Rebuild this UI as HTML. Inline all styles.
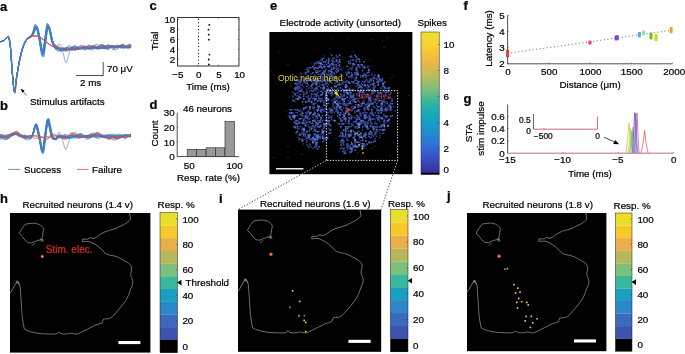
<!DOCTYPE html>
<html lang="en"><head><meta charset="utf-8"><title>Figure</title>
<style>html,body{margin:0;padding:0;background:#fff}svg{display:block}text{font-family:'Liberation Sans', Arial, Helvetica, sans-serif;font-size:9.8px;stroke:#000;stroke-width:.22px}</style>
</head><body>
<svg width="685" height="354" viewBox="0 0 685 354">
<rect width="685" height="354" fill="#fff"/>
<text x="0" y="11" font-weight="bold" style="font-size:13px">a</text>
<text x="0" y="110" font-weight="bold" style="font-size:13px">b</text>
<text x="149.5" y="10" font-weight="bold" style="font-size:13px">c</text>
<text x="149.5" y="109" font-weight="bold" style="font-size:13px">d</text>
<text x="270" y="10.2" font-weight="bold" style="font-size:13px">e</text>
<text x="463.5" y="10.3" font-weight="bold" style="font-size:13px">f</text>
<text x="463.5" y="103" font-weight="bold" style="font-size:13px">g</text>
<text x="0" y="202.5" font-weight="bold" style="font-size:13px">h</text>
<text x="219" y="202.5" font-weight="bold" style="font-size:13px">i</text>
<text x="447" y="199.5" font-weight="bold" style="font-size:13px">j</text>
<g stroke-linejoin="round">
<path d="M0.3 41.9 0.7 41.7 1.1 41.6 1.5 41.5 1.9 41.4 2.3 41.3 2.7 41.2 3.1 41.1 3.5 40.9 3.9 40.7 4.3 40.4 4.7 40.1 5.1 39.6 5.5 39.1 5.9 38.5 6.3 37.9 6.7 37.4 7.1 36.9 7.5 36.5 7.9 36.3 8.3 36.2 8.7 36.5 9.1 37.4 9.5 38.8 9.9 40.9 10.3 43.7 10.7 47.2 11.1 51.6 11.4 56.8 11.8 62.5 12.2 68.1 12.6 73.4 13 78 13.4 82.7 13.8 87.2 14.2 90.8 14.6 93 15 93 15.4 90.9 15.8 87.3 16.2 83.3 16.6 79.5 17 76.7 17.4 74.1 17.8 71.6 18.2 69.2 18.6 66.9 19 64.6 19.4 62.5 19.8 60.5 20.2 58.6 20.6 56.8 21 55.2 21.4 53.6 21.8 52.1 22.2 50.6 22.6 49.3 23 48 23.4 46.8 23.8 45.7 24.2 44.7 24.6 43.7 25 42.9 25.4 42.1 25.8 41.4 26.2 40.8 26.6 40.1 27 39.6 27.4 39.1 27.8 38.6 28.2 38.2 28.6 37.9 29 37.6 29.4 37.4 29.8 37.2 30.2 37 30.6 36.9 31 36.7 31.4 36.6 31.8 36.5 32.2 36.4 32.6 36.3 33 36.2 33.3 36.1 33.7 36.1 34.1 36.1 34.5 36.1 34.9 36.1 35.3 36.1 35.7 36.1 36.1 36.2 36.5 36.2 36.9 36.3 37.3 36.4 37.7 36.5 38.1 36.6 38.5 36.7 38.9 36.8 39.3 37 39.7 37.1 40.1 37.4 40.5 37.6 40.9 37.9 41.3 38.2 41.7 38.5 42.1 38.9 42.5 39.2 42.9 39.5 43.3 39.9 43.7 40.2 44.1 40.6 44.5 40.9 44.9 41.2 45.3 41.5 45.7 41.8 46.1 42.1 46.5 42.4 46.9 42.7 47.3 43 47.7 43.3 48.1 43.6 48.5 43.9 48.9 44.1 49.3 44.4 49.7 44.6 50.1 44.8 50.5 45.1 50.9 45.3 51.3 45.5 51.7 45.8 52.1 46 52.5 46.2 52.9 46.4 53.3 46.5 53.7 46.6 54.1 46.6 54.5 46.7 54.9 46.7 55.2 46.7 55.6 46.7 56 46.6 56.4 46.5 56.8 46.4 57.2 46.3 57.6 46.2 58 46.1 58.4 46.2 58.8 46.5 59.2 46.9 59.6 47.3 60 47.8 60.4 48.1 60.8 48.3 61.2 48.4 61.6 48.4 62 48.3 62.4 48.3 62.8 48.3 63.2 48.4 63.6 48.6 64 48.8 64.4 49 64.8 49.3 65.2 49.5 65.6 49.6 66 49.7 66.4 49.7 66.8 49.7 67.2 49.7 67.6 49.6 68 49.5 68.4 49.3 68.8 49.1 69.2 48.9 69.6 48.7 70 48.5 70.4 48.4 70.8 48.3 71.2 48.3 71.6 48.2 72 48.2 72.4 48.1 72.8 48.1 73.2 48.2 73.6 48.3 74 48.5 74.4 48.7 74.8 48.8 75.2 48.9 75.6 48.9 76 48.8 76.4 48.7 76.7 48.5 77.1 48.3 77.5 48 77.9 47.7 78.3 47.5 78.7 47.2 79.1 46.9 79.5 46.6 79.9 46.4 80.3 46.3 80.7 46.2 81.1 46.1 81.5 46 81.9 45.9 82.3 45.8 82.7 45.7 83.1 45.7 83.5 45.8 83.9 46.1 84.3 46.4 84.7 46.7 85.1 47 85.5 47.3 85.9 47.4 86.3 47.4 86.7 47.4 87.1 47.3 87.5 47.3 87.9 47.2 88.3 47.1 88.7 47.1 89.1 47.1 89.5 47.2 89.9 47.2 90.3 47.3 90.7 47.5 91.1 47.6 91.5 47.7 91.9 47.7 92.3 47.8 92.7 47.8 93.1 47.9 93.5 48 93.9 48.1 94.3 48.2 94.7 48.4 95.1 48.6 95.5 48.7 95.9 48.8 96.3 48.9 96.7 48.9 97.1 48.8 97.5 48.7 97.9 48.6 98.3 48.5 98.6 48.4 99 48.3 99.4 48.2 99.8 48 100.2 47.8 100.6 47.7 101 47.5 101.4 47.5 101.8 47.4 102.2 47.4 102.6 47.5 103 47.6 103.4 47.6 103.8 47.7 104.2 47.8 104.6 47.9 105 48 105.4 48.1 105.8 48.2 106.2 48.3 106.6 48.3 107 48.3 107.4 48.3 107.8 48.2 108.2 48.1 108.6 48 109 47.8 109.4 47.7 109.8 47.6 110.2 47.5 110.6 47.4 111 47.3 111.4 47.2 111.8 47.1 112.2 47.1 112.6 47.1 113 47.1 113.4 47.1 113.8 47.2 114.2 47.2 114.6 47.1 115 47.1 115.4 47.1 115.8 47.1 116.2 47 116.6 47 117 47 117.4 47 117.8 46.9 118.2 46.8 118.6 46.7 119 46.5 119.4 46.3 119.8 46.1 120.2 45.8 120.5 45.6 120.9 45.4 121.3 45.3 121.7 45.2 122.1 45.1 122.5 45.1 122.9 45.1 123.3 45.1 123.7 45.1 124.1 45.3 124.5 45.5 124.9 45.7 125.3 46 125.7 46.2 126.1 46.3 126.5 46.3 126.9 46.2 127.3 46.1 127.7 45.9 128.1 45.7 128.5 45.5 128.9 45.4 129.3 45.3 129.7 45.2 130.1 45.1 130.5 45 130.9 44.9 131.3 44.8" fill="none" stroke="#e0453f" stroke-width="0.8"/>
<path d="M0.3 41.8 0.7 41.7 1.1 41.6 1.5 41.5 1.9 41.4 2.3 41.3 2.7 41.2 3.1 41 3.5 40.8 3.9 40.6 4.3 40.4 4.7 40 5.1 39.6 5.5 39 5.9 38.5 6.3 37.9 6.7 37.3 7.1 36.9 7.5 36.5 7.9 36.3 8.3 36.2 8.7 36.5 9.1 37.4 9.5 38.8 9.9 40.9 10.3 43.7 10.7 47.2 11.1 51.6 11.4 56.8 11.8 62.5 12.2 68.1 12.6 73.4 13 78 13.4 82.8 13.8 87.2 14.2 90.8 14.6 93 15 93 15.4 90.9 15.8 87.3 16.2 83.3 16.6 79.6 17 76.7 17.4 74.2 17.8 71.7 18.2 69.3 18.6 66.9 19 64.7 19.4 62.5 19.8 60.5 20.2 58.6 20.6 56.9 21 55.2 21.4 53.7 21.8 52.1 22.2 50.7 22.6 49.3 23 48 23.4 46.8 23.8 45.7 24.2 44.7 24.6 43.7 25 42.9 25.4 42.1 25.8 41.4 26.2 40.7 26.6 40.1 27 39.5 27.4 39 27.8 38.5 28.2 38.1 28.6 37.8 29 37.5 29.4 37.2 29.8 37 30.2 36.8 30.6 36.7 31 36.5 31.4 36.4 31.8 36.3 32.2 36.2 32.6 36.1 33 36 33.3 36 33.7 35.9 34.1 35.9 34.5 35.9 34.9 35.9 35.3 36 35.7 36 36.1 36.1 36.5 36.2 36.9 36.3 37.3 36.4 37.7 36.5 38.1 36.6 38.5 36.7 38.9 36.9 39.3 37.1 39.7 37.3 40.1 37.5 40.5 37.8 40.9 38.1 41.3 38.4 41.7 38.7 42.1 39 42.5 39.3 42.9 39.6 43.3 40 43.7 40.3 44.1 40.6 44.5 40.9 44.9 41.2 45.3 41.5 45.7 41.8 46.1 42 46.5 42.3 46.9 42.6 47.3 42.9 47.7 43.1 48.1 43.4 48.5 43.7 48.9 43.9 49.3 44.2 49.7 44.5 50.1 44.7 50.5 45 50.9 45.2 51.3 45.5 51.7 45.8 52.1 46 52.5 46.3 52.9 46.5 53.3 46.8 53.7 47 54.1 47.3 54.5 47.6 54.9 48 55.2 48.3 55.6 48.6 56 48.8 56.4 48.9 56.8 48.9 57.2 48.7 57.6 48.6 58 48.4 58.4 48.3 58.8 48.3 59.2 48.3 59.6 48.3 60 48.3 60.4 48.3 60.8 48.3 61.2 48.2 61.6 48.2 62 48.1 62.4 48 62.8 47.9 63.2 47.8 63.6 47.8 64 47.8 64.4 47.9 64.8 48 65.2 48 65.6 48.1 66 48.1 66.4 48.1 66.8 48.1 67.2 48 67.6 48 68 48.1 68.4 48.1 68.8 48.3 69.2 48.5 69.6 48.7 70 48.9 70.4 49 70.8 49.1 71.2 49 71.6 48.8 72 48.6 72.4 48.3 72.8 48.1 73.2 47.9 73.6 47.8 74 47.8 74.4 47.8 74.8 47.9 75.2 48 75.6 48.1 76 48.2 76.4 48.4 76.7 48.5 77.1 48.7 77.5 48.8 77.9 48.9 78.3 49 78.7 49 79.1 49 79.5 48.9 79.9 48.8 80.3 48.6 80.7 48.4 81.1 48.2 81.5 47.8 81.9 47.4 82.3 47 82.7 46.7 83.1 46.4 83.5 46.2 83.9 46.2 84.3 46.3 84.7 46.5 85.1 46.7 85.5 46.9 85.9 46.9 86.3 46.8 86.7 46.6 87.1 46.4 87.5 46.1 87.9 45.9 88.3 45.8 88.7 45.7 89.1 45.8 89.5 46 89.9 46.2 90.3 46.4 90.7 46.7 91.1 46.9 91.5 47.1 91.9 47.2 92.3 47.3 92.7 47.4 93.1 47.5 93.5 47.6 93.9 47.7 94.3 47.8 94.7 47.9 95.1 48 95.5 48 95.9 47.9 96.3 47.8 96.7 47.6 97.1 47.3 97.5 47.1 97.9 46.8 98.3 46.5 98.6 46.3 99 46 99.4 45.7 99.8 45.4 100.2 45.1 100.6 44.8 101 44.6 101.4 44.5 101.8 44.5 102.2 44.5 102.6 44.6 103 44.7 103.4 44.9 103.8 45.2 104.2 45.5 104.6 46 105 46.4 105.4 46.9 105.8 47.3 106.2 47.6 106.6 47.7 107 47.7 107.4 47.7 107.8 47.6 108.2 47.5 108.6 47.4 109 47.4 109.4 47.5 109.8 47.5 110.2 47.6 110.6 47.6 111 47.6 111.4 47.5 111.8 47.4 112.2 47.2 112.6 47.1 113 46.9 113.4 46.8 113.8 46.8 114.2 46.7 114.6 46.7 115 46.6 115.4 46.6 115.8 46.6 116.2 46.6 116.6 46.8 117 47 117.4 47.2 117.8 47.4 118.2 47.6 118.6 47.6 119 47.4 119.4 47.2 119.8 46.8 120.2 46.5 120.5 46.1 120.9 45.7 121.3 45.4 121.7 45.1 122.1 44.8 122.5 44.5 122.9 44.3 123.3 44.2 123.7 44.2 124.1 44.4 124.5 44.9 124.9 45.4 125.3 45.9 125.7 46.4 126.1 46.6 126.5 46.6 126.9 46.2 127.3 45.7 127.7 45.1 128.1 44.6 128.5 44.2 128.9 44.1 129.3 44.2 129.7 44.4 130.1 44.7 130.5 45.1 130.9 45.5 131.3 45.8" fill="none" stroke="#e0453f" stroke-width="0.8"/>
<path d="M0 41.8 0.4 41.7 0.8 41.6 1.2 41.5 1.6 41.4 2 41.3 2.4 41.2 2.8 41.1 3.2 40.9 3.6 40.7 4 40.5 4.4 40.2 4.8 39.9 5.2 39.4 5.6 39 6 38.5 6.4 38 6.8 37.6 7.2 37.3 7.6 37.1 8 37 8.4 37.3 8.8 38 9.2 39.4 9.6 41.4 10 44.1 10.4 47.5 10.8 51.7 11.1 56.9 11.5 62.5 11.9 68.1 12.3 73.2 12.7 77.7 13.1 82.2 13.5 86.4 13.9 89.7 14.3 91.7 14.7 91.8 15.1 89.8 15.5 86.5 15.9 82.7 16.3 79.2 16.7 76.5 17.1 74 17.5 71.5 17.9 69.1 18.3 66.7 18.7 64.4 19.1 62.2 19.5 60.2 19.9 58.2 20.3 56.4 20.7 54.7 21.1 53 21.5 51.5 21.9 49.9 22.3 48.5 22.7 47.1 23.1 45.9 23.5 44.7 23.9 43.7 24.3 42.8 24.7 42 25.1 41.2 25.5 40.6 25.9 39.9 26.3 39.4 26.7 38.9 27.1 38.4 27.5 38.1 27.9 37.7 28.3 37.5 28.7 37.3 29.1 37.2 29.5 37.1 29.9 37 30.3 36.9 30.7 36.8 31.1 36.6 31.5 36.4 31.9 36 32.3 35.6 32.7 35.1 33 34.6 33.4 33.9 33.8 33.1 34.2 32.1 34.6 31 35 29.7 35.4 28.5 35.8 27.5 36.2 26.9 36.6 26.7 37 27.3 37.4 28.3 37.8 29.6 38.2 31.1 38.6 32.7 39 34.7 39.4 36.8 39.8 38.9 40.2 41 40.6 43.1 41 45.5 41.4 47.9 41.8 50.2 42.2 52.1 42.6 53.5 43 54.3 43.4 54.2 43.8 53 44.2 50.9 44.6 48.3 45 45.5 45.4 42.6 45.8 39.9 46.2 36.8 46.6 33.6 47 31.1 47.4 29.1 47.8 27.3 48.2 26.1 48.6 25.8 49 26.3 49.4 27.4 49.8 28.8 50.2 30.3 50.6 31.8 51 33.5 51.4 35.5 51.8 37.4 52.2 39.2 52.6 40.7 53 41.8 53.4 42.8 53.8 43.7 54.2 44.6 54.6 45.5 54.9 46.3 55.3 47 55.7 47.4 56.1 47.7 56.5 47.7 56.9 47.6 57.3 47.4 57.7 47.1 58.1 47.1 58.5 47.2 58.9 47.4 59.3 47.7 59.7 48 60.1 48.3 60.5 48.6 60.9 48.9 61.3 49.2 61.7 49.4 62.1 49.7 62.5 49.8 62.9 49.9 63.3 49.9 63.7 49.8 64.1 49.6 64.5 49.3 64.9 49.1 65.3 49 65.7 48.9 66.1 49 66.5 49.1 66.9 49.2 67.3 49.3 67.7 49.3 68.1 49.3 68.5 49.1 68.9 48.9 69.3 48.7 69.7 48.4 70.1 48.1 70.5 47.9 70.9 47.7 71.3 47.5 71.7 47.4 72.1 47.3 72.5 47.1 72.9 46.9 73.3 46.7 73.7 46.4 74.1 46.1 74.5 45.8 74.9 45.6 75.3 45.5 75.7 45.6 76.1 46 76.4 46.6 76.8 47.2 77.2 47.8 77.6 48.4 78 48.7 78.4 48.9 78.8 48.8 79.2 48.5 79.6 48.2 80 47.9 80.4 47.7 80.8 47.6 81.2 47.6 81.6 47.7 82 47.8 82.4 47.9 82.8 47.9 83.2 48 83.6 48 84 48 84.4 48 84.8 47.9 85.2 47.9 85.6 47.7 86 47.4 86.4 47.1 86.8 46.6 87.2 46.2 87.6 45.8 88 45.5 88.4 45.3 88.8 45.3 89.2 45.3 89.6 45.4 90 45.5 90.4 45.7 90.8 45.8 91.2 45.9 91.6 46.1 92 46.3 92.4 46.5 92.8 46.6 93.2 46.5 93.6 46.3 94 46 94.4 45.5 94.8 45.1 95.2 44.6 95.6 44.3 96 44.2 96.4 44.2 96.8 44.3 97.2 44.5 97.6 44.7 98 44.9 98.3 45.1 98.7 45.2 99.1 45.3 99.5 45.3 99.9 45.4 100.3 45.5 100.7 45.5 101.1 45.5 101.5 45.5 101.9 45.5 102.3 45.4 102.7 45.5 103.1 45.5 103.5 45.7 103.9 45.9 104.3 46.1 104.7 46.4 105.1 46.7 105.5 47.1 105.9 47.4 106.3 47.9 106.7 48.4 107.1 48.8 107.5 49.2 107.9 49.4 108.3 49.5 108.7 49.4 109.1 49.1 109.5 48.8 109.9 48.4 110.3 48 110.7 47.6 111.1 47.3 111.5 46.9 111.9 46.6 112.3 46.3 112.7 46.1 113.1 46 113.5 45.9 113.9 45.9 114.3 46 114.7 46.1 115.1 46.2 115.5 46.3 115.9 46.3 116.3 46.3 116.7 46.2 117.1 46.2 117.5 46.1 117.9 46 118.3 46 118.7 46 119.1 45.9 119.5 45.8 119.9 45.7 120.2 45.7 120.6 45.7 121 45.9 121.4 46.2 121.8 46.6 122.2 47.1 122.6 47.5 123 47.8 123.4 48 123.8 47.9 124.2 47.6 124.6 47.3 125 46.9 125.4 46.6 125.8 46.3 126.2 46.2 126.6 46.1 127 46 127.4 46 127.8 46 128.2 45.9 128.6 45.9 129 45.8 129.4 45.7 129.8 45.7 130.2 45.6 130.6 45.5 131 45.5" fill="none" stroke="#3777bb" stroke-width="0.8"/>
<path d="M0 41.7 0.4 41.6 0.8 41.5 1.2 41.4 1.6 41.3 2 41.2 2.4 41.1 2.8 41 3.2 40.8 3.6 40.6 4 40.4 4.4 40.1 4.8 39.8 5.2 39.3 5.6 38.9 6 38.4 6.4 37.9 6.8 37.5 7.2 37.2 7.6 37 8 36.9 8.4 37.2 8.8 37.9 9.2 39.3 9.6 41.3 10 43.9 10.4 47.3 10.8 51.6 11.1 56.8 11.5 62.4 11.9 68 12.3 73.1 12.7 77.5 13.1 82 13.5 86.2 13.9 89.6 14.3 91.5 14.7 91.6 15.1 89.6 15.5 86.3 15.9 82.5 16.3 78.9 16.7 76.2 17.1 73.7 17.5 71.2 17.9 68.8 18.3 66.4 18.7 64.1 19.1 62 19.5 59.9 19.9 58.1 20.3 56.3 20.7 54.6 21.1 53.1 21.5 51.6 21.9 50.1 22.3 48.8 22.7 47.5 23.1 46.3 23.5 45.3 23.9 44.3 24.3 43.4 24.7 42.6 25.1 41.8 25.5 41.2 25.9 40.5 26.3 39.9 26.7 39.4 27.1 38.9 27.5 38.5 27.9 38.1 28.3 37.8 28.7 37.5 29.1 37.3 29.5 37.2 29.9 37 30.3 36.9 30.7 36.7 31.1 36.4 31.5 36 31.9 35.6 32.3 35 32.7 34.4 33 33.8 33.4 33 33.8 32.1 34.2 31.1 34.6 29.8 35 28.6 35.4 27.5 35.8 26.6 36.2 26.2 36.6 26.3 37 27 37.4 28.1 37.8 29.5 38.2 31 38.6 32.8 39 34.9 39.4 37 39.8 39.1 40.2 41.1 40.6 43.4 41 45.8 41.4 48.2 41.8 50.3 42.2 52.1 42.6 53.3 43 53.7 43.4 53.1 43.8 51.5 44.2 49.1 44.6 46.2 45 43.3 45.4 40.6 45.8 37.6 46.2 34.4 46.6 31.6 47 29.4 47.4 27.6 47.8 26.1 48.2 25.4 48.6 25.4 49 26.2 49.4 27.4 49.8 29 50.2 30.6 50.6 32.3 51 34.2 51.4 36.3 51.8 38.3 52.2 40 52.6 41.4 53 42.5 53.4 43.5 53.8 44.4 54.2 45.2 54.6 45.9 54.9 46.5 55.3 47.1 55.7 47.5 56.1 47.8 56.5 48 56.9 48.2 57.3 48.2 57.7 48.2 58.1 48.2 58.5 48.3 58.9 48.4 59.3 48.5 59.7 48.7 60.1 48.8 60.5 48.9 60.9 48.9 61.3 48.9 61.7 49 62.1 49.1 62.5 49.1 62.9 49.2 63.3 49.3 63.7 49.3 64.1 49.3 64.5 49.3 64.9 49.3 65.3 49.3 65.7 49.3 66.1 49.3 66.5 49.4 66.9 49.4 67.3 49.4 67.7 49.3 68.1 49.1 68.5 48.9 68.9 48.5 69.3 48.2 69.7 47.8 70.1 47.6 70.5 47.5 70.9 47.6 71.3 47.9 71.7 48.2 72.1 48.5 72.5 48.8 72.9 49.1 73.3 49.3 73.7 49.5 74.1 49.7 74.5 49.7 74.9 49.8 75.3 49.8 75.7 49.7 76.1 49.5 76.4 49.1 76.8 48.8 77.2 48.4 77.6 48.1 78 47.9 78.4 47.9 78.8 48 79.2 48.2 79.6 48.5 80 48.6 80.4 48.6 80.8 48.5 81.2 48.2 81.6 47.8 82 47.4 82.4 47.1 82.8 46.8 83.2 46.6 83.6 46.7 84 46.9 84.4 47.2 84.8 47.5 85.2 47.8 85.6 48.1 86 48.3 86.4 48.4 86.8 48.5 87.2 48.6 87.6 48.6 88 48.6 88.4 48.6 88.8 48.5 89.2 48.4 89.6 48.2 90 48 90.4 47.8 90.8 47.8 91.2 47.8 91.6 47.9 92 48 92.4 48.2 92.8 48.3 93.2 48.3 93.6 48.2 94 48 94.4 47.7 94.8 47.5 95.2 47.3 95.6 47.1 96 47 96.4 46.9 96.8 46.8 97.2 46.8 97.6 46.7 98 46.7 98.3 46.6 98.7 46.6 99.1 46.5 99.5 46.4 99.9 46.3 100.3 46.2 100.7 46.2 101.1 46.1 101.5 46.1 101.9 46.1 102.3 46.1 102.7 46 103.1 46 103.5 46 103.9 45.9 104.3 45.9 104.7 45.8 105.1 45.7 105.5 45.7 105.9 45.7 106.3 45.8 106.7 45.9 107.1 46 107.5 46.1 107.9 46.2 108.3 46.3 108.7 46.4 109.1 46.4 109.5 46.4 109.9 46.4 110.3 46.4 110.7 46.5 111.1 46.7 111.5 47 111.9 47.3 112.3 47.7 112.7 48 113.1 48.3 113.5 48.6 113.9 48.9 114.3 49.1 114.7 49.3 115.1 49.4 115.5 49.5 115.9 49.6 116.3 49.5 116.7 49.3 117.1 49 117.5 48.7 117.9 48.2 118.3 47.8 118.7 47.3 119.1 46.8 119.5 46.3 119.9 45.8 120.2 45.3 120.6 45 121 44.8 121.4 44.8 121.8 44.9 122.2 45.2 122.6 45.5 123 45.9 123.4 46.2 123.8 46.4 124.2 46.7 124.6 46.9 125 47 125.4 47.1 125.8 47.2 126.2 47.1 126.6 47 127 46.8 127.4 46.6 127.8 46.3 128.2 46 128.6 45.8 129 45.5 129.4 45.2 129.8 45 130.2 44.7 130.6 44.5 131 44.3" fill="none" stroke="#3777bb" stroke-width="0.8"/>
<path d="M0 41.8 0.4 41.7 0.8 41.6 1.2 41.5 1.6 41.4 2 41.3 2.4 41.2 2.8 41.1 3.2 40.9 3.6 40.8 4 40.6 4.4 40.3 4.8 39.9 5.2 39.5 5.6 39 6 38.6 6.4 38.1 6.8 37.7 7.2 37.4 7.6 37.2 8 37.1 8.4 37.3 8.8 38.1 9.2 39.4 9.6 41.4 10 44.1 10.4 47.5 10.8 51.7 11.1 56.9 11.5 62.5 11.9 68.1 12.3 73.2 12.7 77.6 13.1 82.1 13.5 86.3 13.9 89.6 14.3 91.6 14.7 91.6 15.1 89.6 15.5 86.3 15.9 82.5 16.3 78.9 16.7 76.2 17.1 73.6 17.5 71.1 17.9 68.7 18.3 66.3 18.7 64.1 19.1 61.9 19.5 59.9 19.9 58 20.3 56.3 20.7 54.6 21.1 53.1 21.5 51.6 21.9 50.2 22.3 48.9 22.7 47.7 23.1 46.5 23.5 45.5 23.9 44.5 24.3 43.6 24.7 42.8 25.1 42 25.5 41.4 25.9 40.7 26.3 40.1 26.7 39.6 27.1 39.1 27.5 38.6 27.9 38.2 28.3 37.9 28.7 37.6 29.1 37.4 29.5 37.2 29.9 37.1 30.3 36.9 30.7 36.6 31.1 36.1 31.5 35.5 31.9 34.8 32.3 34 32.7 33.1 33 32.2 33.4 31.4 33.8 30.5 34.2 29.5 34.6 28.6 35 27.8 35.4 27.2 35.8 26.8 36.2 26.9 36.6 27.8 37 29.1 37.4 30.7 37.8 32.4 38.2 34.4 38.6 36.5 39 38.6 39.4 40.7 39.8 43 40.2 45.5 40.6 48 41 50.3 41.4 52.4 41.8 54 42.2 55 42.6 55.1 43 53.8 43.4 51.3 43.8 48 44.2 44.5 44.6 41.2 45 38.1 45.4 34.9 45.8 32.3 46.2 30.5 46.6 29.1 47 28 47.4 27.2 47.8 26.8 48.2 27.1 48.6 28 49 29.5 49.4 31.1 49.8 32.8 50.2 34.7 50.6 36.7 51 38.6 51.4 40.4 51.8 41.7 52.2 42.8 52.6 43.8 53 44.5 53.4 45 53.8 45.3 54.2 45.4 54.6 45.3 54.9 45.2 55.3 45 55.7 45.1 56.1 45.4 56.5 45.9 56.9 46.7 57.3 47.5 57.7 48.3 58.1 48.9 58.5 49.3 58.9 49.6 59.3 49.8 59.7 49.9 60.1 50 60.5 50.2 60.9 50.3 61.3 50.4 61.7 50.4 62.1 50.5 62.5 50.4 62.9 50.4 63.3 50.4 63.7 50.3 64.1 50.3 64.5 50.3 64.9 50.3 65.3 50.2 65.7 50.2 66.1 50.1 66.5 50 66.9 49.9 67.3 49.8 67.7 49.7 68.1 49.6 68.5 49.6 68.9 49.6 69.3 49.6 69.7 49.6 70.1 49.6 70.5 49.6 70.9 49.6 71.3 49.7 71.7 49.8 72.1 49.9 72.5 49.9 72.9 49.9 73.3 49.8 73.7 49.6 74.1 49.3 74.5 49.1 74.9 48.8 75.3 48.6 75.7 48.4 76.1 48.2 76.4 48 76.8 47.8 77.2 47.6 77.6 47.5 78 47.4 78.4 47.5 78.8 47.6 79.2 47.8 79.6 48 80 48.2 80.4 48.3 80.8 48.3 81.2 48.3 81.6 48.3 82 48.2 82.4 48.1 82.8 48 83.2 47.9 83.6 47.7 84 47.5 84.4 47.3 84.8 47.1 85.2 46.9 85.6 46.8 86 46.8 86.4 46.8 86.8 46.9 87.2 46.9 87.6 47 88 47 88.4 47.1 88.8 47.2 89.2 47.2 89.6 47.3 90 47.3 90.4 47.2 90.8 47.1 91.2 46.9 91.6 46.7 92 46.4 92.4 46.2 92.8 45.9 93.2 45.8 93.6 45.7 94 45.7 94.4 45.7 94.8 45.8 95.2 45.9 95.6 46 96 46.1 96.4 46.2 96.8 46.5 97.2 46.7 97.6 46.9 98 46.9 98.3 46.9 98.7 46.6 99.1 46.2 99.5 45.8 99.9 45.3 100.3 45 100.7 44.8 101.1 44.7 101.5 44.8 101.9 45 102.3 45.3 102.7 45.6 103.1 45.9 103.5 46.2 103.9 46.6 104.3 47.1 104.7 47.5 105.1 48 105.5 48.4 105.9 48.7 106.3 48.9 106.7 49 107.1 49 107.5 49 107.9 48.8 108.3 48.6 108.7 48.2 109.1 47.8 109.5 47.3 109.9 46.8 110.3 46.3 110.7 45.9 111.1 45.6 111.5 45.4 111.9 45.3 112.3 45.3 112.7 45.4 113.1 45.6 113.5 45.7 113.9 45.9 114.3 46.1 114.7 46.3 115.1 46.6 115.5 46.8 115.9 47 116.3 47.3 116.7 47.6 117.1 47.8 117.5 47.9 117.9 48 118.3 48 118.7 47.8 119.1 47.4 119.5 46.9 119.9 46.4 120.2 45.9 120.6 45.6 121 45.5 121.4 45.6 121.8 45.8 122.2 46.2 122.6 46.5 123 46.8 123.4 46.9 123.8 46.9 124.2 46.8 124.6 46.7 125 46.5 125.4 46.4 125.8 46.2 126.2 46.2 126.6 46.2 127 46.3 127.4 46.4 127.8 46.5 128.2 46.5 128.6 46.5 129 46.5 129.4 46.4 129.8 46.2 130.2 46.1 130.6 46 131 45.8" fill="none" stroke="#3777bb" stroke-width="0.8"/>
<path d="M0 41.9 0.4 41.7 0.8 41.6 1.2 41.5 1.6 41.4 2 41.3 2.4 41.2 2.8 41.1 3.2 40.9 3.6 40.7 4 40.5 4.4 40.2 4.8 39.8 5.2 39.4 5.6 38.9 6 38.4 6.4 38 6.8 37.6 7.2 37.2 7.6 37 8 36.9 8.4 37.2 8.8 37.9 9.2 39.3 9.6 41.3 10 44 10.4 47.4 10.8 51.6 11.1 56.8 11.5 62.4 11.9 68 12.3 73.2 12.7 77.6 13.1 82.1 13.5 86.3 13.9 89.7 14.3 91.7 14.7 91.7 15.1 89.8 15.5 86.5 15.9 82.7 16.3 79.2 16.7 76.5 17.1 74 17.5 71.6 17.9 69.2 18.3 66.9 18.7 64.6 19.1 62.5 19.5 60.5 19.9 58.6 20.3 56.9 20.7 55.3 21.1 53.7 21.5 52.2 21.9 50.8 22.3 49.5 22.7 48.2 23.1 47 23.5 45.9 23.9 44.9 24.3 44 24.7 43.2 25.1 42.4 25.5 41.7 25.9 41 26.3 40.4 26.7 39.8 27.1 39.2 27.5 38.8 27.9 38.3 28.3 38 28.7 37.6 29.1 37.4 29.5 37.2 29.9 37 30.3 36.8 30.7 36.5 31.1 36.1 31.5 35.6 31.9 35 32.3 34.3 32.7 33.5 33 32.6 33.4 31.5 33.8 30.2 34.2 28.8 34.6 27.5 35 26.4 35.4 25.8 35.8 25.8 36.2 26.4 36.6 27.5 37 28.9 37.4 30.4 37.8 32 38.2 33.9 38.6 36.1 39 38.3 39.4 40.3 39.8 42.4 40.2 44.8 40.6 47.2 41 49.4 41.4 51.3 41.8 52.7 42.2 53.5 42.6 53.3 43 52.1 43.4 50.1 43.8 47.6 44.2 44.9 44.6 42.1 45 39.5 45.4 36.3 45.8 33 46.2 30.3 46.6 27.9 47 25.9 47.4 24.5 47.8 24.2 48.2 24.7 48.6 25.7 49 27.1 49.4 28.7 49.8 30.3 50.2 32.1 50.6 34.2 51 36.4 51.4 38.5 51.8 40.3 52.2 41.7 52.6 42.9 53 44 53.4 45 53.8 45.8 54.2 46.5 54.6 47.2 54.9 47.7 55.3 48.1 55.7 48.4 56.1 48.6 56.5 48.5 56.9 48.4 57.3 48.2 57.7 48 58.1 47.9 58.5 48 58.9 48.1 59.3 48.2 59.7 48.3 60.1 48.4 60.5 48.4 60.9 48.4 61.3 48.4 61.7 48.4 62.1 48.4 62.5 48.4 62.9 48.4 63.3 48.4 63.7 48.4 64.1 48.4 64.5 48.3 64.9 48.2 65.3 48.1 65.7 48 66.1 47.8 66.5 47.5 66.9 47.2 67.3 46.8 67.7 46.5 68.1 46.3 68.5 46 68.9 45.9 69.3 45.8 69.7 45.8 70.1 45.8 70.5 46 70.9 46.2 71.3 46.6 71.7 47 72.1 47.5 72.5 48 72.9 48.4 73.3 48.8 73.7 49.1 74.1 49.4 74.5 49.6 74.9 49.6 75.3 49.7 75.7 49.6 76.1 49.6 76.4 49.4 76.8 49.3 77.2 49.1 77.6 48.9 78 48.7 78.4 48.6 78.8 48.4 79.2 48.3 79.6 48.3 80 48.2 80.4 48.2 80.8 48.1 81.2 47.9 81.6 47.6 82 47.4 82.4 47.2 82.8 47.1 83.2 47.1 83.6 47.2 84 47.5 84.4 47.8 84.8 48.2 85.2 48.5 85.6 48.7 86 48.8 86.4 48.8 86.8 48.7 87.2 48.6 87.6 48.5 88 48.4 88.4 48.4 88.8 48.5 89.2 48.6 89.6 48.7 90 48.7 90.4 48.7 90.8 48.7 91.2 48.6 91.6 48.6 92 48.5 92.4 48.4 92.8 48.3 93.2 48.2 93.6 48.1 94 47.9 94.4 47.8 94.8 47.7 95.2 47.6 95.6 47.6 96 47.6 96.4 47.6 96.8 47.6 97.2 47.6 97.6 47.6 98 47.6 98.3 47.6 98.7 47.7 99.1 47.9 99.5 48 99.9 48.1 100.3 48.2 100.7 48.1 101.1 48 101.5 47.7 101.9 47.5 102.3 47.2 102.7 47 103.1 46.8 103.5 46.7 103.9 46.6 104.3 46.5 104.7 46.4 105.1 46.4 105.5 46.3 105.9 46.1 106.3 45.9 106.7 45.6 107.1 45.2 107.5 44.9 107.9 44.7 108.3 44.5 108.7 44.6 109.1 44.8 109.5 45.1 109.9 45.5 110.3 45.8 110.7 46.1 111.1 46.2 111.5 46.3 111.9 46.4 112.3 46.4 112.7 46.5 113.1 46.6 113.5 46.7 113.9 46.9 114.3 47 114.7 47.2 115.1 47.4 115.5 47.5 115.9 47.5 116.3 47.5 116.7 47.3 117.1 47.1 117.5 46.9 117.9 46.7 118.3 46.6 118.7 46.6 119.1 46.6 119.5 46.7 119.9 46.7 120.2 46.8 120.6 46.9 121 46.9 121.4 46.9 121.8 46.9 122.2 46.9 122.6 46.8 123 46.8 123.4 46.8 123.8 46.8 124.2 46.9 124.6 47 125 47.1 125.4 47.2 125.8 47.2 126.2 47.2 126.6 47 127 46.7 127.4 46.5 127.8 46.2 128.2 46.1 128.6 46.1 129 46.2 129.4 46.4 129.8 46.7 130.2 46.9 130.6 47.2 131 47.4" fill="none" stroke="#3777bb" stroke-width="0.8"/>
<path d="M0 41.8 0.4 41.7 0.8 41.6 1.2 41.5 1.6 41.4 2 41.3 2.4 41.2 2.8 41.1 3.2 40.9 3.6 40.8 4 40.6 4.4 40.3 4.8 39.9 5.2 39.5 5.6 39 6 38.5 6.4 38.1 6.8 37.7 7.2 37.4 7.6 37.2 8 37.1 8.4 37.3 8.8 38.1 9.2 39.4 9.6 41.4 10 44.1 10.4 47.5 10.8 51.8 11.1 56.9 11.5 62.6 11.9 68.2 12.3 73.3 12.7 77.7 13.1 82.2 13.5 86.4 13.9 89.8 14.3 91.7 14.7 91.8 15.1 89.8 15.5 86.5 15.9 82.8 16.3 79.3 16.7 76.6 17.1 74.1 17.5 71.6 17.9 69.2 18.3 66.9 18.7 64.7 19.1 62.5 19.5 60.5 19.9 58.6 20.3 56.9 20.7 55.2 21.1 53.6 21.5 52.1 21.9 50.7 22.3 49.3 22.7 48 23.1 46.9 23.5 45.8 23.9 44.8 24.3 43.8 24.7 43 25.1 42.3 25.5 41.6 25.9 41 26.3 40.4 26.7 39.9 27.1 39.4 27.5 39 27.9 38.7 28.3 38.4 28.7 38.1 29.1 38 29.5 37.9 29.9 37.8 30.3 37.6 30.7 37.4 31.1 37.2 31.5 36.8 31.9 36.4 32.3 35.9 32.7 35.4 33 34.7 33.4 33.9 33.8 32.9 34.2 31.6 34.6 30.1 35 28.6 35.4 27.5 35.8 26.8 36.2 26.8 36.6 27.4 37 28.3 37.4 29.6 37.8 31.1 38.2 32.6 38.6 34.4 39 36.5 39.4 38.7 39.8 40.7 40.2 42.8 40.6 45 41 47.4 41.4 49.6 41.8 51.6 42.2 53 42.6 53.8 43 53.7 43.4 52.6 43.8 50.9 44.2 48.6 44.6 46 45 43.4 45.4 40.9 45.8 38 46.2 34.6 46.6 31.8 47 29.2 47.4 26.9 47.8 25.4 48.2 25 48.6 25.5 49 26.5 49.4 27.9 49.8 29.4 50.2 30.9 50.6 32.7 51 34.7 51.4 36.7 51.8 38.7 52.2 40.6 52.6 42.1 53 43.4 53.4 44.6 53.8 45.6 54.2 46.5 54.6 47.2 54.9 47.9 55.3 48.5 55.7 49.1 56.1 49.7 56.5 50.1 56.9 50.5 57.3 50.8 57.7 51 58.1 51 58.5 50.9 58.9 50.8 59.3 50.6 59.7 50.4 60.1 50.2 60.5 50.1 60.9 50.1 61.3 50.1 61.7 50.1 62.1 50 62.5 50 62.9 49.9 63.3 49.8 63.7 49.7 64.1 49.5 64.5 49.4 64.9 49.3 65.3 49.2 65.7 49 66.1 48.8 66.5 48.7 66.9 48.5 67.3 48.3 67.7 48.2 68.1 48.1 68.5 48.1 68.9 48.1 69.3 48.1 69.7 48.1 70.1 48 70.5 48 70.9 47.8 71.3 47.6 71.7 47.5 72.1 47.3 72.5 47.1 72.9 46.9 73.3 46.9 73.7 46.9 74.1 47 74.5 47.2 74.9 47.4 75.3 47.6 75.7 47.7 76.1 47.7 76.4 47.5 76.8 47.4 77.2 47.2 77.6 47.1 78 47.2 78.4 47.4 78.8 47.8 79.2 48.2 79.6 48.6 80 48.9 80.4 49 80.8 49.1 81.2 49 81.6 48.9 82 48.8 82.4 48.6 82.8 48.4 83.2 48.2 83.6 47.9 84 47.7 84.4 47.5 84.8 47.4 85.2 47.3 85.6 47.2 86 47.3 86.4 47.3 86.8 47.5 87.2 47.6 87.6 47.8 88 47.9 88.4 48.1 88.8 48.2 89.2 48.4 89.6 48.6 90 48.7 90.4 48.7 90.8 48.6 91.2 48.4 91.6 48.1 92 47.7 92.4 47.3 92.8 47 93.2 46.8 93.6 46.7 94 46.7 94.4 46.8 94.8 46.9 95.2 47 95.6 47.2 96 47.4 96.4 47.7 96.8 48.1 97.2 48.4 97.6 48.7 98 48.9 98.3 48.9 98.7 48.8 99.1 48.6 99.5 48.3 99.9 48 100.3 47.7 100.7 47.5 101.1 47.4 101.5 47.5 101.9 47.6 102.3 47.7 102.7 47.9 103.1 48 103.5 48.1 103.9 48.2 104.3 48.2 104.7 48.3 105.1 48.3 105.5 48.3 105.9 48.2 106.3 47.9 106.7 47.5 107.1 47.1 107.5 46.6 107.9 46.2 108.3 46 108.7 46.1 109.1 46.3 109.5 46.7 109.9 47.1 110.3 47.5 110.7 47.7 111.1 47.7 111.5 47.5 111.9 47.2 112.3 46.9 112.7 46.6 113.1 46.4 113.5 46.3 113.9 46.2 114.3 46.3 114.7 46.4 115.1 46.5 115.5 46.5 115.9 46.5 116.3 46.3 116.7 46.1 117.1 45.9 117.5 45.6 117.9 45.5 118.3 45.4 118.7 45.5 119.1 45.7 119.5 45.9 119.9 46.2 120.2 46.5 120.6 46.7 121 47 121.4 47.2 121.8 47.4 122.2 47.6 122.6 47.9 123 48 123.4 48.2 123.8 48.2 124.2 48.2 124.6 48.2 125 48.1 125.4 48 125.8 48 126.2 48 126.6 48 127 48.1 127.4 48.1 127.8 48.1 128.2 48 128.6 47.8 129 47.5 129.4 47.2 129.8 46.8 130.2 46.4 130.6 46.1 131 45.7" fill="none" stroke="#3777bb" stroke-width="0.8"/>
<path d="M0 41.8 0.4 41.7 0.8 41.6 1.2 41.5 1.6 41.4 2 41.3 2.4 41.2 2.8 41.1 3.2 40.9 3.6 40.7 4 40.5 4.4 40.2 4.8 39.9 5.2 39.4 5.6 39 6 38.5 6.4 38.1 6.8 37.7 7.2 37.3 7.6 37.1 8 37 8.4 37.3 8.8 38.1 9.2 39.4 9.6 41.4 10 44.1 10.4 47.5 10.8 51.8 11.1 56.9 11.5 62.6 11.9 68.2 12.3 73.3 12.7 77.7 13.1 82.3 13.5 86.4 13.9 89.8 14.3 91.8 14.7 91.8 15.1 89.9 15.5 86.6 15.9 82.9 16.3 79.4 16.7 76.7 17.1 74.2 17.5 71.8 17.9 69.4 18.3 67.1 18.7 64.9 19.1 62.7 19.5 60.7 19.9 58.9 20.3 57.1 20.7 55.5 21.1 53.9 21.5 52.4 21.9 50.9 22.3 49.6 22.7 48.3 23.1 47.1 23.5 46 23.9 45 24.3 44 24.7 43.2 25.1 42.5 25.5 41.8 25.9 41.1 26.3 40.5 26.7 40 27.1 39.5 27.5 39.1 27.9 38.7 28.3 38.4 28.7 38.1 29.1 38 29.5 37.8 29.9 37.7 30.3 37.6 30.7 37.4 31.1 37.2 31.5 36.9 31.9 36.6 32.3 36.2 32.7 35.8 33 35.3 33.4 34.6 33.8 33.8 34.2 32.7 34.6 31.3 35 29.7 35.4 28.1 35.8 26.7 36.2 25.9 36.6 25.7 37 26.1 37.4 26.9 37.8 28.1 38.2 29.4 38.6 30.8 39 32.5 39.4 34.5 39.8 36.6 40.2 38.7 40.6 40.7 41 42.9 41.4 45.2 41.8 47.5 42.2 49.6 42.6 51.2 43 52.1 43.4 52.3 43.8 51.6 44.2 50.2 44.6 48.3 45 46 45.4 43.7 45.8 41.4 46.2 38.8 46.6 35.7 47 32.7 47.4 30.1 47.8 27.7 48.2 26 48.6 25.5 49 25.9 49.4 26.9 49.8 28.2 50.2 29.7 50.6 31.2 51 32.8 51.4 34.6 51.8 36.6 52.2 38.5 52.6 40.2 53 41.5 53.4 42.5 53.8 43.2 54.2 43.8 54.6 44.3 54.9 44.7 55.3 45 55.7 45.4 56.1 45.9 56.5 46.5 56.9 47.1 57.3 47.6 57.7 48.1 58.1 48.4 58.5 48.5 58.9 48.6 59.3 48.7 59.7 48.7 60.1 48.7 60.5 48.8 60.9 48.8 61.3 48.9 61.7 48.9 62.1 49 62.5 49.1 62.9 49.1 63.3 49.2 63.7 49.3 64.1 49.4 64.5 49.4 64.9 49.5 65.3 49.6 65.7 49.6 66.1 49.6 66.5 49.7 66.9 49.7 67.3 49.7 67.7 49.6 68.1 49.6 68.5 49.5 68.9 49.4 69.3 49.3 69.7 49.2 70.1 49.1 70.5 49.1 70.9 49.1 71.3 49.1 71.7 49.2 72.1 49.2 72.5 49.3 72.9 49.3 73.3 49.3 73.7 49.2 74.1 49.1 74.5 49 74.9 48.9 75.3 48.8 75.7 48.8 76.1 48.9 76.4 49 76.8 49.2 77.2 49.4 77.6 49.5 78 49.5 78.4 49.4 78.8 49.3 79.2 49.1 79.6 48.9 80 48.6 80.4 48.4 80.8 48.3 81.2 48.1 81.6 47.9 82 47.7 82.4 47.6 82.8 47.4 83.2 47.4 83.6 47.3 84 47.3 84.4 47.3 84.8 47.3 85.2 47.4 85.6 47.6 86 47.8 86.4 48 86.8 48.3 87.2 48.7 87.6 48.9 88 49.1 88.4 49.1 88.8 49 89.2 48.8 89.6 48.6 90 48.3 90.4 48 90.8 47.7 91.2 47.5 91.6 47.2 92 47 92.4 46.9 92.8 46.8 93.2 46.7 93.6 46.7 94 46.8 94.4 46.9 94.8 47.1 95.2 47.3 95.6 47.5 96 47.7 96.4 48 96.8 48.4 97.2 48.7 97.6 49 98 49.1 98.3 49.2 98.7 49 99.1 48.8 99.5 48.5 99.9 48.2 100.3 48 100.7 47.9 101.1 47.9 101.5 48 101.9 48.1 102.3 48.3 102.7 48.4 103.1 48.4 103.5 48.3 103.9 48 104.3 47.8 104.7 47.4 105.1 47.2 105.5 46.9 105.9 46.8 106.3 46.9 106.7 47 107.1 47.3 107.5 47.5 107.9 47.7 108.3 47.8 108.7 47.7 109.1 47.6 109.5 47.4 109.9 47.2 110.3 46.9 110.7 46.8 111.1 46.6 111.5 46.6 111.9 46.5 112.3 46.5 112.7 46.5 113.1 46.6 113.5 46.7 113.9 46.7 114.3 46.8 114.7 46.9 115.1 47 115.5 47.1 115.9 47.2 116.3 47.4 116.7 47.6 117.1 47.7 117.5 47.8 117.9 47.9 118.3 47.8 118.7 47.7 119.1 47.4 119.5 47.1 119.9 46.8 120.2 46.4 120.6 46.2 121 45.9 121.4 45.8 121.8 45.6 122.2 45.5 122.6 45.5 123 45.5 123.4 45.6 123.8 45.8 124.2 46.1 124.6 46.5 125 46.9 125.4 47.3 125.8 47.5 126.2 47.6 126.6 47.5 127 47.3 127.4 47.1 127.8 47 128.2 46.9 128.6 46.9 129 46.9 129.4 47.1 129.8 47.2 130.2 47.4 130.6 47.6 131 47.8" fill="none" stroke="#3777bb" stroke-width="0.8"/>
<path d="M0 42 0.4 41.8 0.8 41.7 1.2 41.6 1.6 41.5 2 41.4 2.4 41.3 2.8 41.2 3.2 41 3.6 40.8 4 40.6 4.4 40.3 4.8 39.9 5.2 39.4 5.6 39 6 38.5 6.4 38 6.8 37.6 7.2 37.3 7.6 37.1 8 37 8.4 37.2 8.8 38 9.2 39.3 9.6 41.3 10 44 10.4 47.4 10.8 51.7 11.1 56.8 11.5 62.4 11.9 68 12.3 73.2 12.7 77.6 13.1 82.1 13.5 86.3 13.9 89.7 14.3 91.6 14.7 91.7 15.1 89.7 15.5 86.4 15.9 82.6 16.3 79.1 16.7 76.5 17.1 73.9 17.5 71.4 17.9 69 18.3 66.7 18.7 64.4 19.1 62.2 19.5 60.2 19.9 58.3 20.3 56.5 20.7 54.8 21.1 53.2 21.5 51.6 21.9 50.1 22.3 48.7 22.7 47.4 23.1 46.2 23.5 45.1 23.9 44.1 24.3 43.1 24.7 42.3 25.1 41.6 25.5 40.9 25.9 40.2 26.3 39.7 26.7 39.1 27.1 38.7 27.5 38.2 27.9 37.9 28.3 37.6 28.7 37.4 29.1 37.2 29.5 37.1 29.9 37 30.3 36.8 30.7 36.7 31.1 36.5 31.5 36.3 31.9 35.9 32.3 35.5 32.7 35 33 34.5 33.4 33.8 33.8 33.2 34.2 32.5 34.6 31.8 35 31 35.4 30.3 35.8 29.5 36.2 28.9 36.6 28.3 37 27.9 37.4 27.9 37.8 28.6 38.2 30 38.6 31.7 39 33.5 39.4 35.6 39.8 37.7 40.2 39.8 40.6 41.9 41 44.3 41.4 46.8 41.8 49.3 42.2 51.7 42.6 53.8 43 55.5 43.4 56.6 43.8 56.9 44.2 55.7 44.6 52.9 45 49.1 45.4 45.1 45.8 41.6 46.2 38.2 46.6 35 47 32.6 47.4 30.9 47.8 29.7 48.2 28.7 48.6 28 49 27.5 49.4 27.6 49.8 28.5 50.2 29.9 50.6 31.4 51 33.2 51.4 35.1 51.8 37.1 52.2 39 52.6 40.8 53 42.2 53.4 43.4 53.8 44.4 54.2 45.4 54.6 46.3 54.9 47.1 55.3 47.9 55.7 48.5 56.1 49.1 56.5 49.5 56.9 49.8 57.3 50 57.7 50.1 58.1 50.1 58.5 50 58.9 49.8 59.3 49.7 59.7 49.6 60.1 49.4 60.5 49.3 60.9 49.2 61.3 49 61.7 48.9 62.1 48.7 62.5 48.6 62.9 48.6 63.3 48.6 63.7 48.7 64.1 48.8 64.5 49 64.9 49.1 65.3 49.2 65.7 49.3 66.1 49.3 66.5 49.4 66.9 49.4 67.3 49.4 67.7 49.4 68.1 49.4 68.5 49.4 68.9 49.3 69.3 49.1 69.7 49 70.1 48.8 70.5 48.6 70.9 48.3 71.3 48 71.7 47.7 72.1 47.3 72.5 47 72.9 46.7 73.3 46.5 73.7 46.4 74.1 46.3 74.5 46.3 74.9 46.4 75.3 46.6 75.7 46.8 76.1 47.1 76.4 47.5 76.8 47.8 77.2 48.2 77.6 48.6 78 48.9 78.4 49 78.8 49.1 79.2 49 79.6 48.9 80 48.8 80.4 48.6 80.8 48.5 81.2 48.4 81.6 48.3 82 48.2 82.4 48.2 82.8 48.1 83.2 48.1 83.6 48.1 84 48.3 84.4 48.4 84.8 48.6 85.2 48.7 85.6 48.8 86 48.7 86.4 48.6 86.8 48.5 87.2 48.3 87.6 48.2 88 48 88.4 48 88.8 47.9 89.2 47.9 89.6 47.9 90 47.9 90.4 47.9 90.8 47.8 91.2 47.8 91.6 47.9 92 47.9 92.4 47.9 92.8 47.9 93.2 47.9 93.6 47.9 94 47.9 94.4 47.8 94.8 47.8 95.2 47.8 95.6 47.8 96 47.8 96.4 47.8 96.8 47.7 97.2 47.7 97.6 47.7 98 47.8 98.3 47.9 98.7 48 99.1 48.3 99.5 48.5 99.9 48.8 100.3 48.9 100.7 49 101.1 48.9 101.5 48.7 101.9 48.4 102.3 48.1 102.7 47.9 103.1 47.6 103.5 47.5 103.9 47.3 104.3 47.2 104.7 47 105.1 47 105.5 46.9 105.9 46.9 106.3 47 106.7 47 107.1 47.1 107.5 47.2 107.9 47.3 108.3 47.3 108.7 47.3 109.1 47.4 109.5 47.5 109.9 47.5 110.3 47.5 110.7 47.5 111.1 47.5 111.5 47.5 111.9 47.4 112.3 47.3 112.7 47.3 113.1 47.2 113.5 47.2 113.9 47.2 114.3 47.3 114.7 47.4 115.1 47.4 115.5 47.4 115.9 47.3 116.3 47.1 116.7 46.7 117.1 46.3 117.5 46 117.9 45.7 118.3 45.6 118.7 45.7 119.1 46.1 119.5 46.6 119.9 47.2 120.2 47.7 120.6 48.1 121 48.2 121.4 48.2 121.8 47.9 122.2 47.6 122.6 47.3 123 47 123.4 46.8 123.8 46.7 124.2 46.8 124.6 46.9 125 47 125.4 47.1 125.8 47.2 126.2 47.3 126.6 47.5 127 47.6 127.4 47.8 127.8 47.8 128.2 47.9 128.6 47.8 129 47.6 129.4 47.4 129.8 47.1 130.2 46.7 130.6 46.4 131 46.1" fill="none" stroke="#3777bb" stroke-width="0.8"/>
<path d="M0 41.7 0.4 41.6 0.8 41.5 1.2 41.4 1.6 41.3 2 41.2 2.4 41.1 2.8 41 3.2 40.8 3.6 40.7 4 40.4 4.4 40.2 4.8 39.8 5.2 39.3 5.6 38.9 6 38.4 6.4 38 6.8 37.6 7.2 37.2 7.6 37 8 36.9 8.4 37.2 8.8 37.9 9.2 39.3 9.6 41.3 10 44 10.4 47.4 10.8 51.6 11.1 56.8 11.5 62.4 11.9 68 12.3 73.1 12.7 77.6 13.1 82.1 13.5 86.3 13.9 89.6 14.3 91.6 14.7 91.7 15.1 89.7 15.5 86.4 15.9 82.6 16.3 79.1 16.7 76.4 17.1 73.9 17.5 71.4 17.9 69 18.3 66.6 18.7 64.4 19.1 62.2 19.5 60.2 19.9 58.3 20.3 56.6 20.7 54.9 21.1 53.4 21.5 51.9 21.9 50.4 22.3 49.1 22.7 47.8 23.1 46.6 23.5 45.5 23.9 44.5 24.3 43.6 24.7 42.7 25.1 42 25.5 41.3 25.9 40.6 26.3 40 26.7 39.4 27.1 38.9 27.5 38.4 27.9 38 28.3 37.7 28.7 37.4 29.1 37.2 29.5 37 29.9 36.8 30.3 36.6 30.7 36.4 31.1 36.1 31.5 35.7 31.9 35.2 32.3 34.6 32.7 33.9 33 33.2 33.4 32.5 33.8 31.6 34.2 30.6 34.6 29.5 35 28.4 35.4 27.4 35.8 26.6 36.2 26.1 36.6 26.1 37 26.8 37.4 28 37.8 29.4 38.2 31 38.6 32.9 39 35 39.4 37.1 39.8 39.1 40.2 41.3 40.6 43.6 41 46.1 41.4 48.5 41.8 50.7 42.2 52.5 42.6 53.8 43 54.3 43.4 53.7 43.8 51.8 44.2 49.2 44.6 46.1 45 43 45.4 40.2 45.8 37.1 46.2 33.9 46.6 31.4 47 29.5 47.4 28 47.8 26.8 48.2 26.1 48.6 26.1 49 26.9 49.4 28.2 49.8 29.8 50.2 31.4 50.6 33.3 51 35.3 51.4 37.3 51.8 39.3 52.2 41 52.6 42.4 53 43.6 53.4 44.6 53.8 45.6 54.2 46.4 54.6 47.2 54.9 47.9 55.3 48.4 55.7 48.8 56.1 48.9 56.5 48.7 56.9 48.4 57.3 48.1 57.7 47.8 58.1 47.8 58.5 48.2 58.9 48.7 59.3 49.4 59.7 50 60.1 50.5 60.5 50.7 60.9 50.7 61.3 50.5 61.7 50.3 62.1 50 62.5 49.7 62.9 49.6 63.3 49.7 63.7 49.8 64.1 50.1 64.5 50.4 64.9 50.6 65.3 50.7 65.7 50.7 66.1 50.6 66.5 50.3 66.9 50 67.3 49.8 67.7 49.5 68.1 49.3 68.5 49.2 68.9 49.1 69.3 49.1 69.7 49.1 70.1 49 70.5 49 70.9 49.1 71.3 49.1 71.7 49.2 72.1 49.3 72.5 49.4 72.9 49.4 73.3 49.5 73.7 49.6 74.1 49.7 74.5 49.8 74.9 49.8 75.3 49.8 75.7 49.7 76.1 49.5 76.4 49.3 76.8 49 77.2 48.6 77.6 48.3 78 47.9 78.4 47.5 78.8 47 79.2 46.5 79.6 46 80 45.6 80.4 45.4 80.8 45.3 81.2 45.5 81.6 45.9 82 46.3 82.4 46.7 82.8 47.1 83.2 47.2 83.6 47.1 84 46.9 84.4 46.7 84.8 46.5 85.2 46.4 85.6 46.4 86 46.7 86.4 47 86.8 47.4 87.2 47.9 87.6 48.2 88 48.6 88.4 48.8 88.8 48.9 89.2 48.9 89.6 48.9 90 48.8 90.4 48.6 90.8 48.4 91.2 48.2 91.6 47.9 92 47.6 92.4 47.3 92.8 47.1 93.2 46.9 93.6 46.8 94 46.8 94.4 46.9 94.8 46.9 95.2 47 95.6 47.1 96 47.1 96.4 47.2 96.8 47.2 97.2 47.2 97.6 47.2 98 47.1 98.3 47.1 98.7 47 99.1 46.8 99.5 46.7 99.9 46.5 100.3 46.4 100.7 46.2 101.1 46 101.5 45.9 101.9 45.8 102.3 45.7 102.7 45.7 103.1 45.7 103.5 45.7 103.9 45.8 104.3 45.9 104.7 46 105.1 46.1 105.5 46.2 105.9 46.3 106.3 46.3 106.7 46.2 107.1 46.1 107.5 46 107.9 45.9 108.3 45.7 108.7 45.7 109.1 45.7 109.5 45.7 109.9 45.7 110.3 45.7 110.7 45.7 111.1 45.7 111.5 45.7 111.9 45.7 112.3 45.8 112.7 45.9 113.1 46 113.5 46.1 113.9 46.2 114.3 46.2 114.7 46.3 115.1 46.3 115.5 46.4 115.9 46.4 116.3 46.3 116.7 46.3 117.1 46.1 117.5 46 117.9 45.9 118.3 45.7 118.7 45.7 119.1 45.6 119.5 45.6 119.9 45.6 120.2 45.6 120.6 45.6 121 45.7 121.4 45.7 121.8 45.7 122.2 45.8 122.6 45.9 123 45.9 123.4 46.1 123.8 46.2 124.2 46.3 124.6 46.5 125 46.6 125.4 46.8 125.8 46.9 126.2 47 126.6 47.2 127 47.3 127.4 47.4 127.8 47.5 128.2 47.5 128.6 47.5 129 47.4 129.4 47.2 129.8 47 130.2 46.8 130.6 46.6 131 46.4" fill="none" stroke="#3777bb" stroke-width="0.8"/>
<path d="M0 41.7 0.4 41.6 0.8 41.5 1.2 41.4 1.6 41.3 2 41.2 2.4 41.1 2.8 41 3.2 40.9 3.6 40.7 4 40.5 4.4 40.2 4.8 39.8 5.2 39.4 5.6 39 6 38.5 6.4 38 6.8 37.7 7.2 37.3 7.6 37.1 8 37 8.4 37.3 8.8 38.1 9.2 39.4 9.6 41.4 10 44.1 10.4 47.5 10.8 51.8 11.1 56.9 11.5 62.6 11.9 68.2 12.3 73.3 12.7 77.7 13.1 82.2 13.5 86.4 13.9 89.8 14.3 91.8 14.7 91.8 15.1 89.8 15.5 86.6 15.9 82.8 16.3 79.3 16.7 76.7 17.1 74.2 17.5 71.8 17.9 69.4 18.3 67.1 18.7 64.8 19.1 62.7 19.5 60.7 19.9 58.8 20.3 57.1 20.7 55.5 21.1 53.9 21.5 52.4 21.9 51 22.3 49.6 22.7 48.3 23.1 47.1 23.5 46 23.9 44.9 24.3 44 24.7 43.1 25.1 42.3 25.5 41.5 25.9 40.8 26.3 40.1 26.7 39.4 27.1 38.8 27.5 38.3 27.9 37.8 28.3 37.4 28.7 37 29.1 36.7 29.5 36.4 29.9 36.2 30.3 35.9 30.7 35.5 31.1 35.1 31.5 34.5 31.9 33.8 32.3 33.1 32.7 32.1 33 30.9 33.4 29.4 33.8 27.7 34.2 26 34.6 24.7 35 24.1 35.4 24.2 35.8 24.8 36.2 25.9 36.6 27.2 37 28.6 37.4 30.2 37.8 32 38.2 34.1 38.6 36.3 39 38.5 39.4 40.5 39.8 42.8 40.2 45.1 40.6 47.3 41 49.3 41.4 50.8 41.8 51.5 42.2 51.5 42.6 50.6 43 49.1 43.4 47.2 43.8 44.9 44.2 42.6 44.6 40.3 45 37.6 45.4 34.4 45.8 31.2 46.2 28.2 46.6 25.4 47 23.6 47.4 23.1 47.8 23.6 48.2 24.6 48.6 25.9 49 27.3 49.4 28.9 49.8 30.6 50.2 32.5 50.6 34.6 51 36.6 51.4 38.5 51.8 40.1 52.2 41.3 52.6 42.4 53 43.4 53.4 44.3 53.8 45.2 54.2 46.2 54.6 47.1 54.9 48 55.3 48.8 55.7 49.3 56.1 49.5 56.5 49.4 56.9 49.2 57.3 48.9 57.7 48.6 58.1 48.5 58.5 48.7 58.9 49 59.3 49.4 59.7 49.8 60.1 50 60.5 50.1 60.9 50 61.3 49.8 61.7 49.5 62.1 49.2 62.5 48.9 62.9 48.7 63.3 48.5 63.7 48.4 64.1 48.4 64.5 48.4 64.9 48.4 65.3 48.3 65.7 48.3 66.1 48.1 66.5 47.9 66.9 47.7 67.3 47.5 67.7 47.4 68.1 47.5 68.5 47.7 68.9 48 69.3 48.4 69.7 48.8 70.1 49.2 70.5 49.4 70.9 49.5 71.3 49.5 71.7 49.4 72.1 49.3 72.5 49.2 72.9 49.2 73.3 49.3 73.7 49.5 74.1 49.7 74.5 49.9 74.9 50 75.3 50.1 75.7 50.1 76.1 50 76.4 49.8 76.8 49.6 77.2 49.3 77.6 49.1 78 48.8 78.4 48.6 78.8 48.3 79.2 48.2 79.6 48 80 47.9 80.4 47.9 80.8 47.9 81.2 47.9 81.6 47.9 82 47.9 82.4 47.9 82.8 48 83.2 48.2 83.6 48.4 84 48.7 84.4 49 84.8 49.2 85.2 49.3 85.6 49.3 86 49 86.4 48.5 86.8 47.9 87.2 47.2 87.6 46.7 88 46.3 88.4 46.1 88.8 46.1 89.2 46.2 89.6 46.4 90 46.6 90.4 46.7 90.8 46.8 91.2 46.7 91.6 46.5 92 46.3 92.4 46.1 92.8 46 93.2 46 93.6 46 94 46.2 94.4 46.4 94.8 46.7 95.2 46.9 95.6 47.1 96 47.2 96.4 47.4 96.8 47.4 97.2 47.5 97.6 47.6 98 47.6 98.3 47.7 98.7 47.7 99.1 47.7 99.5 47.7 99.9 47.7 100.3 47.7 100.7 47.8 101.1 47.9 101.5 48 101.9 48.1 102.3 48.2 102.7 48.3 103.1 48.4 103.5 48.5 103.9 48.6 104.3 48.6 104.7 48.7 105.1 48.7 105.5 48.7 105.9 48.7 106.3 48.7 106.7 48.7 107.1 48.6 107.5 48.5 107.9 48.4 108.3 48.3 108.7 48 109.1 47.7 109.5 47.3 109.9 46.9 110.3 46.5 110.7 46.3 111.1 46.1 111.5 46.1 111.9 46.2 112.3 46.3 112.7 46.4 113.1 46.5 113.5 46.4 113.9 46.3 114.3 46.1 114.7 45.9 115.1 45.6 115.5 45.5 115.9 45.3 116.3 45.2 116.7 45.2 117.1 45.2 117.5 45.2 117.9 45.2 118.3 45.3 118.7 45.5 119.1 45.8 119.5 46.1 119.9 46.5 120.2 46.8 120.6 47 121 47.1 121.4 47.1 121.8 47 122.2 46.8 122.6 46.6 123 46.4 123.4 46.3 123.8 46.2 124.2 46.1 124.6 46.1 125 46 125.4 46 125.8 46 126.2 46.1 126.6 46.3 127 46.5 127.4 46.7 127.8 46.9 128.2 47 128.6 47.1 129 47.1 129.4 47 129.8 46.9 130.2 46.8 130.6 46.7 131 46.7" fill="none" stroke="#3777bb" stroke-width="0.8"/>
<path d="M0 42 0.4 41.8 0.8 41.7 1.2 41.6 1.6 41.5 2 41.4 2.4 41.3 2.8 41.2 3.2 41.1 3.6 40.9 4 40.6 4.4 40.4 4.8 40 5.2 39.5 5.6 39.1 6 38.6 6.4 38.1 6.8 37.7 7.2 37.4 7.6 37.2 8 37.1 8.4 37.3 8.8 38.1 9.2 39.4 9.6 41.4 10 44.1 10.4 47.5 10.8 51.8 11.1 56.9 11.5 62.6 11.9 68.2 12.3 73.3 12.7 77.7 13.1 82.2 13.5 86.4 13.9 89.7 14.3 91.7 14.7 91.8 15.1 89.8 15.5 86.5 15.9 82.7 16.3 79.3 16.7 76.6 17.1 74.1 17.5 71.6 17.9 69.2 18.3 66.9 18.7 64.7 19.1 62.6 19.5 60.6 19.9 58.7 20.3 57 20.7 55.4 21.1 53.9 21.5 52.4 21.9 51 22.3 49.7 22.7 48.4 23.1 47.3 23.5 46.2 23.9 45.2 24.3 44.3 24.7 43.5 25.1 42.8 25.5 42.1 25.9 41.4 26.3 40.8 26.7 40.3 27.1 39.8 27.5 39.3 27.9 39 28.3 38.6 28.7 38.4 29.1 38.2 29.5 38 29.9 37.9 30.3 37.7 30.7 37.4 31.1 36.9 31.5 36.3 31.9 35.6 32.3 34.7 32.7 33.9 33 33.1 33.4 32.3 33.8 31.5 34.2 30.6 34.6 29.8 35 29.1 35.4 28.5 35.8 28.1 36.2 28.1 36.6 28.8 37 30.2 37.4 31.8 37.8 33.7 38.2 35.7 38.6 37.7 39 39.8 39.4 41.9 39.8 44.2 40.2 46.7 40.6 49.2 41 51.6 41.4 53.6 41.8 55.2 42.2 56.3 42.6 56.4 43 55 43.4 52.2 43.8 48.4 44.2 44.5 44.6 41 45 37.6 45.4 34.4 45.8 31.9 46.2 30.2 46.6 28.9 47 27.8 47.4 27.1 47.8 26.7 48.2 26.8 48.6 27.7 49 29.2 49.4 30.8 49.8 32.6 50.2 34.6 50.6 36.7 51 38.8 51.4 40.6 51.8 42 52.2 43.1 52.6 44.1 53 44.9 53.4 45.6 53.8 46.2 54.2 46.8 54.6 47.2 54.9 47.6 55.3 47.9 55.7 48 56.1 48.1 56.5 48.1 56.9 48 57.3 48 57.7 48.1 58.1 48.3 58.5 48.8 58.9 49.5 59.3 50.1 59.7 50.7 60.1 51.2 60.5 51.6 60.9 51.6 61.3 51.6 61.7 51.4 62.1 51.2 62.5 51 62.9 50.8 63.3 50.8 63.7 50.7 64.1 50.8 64.5 50.8 64.9 50.9 65.3 50.9 65.7 50.9 66.1 50.9 66.5 50.9 66.9 50.9 67.3 50.9 67.7 50.9 68.1 50.8 68.5 50.8 68.9 50.7 69.3 50.6 69.7 50.5 70.1 50.4 70.5 50.3 70.9 50.2 71.3 50.2 71.7 50.2 72.1 50.2 72.5 50.2 72.9 50.1 73.3 49.9 73.7 49.5 74.1 49.2 74.5 48.8 74.9 48.5 75.3 48.2 75.7 48.1 76.1 48 76.4 48.1 76.8 48.1 77.2 48.3 77.6 48.4 78 48.5 78.4 48.5 78.8 48.6 79.2 48.6 79.6 48.6 80 48.7 80.4 48.7 80.8 48.7 81.2 48.7 81.6 48.8 82 48.8 82.4 48.8 82.8 48.9 83.2 49 83.6 49.2 84 49.4 84.4 49.6 84.8 49.8 85.2 49.9 85.6 49.9 86 49.7 86.4 49.4 86.8 48.9 87.2 48.5 87.6 48.1 88 47.9 88.4 47.9 88.8 48 89.2 48.3 89.6 48.7 90 49.1 90.4 49.4 90.8 49.7 91.2 49.8 91.6 49.9 92 49.8 92.4 49.8 92.8 49.7 93.2 49.6 93.6 49.4 94 49.2 94.4 48.9 94.8 48.6 95.2 48.3 95.6 48.1 96 48 96.4 48 96.8 48.1 97.2 48.3 97.6 48.4 98 48.6 98.3 48.5 98.7 48.4 99.1 48.1 99.5 47.8 99.9 47.5 100.3 47.3 100.7 47.2 101.1 47.3 101.5 47.4 101.9 47.6 102.3 47.9 102.7 48.1 103.1 48.3 103.5 48.3 103.9 48.3 104.3 48.3 104.7 48.2 105.1 48.1 105.5 47.9 105.9 47.8 106.3 47.5 106.7 47.3 107.1 47 107.5 46.8 107.9 46.6 108.3 46.5 108.7 46.5 109.1 46.4 109.5 46.4 109.9 46.5 110.3 46.6 110.7 46.8 111.1 47.2 111.5 47.8 111.9 48.4 112.3 49.1 112.7 49.6 113.1 50 113.5 50.1 113.9 49.9 114.3 49.5 114.7 49 115.1 48.5 115.5 48 115.9 47.7 116.3 47.4 116.7 47.2 117.1 47 117.5 46.9 117.9 46.8 118.3 46.7 118.7 46.8 119.1 46.9 119.5 47.1 119.9 47.3 120.2 47.5 120.6 47.6 121 47.7 121.4 47.6 121.8 47.6 122.2 47.5 122.6 47.3 123 47.2 123.4 47.1 123.8 47 124.2 46.9 124.6 46.8 125 46.7 125.4 46.5 125.8 46.4 126.2 46.4 126.6 46.4 127 46.3 127.4 46.3 127.8 46.4 128.2 46.4 128.6 46.4 129 46.4 129.4 46.4 129.8 46.4 130.2 46.5 130.6 46.5 131 46.5" fill="none" stroke="#3777bb" stroke-width="0.8"/>
<path d="M0 41.8 0.4 41.7 0.8 41.7 1.2 41.6 1.6 41.5 2 41.4 2.4 41.4 2.8 41.3 3.2 41.1 3.6 41 4 40.8 4.4 40.5 4.8 40.1 5.2 39.7 5.6 39.2 6 38.8 6.4 38.3 6.8 37.9 7.2 37.5 7.6 37.3 8 37.2 8.4 37.4 8.8 38.1 9.2 39.4 9.6 41.4 10 44 10.4 47.4 10.8 51.6 11.1 56.7 11.5 62.4 11.9 68 12.3 73.1 12.7 77.5 13.1 82 13.5 86.2 13.9 89.5 14.3 91.5 14.7 91.6 15.1 89.6 15.5 86.3 15.9 82.6 16.3 79.1 16.7 76.4 17.1 73.9 17.5 71.5 17.9 69.1 18.3 66.8 18.7 64.6 19.1 62.4 19.5 60.5 19.9 58.6 20.3 56.9 20.7 55.2 21.1 53.7 21.5 52.2 21.9 50.7 22.3 49.4 22.7 48.1 23.1 46.9 23.5 45.8 23.9 44.8 24.3 43.8 24.7 43 25.1 42.2 25.5 41.5 25.9 40.9 26.3 40.2 26.7 39.7 27.1 39.2 27.5 38.8 27.9 38.4 28.3 38.1 28.7 37.8 29.1 37.7 29.5 37.6 29.9 37.5 30.3 37.3 30.7 37.2 31.1 36.9 31.5 36.6 31.9 36.1 32.3 35.6 32.7 34.9 33 34.3 33.4 33.5 33.8 32.7 34.2 31.6 34.6 30.5 35 29.4 35.4 28.4 35.8 27.7 36.2 27.3 36.6 27.4 37 28.1 37.4 29.2 37.8 30.5 38.2 31.9 38.6 33.8 39 35.8 39.4 38 39.8 40 40.2 42.1 40.6 44.6 41 47.1 41.4 49.6 41.8 51.8 42.2 53.5 42.6 54.6 43 54.9 43.4 54 43.8 51.9 44.2 49.2 44.6 46.2 45 43.1 45.4 40.3 45.8 37.1 46.2 33.8 46.6 31.5 47 29.8 47.4 28.4 47.8 27.2 48.2 26.5 48.6 26.2 49 26.6 49.4 27.6 49.8 28.9 50.2 30.4 50.6 32.1 51 34 51.4 36 51.8 38 52.2 39.8 52.6 41.3 53 42.6 53.4 43.7 53.8 44.7 54.2 45.6 54.6 46.3 54.9 46.9 55.3 47.3 55.7 47.4 56.1 47.4 56.5 47.3 56.9 46.9 57.3 46.3 57.7 45.6 58.1 44.9 58.5 44.4 58.9 44.1 59.3 44.1 59.7 44.2 60.1 44.5 60.5 45 60.9 45.6 61.3 46.3 61.7 47.1 62.1 48.5 62.5 50.1 62.9 51.9 63.3 53.7 63.7 55.3 64.1 57.1 64.5 58.9 64.9 60.5 65.3 61.8 65.7 62.7 66.1 62.9 66.5 62.4 66.9 61.4 67.3 60.1 67.7 58.6 68.1 57 68.5 55.7 68.9 54.3 69.3 52.8 69.7 51.4 70.1 50.1 70.5 49.2 70.9 48.7 71.3 48.2 71.7 47.9 72.1 47.6 72.5 47.4 72.9 47.3 73.3 47.2 73.7 47 74.1 46.9 74.5 46.7 74.9 46.5 75.3 46.4 75.7 46.4 76.1 46.4 76.4 46.5 76.8 46.7 77.2 46.8 77.6 46.9 78 47 78.4 47 78.8 47 79.2 46.9 79.6 46.9 80 46.9 80.4 47 80.8 47.3 81.2 47.6 81.6 48 82 48.5 82.4 48.9 82.8 49.2 83.2 49.4 83.6 49.4 84 49.3 84.4 49.1 84.8 48.8 85.2 48.5 85.6 48.3 86 48.2 86.4 48.1 86.8 48 87.2 48 87.6 47.9 88 47.8 88.4 47.5 88.8 47.3 89.2 46.9 89.6 46.6 90 46.3 90.4 46 90.8 45.8 91.2 45.7 91.6 45.6 92 45.6 92.4 45.7 92.8 45.7 93.2 45.8 93.6 45.8 94 45.9 94.4 46 94.8 46.2 95.2 46.3 95.6 46.5 96 46.6 96.4 46.8 96.8 46.9 97.2 47 97.6 47.1 98 47.2 98.3 47.2 98.7 47.2 99.1 47.1 99.5 47 99.9 46.9 100.3 46.8 100.7 46.7 101.1 46.7 101.5 46.6 101.9 46.6 102.3 46.6 102.7 46.6 103.1 46.6 103.5 46.6 103.9 46.6 104.3 46.5 104.7 46.5 105.1 46.5 105.5 46.5 105.9 46.7 106.3 47 106.7 47.3 107.1 47.7 107.5 48 107.9 48.3 108.3 48.4 108.7 48.4 109.1 48.3 109.5 48.1 109.9 47.8 110.3 47.6 110.7 47.5 111.1 47.4 111.5 47.4 111.9 47.5 112.3 47.6 112.7 47.7 113.1 47.7 113.5 47.7 113.9 47.6 114.3 47.5 114.7 47.4 115.1 47.3 115.5 47.1 115.9 46.9 116.3 46.8 116.7 46.6 117.1 46.4 117.5 46.3 117.9 46.1 118.3 46 118.7 46 119.1 45.9 119.5 46 119.9 46 120.2 46 120.6 46 121 46 121.4 45.8 121.8 45.7 122.2 45.5 122.6 45.3 123 45.2 123.4 45.3 123.8 45.5 124.2 45.8 124.6 46.1 125 46.5 125.4 46.9 125.8 47.1 126.2 47.1 126.6 47.1 127 46.9 127.4 46.7 127.8 46.5 128.2 46.3 128.6 46.3 129 46.3 129.4 46.3 129.8 46.4 130.2 46.5 130.6 46.6 131 46.6" fill="none" stroke="#4a8fd0" stroke-width="0.7"/>
<path d="M27.4 39.2 27.8 38.8 28.2 38.3 28.6 38 29 37.7 29.4 37.4 29.8 37.2 30.2 37 30.6 36.8 31 36.6 31.4 36.5 31.8 36.3 32.2 36.2 32.6 36.1 33 36 33.3 35.9 33.7 35.9 34.1 35.8 34.5 35.8 34.9 35.8 35.3 35.8 35.7 35.8 36.1 35.8 36.5 35.9 36.9 35.9 37.3 36 37.7 36.1 38.1 36.2 38.5 36.3 38.9 36.4 39.3 36.6 39.7 36.7 40.1 37 40.5 37.2 40.9 37.5 41.3 37.8 41.7 38.1 42.1 38.5 42.5 38.8 42.9 39.2 43.3 39.5 43.7 39.9 44.1 40.2 44.5 40.6 44.9 40.9 45.3 41.2 45.7 41.5 46.1 41.8 46.5 42.2 46.9 42.5 47.3 42.8 47.7 43.1 48.1 43.4 48.5 43.7 48.9 44 49.3 44.3 49.7 44.5 50.1 44.8 50.5 45 50.9 45.3 51.3 45.6 51.7 45.9 52.1 46.1 52.5 46.4 52.9 46.6 53.3 46.7 53.7 46.8 54.1 46.9 54.5 47 54.9 47 55.2 47 55.6 47 56 47 56.4 47.1 56.8 47.3 57.2 47.4 57.6 47.7 58 47.8 58.4 48 58.8 48 59.2 48 59.6 48 60 48 60.4 48 60.8 48 61.2 48.2 61.6 48.4 62 48.6 62.4 48.8 62.8 49 63.2 49.2 63.6 49.3 64 49.3 64.4 49.2 64.8 49.1 65.2 49.1 65.6 49.1 66 49.1 66.4 49.2 66.8 49.4 67.2 49.5 67.6 49.6 68 49.7 68.4 49.7 68.8 49.6 69.2 49.5 69.6 49.3 70 49.1 70.4 49 70.8 48.8 71.2 48.6 71.6 48.4 72 48.2 72.4 48 72.8 47.8 73.2 47.7 73.6 47.7 74 47.7 74.4 47.9 74.8 48 75.2 48.2 75.6 48.4 76 48.5 76.4 48.7 76.7 48.8 77.1 49 77.5 49.1 77.9 49.2 78.3 49.3 78.7 49.2 79.1 49.1 79.5 49 79.9 48.8 80.3 48.5 80.7 48.3 81.1 48.2 81.5 48.1 81.9 48 82.3 48 82.7 47.9 83.1 47.8 83.5 47.6 83.9 47.4 84.3 47.1 84.7 46.8 85.1 46.5 85.5 46.3 85.9 46.3 86.3 46.4 86.7 46.8 87.1 47.2 87.5 47.7 87.9 48.1 88.3 48.4 88.7 48.5 89.1 48.5 89.5 48.3 89.9 48.2 90.3 48 90.7 47.8 91.1 47.7 91.5 47.5 91.9 47.4 92.3 47.2 92.7 47.1 93.1 46.9 93.5 46.9 93.9 46.8 94.3 46.8 94.7 46.8 95.1 46.8 95.5 46.9 95.9 47 96.3 47 96.7 47.1 97.1 47.3 97.5 47.4 97.9 47.5 98.3 47.6 98.6 47.7 99 47.8 99.4 47.8 99.8 47.8 100.2 47.8 100.6 47.7 101 47.6 101.4 47.5 101.8 47.3 102.2 47.1 102.6 46.8 103 46.7 103.4 46.5 103.8 46.5 104.2 46.5 104.6 46.6 105 46.7 105.4 46.7 105.8 46.8 106.2 46.7 106.6 46.6 107 46.5 107.4 46.3 107.8 46.1 108.2 46 108.6 45.9 109 45.9 109.4 45.9 109.8 45.9 110.2 45.9 110.6 46 111 46.2 111.4 46.3 111.8 46.6 112.2 46.9 112.6 47.2 113 47.5 113.4 47.7 113.8 47.8 114.2 47.9 114.6 47.8 115 47.7 115.4 47.6 115.8 47.5 116.2 47.3 116.6 47.2 117 47 117.4 46.8 117.8 46.6 118.2 46.4 118.6 46.2 119 46.1 119.4 46 119.8 46 120.2 46 120.5 46 120.9 45.9 121.3 45.8 121.7 45.6 122.1 45.4 122.5 45.2 122.9 45.1 123.3 45.1 123.7 45.2 124.1 45.4 124.5 45.7 124.9 46 125.3 46.4 125.7 46.7 126.1 47 126.5 47.2 126.9 47.4 127.3 47.6 127.7 47.7 128.1 47.8 128.5 47.9 128.9 47.9 129.3 47.9 129.7 47.8 130.1 47.8 130.5 47.7 130.9 47.7 131.3 47.6" fill="none" stroke="#e0453f" stroke-width="0.8"/>
<path d="M0 135.2 0.4 135.5 0.8 135.7 1.2 136 1.6 136.3 2 136.6 2.4 136.8 2.8 137.1 3.2 137.2 3.6 137.4 4 137.5 4.4 137.5 4.8 137.6 5.2 137.6 5.6 137.6 6 137.6 6.4 137.6 6.8 137.5 7.2 137.4 7.6 137.3 8 137.1 8.4 136.9 8.8 136.6 9.2 136.3 9.6 135.9 10 135.4 10.4 135 10.8 134.5 11.1 134 11.5 133.6 11.9 133.3 12.3 133 12.7 132.7 13.1 132.5 13.5 132.4 13.9 132.2 14.3 132.1 14.7 131.9 15.1 131.7 15.5 131.6 15.9 131.4 16.3 131.3 16.7 131.4 17.1 131.5 17.5 131.8 17.9 132.1 18.3 132.6 18.7 133.1 19.1 133.6 19.5 134.1 19.9 134.6 20.3 135.1 20.7 135.6 21.1 136 21.5 136.4 21.9 136.7 22.3 136.9 22.7 137.1 23.1 137.2 23.5 137.3 23.9 137.4 24.3 137.4 24.7 137.4 25.1 137.4 25.5 137.3 25.9 137.2 26.3 137 26.7 136.8 27.1 136.6 27.5 136.3 27.9 136 28.3 135.8 28.7 135.6 29.1 135.5 29.5 135.4 29.9 135.5 30.3 135.6 30.7 135.7 31.1 135.9 31.5 136.1 31.9 136.4 32.3 136.6 32.7 136.8 33 137.1 33.4 137.4 33.8 137.6 34.2 137.9 34.6 138.1 35 138.3 35.4 138.3 35.8 138.4 36.2 138.3 36.6 138.3 37 138.2 37.4 138.1 37.8 138 38.2 137.9 38.6 137.9 39 137.8 39.4 137.7 39.8 137.6 40.2 137.5 40.6 137.5 41 137.4 41.4 137.4 41.8 137.4 42.2 137.5 42.6 137.5 43 137.6 43.4 137.7 43.8 137.7 44.2 137.8 44.6 137.8 45 137.9 45.4 137.9 45.8 137.9 46.2 138 46.6 138 47 138 47.4 138 47.8 138 48.2 137.9 48.6 137.8 49 137.7 49.4 137.6 49.8 137.4 50.2 137.3 50.6 137.1 51 136.9 51.4 136.7 51.8 136.5 52.2 136.3 52.6 136.2 53 136.1 53.4 136 53.8 135.9 54.2 135.8 54.6 135.8 54.9 135.8 55.3 135.8 55.7 135.8 56.1 135.9 56.5 135.9 56.9 136 57.3 136.1 57.7 136.2 58.1 136.3 58.5 136.4 58.9 136.4 59.3 136.4 59.7 136.5 60.1 136.5 60.5 136.6 60.9 136.8 61.3 137 61.7 137.4 62.1 137.7 62.5 138.1 62.9 138.4 63.3 138.8 63.7 139 64.1 139.2 64.5 139.3 64.9 139.4 65.3 139.3 65.7 139.2 66.1 139.1 66.5 138.8 66.9 138.6 67.3 138.3 67.7 138 68.1 137.6 68.5 137.3 68.9 136.9 69.3 136.5 69.7 136.2 70.1 135.9 70.5 135.6 70.9 135.3 71.3 135.1 71.7 135 72.1 134.9 72.5 134.8 72.9 134.7 73.3 134.7 73.7 134.7 74.1 134.8 74.5 134.9 74.9 135.1 75.3 135.4 75.7 135.7 76.1 136 76.4 136.4 76.8 136.8 77.2 137.2 77.6 137.5 78 137.8 78.4 138.1 78.8 138.2 79.2 138.2 79.6 138.2 80 138.1 80.4 137.9 80.8 137.7 81.2 137.4 81.6 137.2 82 137 82.4 136.7 82.8 136.4 83.2 136.2 83.6 136 84 135.8 84.4 135.7 84.8 135.7 85.2 135.8 85.6 136 86 136.2 86.4 136.4 86.8 136.5 87.2 136.6 87.6 136.5 88 136.4 88.4 136.2 88.8 135.9 89.2 135.7 89.6 135.4 90 135.2 90.4 135.1 90.8 135 91.2 134.9 91.6 134.9 92 134.8 92.4 134.7 92.8 134.6 93.2 134.5 93.6 134.3 94 134.2 94.4 134 94.8 133.9 95.2 133.7 95.6 133.6 96 133.5 96.4 133.5 96.8 133.5 97.2 133.6 97.6 133.6 98 133.7 98.3 133.9 98.7 134 99.1 134.1 99.5 134.3 99.9 134.4 100.3 134.5 100.7 134.7 101.1 134.9 101.5 135 101.9 135.2 102.3 135.5 102.7 135.7 103.1 136 103.5 136.2 103.9 136.4 104.3 136.6 104.7 136.8 105.1 136.9 105.5 137.1 105.9 137.2 106.3 137.3 106.7 137.4 107.1 137.5 107.5 137.7 107.9 137.8 108.3 137.9 108.7 138 109.1 138.1 109.5 138.2 109.9 138.2 110.3 138.3 110.7 138.5 111.1 138.6 111.5 138.8 111.9 139.1 112.3 139.3 112.7 139.5 113.1 139.7 113.5 139.8 113.9 139.9 114.3 140 114.7 140 115.1 140 115.5 140 115.9 139.9 116.3 139.9 116.7 139.7 117.1 139.6 117.5 139.4 117.9 139.2 118.3 139 118.7 138.7 119.1 138.4 119.5 138.1 119.9 137.8 120.2 137.5 120.6 137.2 121 136.9 121.4 136.7 121.8 136.4 122.2 136.1 122.6 135.9 123 135.7 123.4 135.5 123.8 135.3 124.2 135.2 124.6 135.1 125 135.1 125.4 135.1 125.8 135.1 126.2 135.1 126.6 135.2 127 135.2 127.4 135.3 127.8 135.3 128.2 135.3 128.6 135.3 129 135.2 129.4 135.1 129.8 135 130.2 134.9 130.6 134.7 131 134.6" fill="none" stroke="#e0453f" stroke-width="0.8"/>
<path d="M0 136.5 0.4 136.3 0.8 136 1.2 135.7 1.6 135.4 2 135.2 2.4 135 2.8 134.9 3.2 134.9 3.6 135 4 135.2 4.4 135.4 4.8 135.7 5.2 136 5.6 136.2 6 136.3 6.4 136.2 6.8 136.1 7.2 135.8 7.6 135.5 8 135.2 8.4 134.9 8.8 134.6 9.2 134.3 9.6 134.1 10 133.9 10.4 133.8 10.8 133.7 11.1 133.6 11.5 133.5 11.9 133.5 12.3 133.5 12.7 133.5 13.1 133.5 13.5 133.5 13.9 133.5 14.3 133.5 14.7 133.6 15.1 133.7 15.5 133.9 15.9 134.1 16.3 134.4 16.7 134.7 17.1 135.1 17.5 135.5 17.9 135.8 18.3 136.2 18.7 136.4 19.1 136.6 19.5 136.6 19.9 136.6 20.3 136.6 20.7 136.5 21.1 136.5 21.5 136.5 21.9 136.6 22.3 136.9 22.7 137.2 23.1 137.6 23.5 138 23.9 138.3 24.3 138.7 24.7 139 25.1 139.3 25.5 139.4 25.9 139.6 26.3 139.7 26.7 139.7 27.1 139.8 27.5 139.8 27.9 139.8 28.3 139.8 28.7 139.7 29.1 139.6 29.5 139.5 29.9 139.3 30.3 139.1 30.7 138.7 31.1 138.3 31.5 137.8 31.9 137.3 32.3 136.6 32.7 135.8 33 134.6 33.4 133.3 33.8 131.7 34.2 130 34.6 128.4 35 126.9 35.4 125.8 35.8 125.4 36.2 125.8 36.6 127.1 37 128.6 37.4 130.2 37.8 131.9 38.2 133.8 38.6 135.7 39 137.5 39.4 139.2 39.8 140.9 40.2 142.7 40.6 144.6 41 146.2 41.4 147.6 41.8 148.6 42.2 149.1 42.6 148.7 43 147.4 43.4 145.4 43.8 142.9 44.2 140.2 44.6 137.5 45 134.7 45.4 131.6 45.8 128.4 46.2 125.7 46.6 123.2 47 120.9 47.4 119.4 47.8 119.1 48.2 120.2 48.6 122.3 49 124.7 49.4 127 49.8 129 50.2 131 50.6 132.8 51 134.5 51.4 135.8 51.8 136.8 52.2 137.4 52.6 137.8 53 138.1 53.4 138.3 53.8 138.5 54.2 138.7 54.6 138.9 54.9 139 55.3 139 55.7 138.8 56.1 138.6 56.5 138.3 56.9 137.9 57.3 137.4 57.7 137 58.1 136.6 58.5 136.3 58.9 136.1 59.3 136 59.7 135.9 60.1 135.8 60.5 135.7 60.9 135.7 61.3 135.7 61.7 135.7 62.1 135.7 62.5 135.8 62.9 135.9 63.3 135.9 63.7 136 64.1 136 64.5 136.1 64.9 136.1 65.3 136.2 65.7 136.2 66.1 136.3 66.5 136.4 66.9 136.5 67.3 136.6 67.7 136.7 68.1 136.8 68.5 136.7 68.9 136.6 69.3 136.4 69.7 136.1 70.1 135.8 70.5 135.5 70.9 135.2 71.3 134.9 71.7 134.7 72.1 134.5 72.5 134.4 72.9 134.3 73.3 134.3 73.7 134.2 74.1 134.2 74.5 134.2 74.9 134.2 75.3 134.2 75.7 134.2 76.1 134.3 76.4 134.4 76.8 134.5 77.2 134.6 77.6 134.7 78 134.8 78.4 134.9 78.8 135.1 79.2 135.3 79.6 135.5 80 135.7 80.4 135.8 80.8 136 81.2 136.2 81.6 136.3 82 136.4 82.4 136.4 82.8 136.5 83.2 136.5 83.6 136.6 84 136.7 84.4 136.8 84.8 136.9 85.2 136.9 85.6 137 86 137.1 86.4 137.2 86.8 137.2 87.2 137.2 87.6 137.3 88 137.3 88.4 137.3 88.8 137.3 89.2 137.2 89.6 137.2 90 137.1 90.4 137 90.8 136.8 91.2 136.6 91.6 136.3 92 136.1 92.4 135.8 92.8 135.5 93.2 135.3 93.6 135.2 94 135.3 94.4 135.4 94.8 135.5 95.2 135.7 95.6 135.9 96 136.1 96.4 136.2 96.8 136.2 97.2 136.1 97.6 136 98 135.7 98.3 135.5 98.7 135.3 99.1 135.1 99.5 135 99.9 135 100.3 135.1 100.7 135.4 101.1 135.7 101.5 136 101.9 136.3 102.3 136.6 102.7 136.8 103.1 136.9 103.5 136.9 103.9 136.9 104.3 136.8 104.7 136.7 105.1 136.6 105.5 136.5 105.9 136.5 106.3 136.5 106.7 136.5 107.1 136.5 107.5 136.6 107.9 136.6 108.3 136.7 108.7 136.7 109.1 136.8 109.5 136.9 109.9 137 110.3 137.2 110.7 137.3 111.1 137.5 111.5 137.6 111.9 137.8 112.3 137.9 112.7 138.1 113.1 138.2 113.5 138.3 113.9 138.3 114.3 138.4 114.7 138.5 115.1 138.5 115.5 138.5 115.9 138.5 116.3 138.5 116.7 138.5 117.1 138.5 117.5 138.4 117.9 138.3 118.3 138.2 118.7 138.1 119.1 138 119.5 137.9 119.9 137.8 120.2 137.7 120.6 137.6 121 137.5 121.4 137.3 121.8 137.2 122.2 137 122.6 136.8 123 136.6 123.4 136.4 123.8 136.2 124.2 136.1 124.6 135.9 125 135.8 125.4 135.6 125.8 135.5 126.2 135.3 126.6 135.2 127 135.1 127.4 135 127.8 135 128.2 135 128.6 135.1 129 135.2 129.4 135.3 129.8 135.5 130.2 135.6 130.6 135.7 131 135.9" fill="none" stroke="#3777bb" stroke-width="0.8"/>
<path d="M0 136.8 0.4 136.9 0.8 137 1.2 137.1 1.6 137.2 2 137.3 2.4 137.4 2.8 137.5 3.2 137.5 3.6 137.5 4 137.4 4.4 137.3 4.8 137.1 5.2 137 5.6 136.8 6 136.7 6.4 136.5 6.8 136.4 7.2 136.3 7.6 136.3 8 136.2 8.4 136.1 8.8 136 9.2 135.8 9.6 135.7 10 135.4 10.4 135.2 10.8 134.9 11.1 134.7 11.5 134.5 11.9 134.3 12.3 134.1 12.7 134 13.1 133.9 13.5 133.8 13.9 133.8 14.3 133.7 14.7 133.7 15.1 133.7 15.5 133.6 15.9 133.5 16.3 133.5 16.7 133.4 17.1 133.3 17.5 133.2 17.9 133.2 18.3 133.3 18.7 133.5 19.1 133.8 19.5 134.2 19.9 134.7 20.3 135.2 20.7 135.8 21.1 136.3 21.5 136.7 21.9 137 22.3 137.2 22.7 137.4 23.1 137.6 23.5 137.7 23.9 137.8 24.3 137.8 24.7 137.9 25.1 137.9 25.5 137.9 25.9 137.9 26.3 137.9 26.7 137.8 27.1 137.7 27.5 137.6 27.9 137.6 28.3 137.5 28.7 137.5 29.1 137.5 29.5 137.5 29.9 137.5 30.3 137.4 30.7 137.2 31.1 136.9 31.5 136.5 31.9 135.9 32.3 135.3 32.7 134.5 33 133.7 33.4 132.7 33.8 131.5 34.2 130.2 34.6 128.8 35 127.4 35.4 126.1 35.8 125.1 36.2 124.4 36.6 124.2 37 124.8 37.4 125.8 37.8 127.2 38.2 128.6 38.6 130.2 39 132 39.4 134 39.8 136 40.2 137.9 40.6 140.1 41 142.6 41.4 145.1 41.8 147.5 42.2 149.5 42.6 151.1 43 151.8 43.4 151.5 43.8 149.9 44.2 147.4 44.6 144.2 45 140.9 45.4 137.7 45.8 134.7 46.2 131.5 46.6 128.5 47 126.1 47.4 124.1 47.8 122.5 48.2 121.5 48.6 121.3 49 122.2 49.4 123.9 49.8 125.9 50.2 127.8 50.6 129.5 51 131.3 51.4 133.1 51.8 134.8 52.2 136.1 52.6 137.1 53 137.7 53.4 138.2 53.8 138.4 54.2 138.5 54.6 138.6 54.9 138.5 55.3 138.4 55.7 138.2 56.1 137.9 56.5 137.4 56.9 136.9 57.3 136.3 57.7 135.7 58.1 135.2 58.5 134.8 58.9 134.6 59.3 134.6 59.7 134.9 60.1 135.2 60.5 135.8 60.9 136.3 61.3 136.9 61.7 137.4 62.1 137.8 62.5 138 62.9 138 63.3 137.9 63.7 137.6 64.1 137.4 64.5 137 64.9 136.7 65.3 136.5 65.7 136.3 66.1 136.2 66.5 136.1 66.9 136.1 67.3 136.1 67.7 136 68.1 136 68.5 135.9 68.9 135.8 69.3 135.7 69.7 135.6 70.1 135.5 70.5 135.4 70.9 135.3 71.3 135.2 71.7 135.2 72.1 135.2 72.5 135.4 72.9 135.5 73.3 135.7 73.7 135.9 74.1 136.1 74.5 136.2 74.9 136.3 75.3 136.2 75.7 136.1 76.1 135.9 76.4 135.7 76.8 135.4 77.2 135.2 77.6 135.1 78 135 78.4 135 78.8 135 79.2 135 79.6 135.1 80 135.1 80.4 135.2 80.8 135.3 81.2 135.4 81.6 135.5 82 135.7 82.4 135.8 82.8 136 83.2 136.1 83.6 136.3 84 136.3 84.4 136.3 84.8 136.3 85.2 136.1 85.6 136 86 135.8 86.4 135.7 86.8 135.5 87.2 135.5 87.6 135.4 88 135.5 88.4 135.5 88.8 135.6 89.2 135.7 89.6 135.8 90 135.9 90.4 136 90.8 136.1 91.2 136.1 91.6 136.2 92 136.3 92.4 136.3 92.8 136.4 93.2 136.5 93.6 136.5 94 136.5 94.4 136.6 94.8 136.6 95.2 136.6 95.6 136.6 96 136.6 96.4 136.6 96.8 136.6 97.2 136.6 97.6 136.5 98 136.5 98.3 136.5 98.7 136.5 99.1 136.4 99.5 136.4 99.9 136.4 100.3 136.4 100.7 136.4 101.1 136.4 101.5 136.4 101.9 136.4 102.3 136.5 102.7 136.5 103.1 136.5 103.5 136.5 103.9 136.5 104.3 136.4 104.7 136.4 105.1 136.4 105.5 136.5 105.9 136.6 106.3 136.7 106.7 137 107.1 137.3 107.5 137.7 107.9 138 108.3 138.3 108.7 138.5 109.1 138.5 109.5 138.4 109.9 138.1 110.3 137.6 110.7 137.1 111.1 136.6 111.5 136.1 111.9 135.8 112.3 135.6 112.7 135.7 113.1 135.9 113.5 136.2 113.9 136.6 114.3 137 114.7 137.3 115.1 137.6 115.5 137.7 115.9 137.7 116.3 137.6 116.7 137.4 117.1 137.2 117.5 137 117.9 136.8 118.3 136.6 118.7 136.6 119.1 136.5 119.5 136.5 119.9 136.6 120.2 136.6 120.6 136.7 121 136.8 121.4 136.9 121.8 137.1 122.2 137.3 122.6 137.6 123 137.9 123.4 138.2 123.8 138.4 124.2 138.6 124.6 138.7 125 138.7 125.4 138.6 125.8 138.5 126.2 138.3 126.6 138.1 127 137.8 127.4 137.5 127.8 137.3 128.2 137.1 128.6 136.8 129 136.6 129.4 136.3 129.8 136.1 130.2 135.8 130.6 135.6 131 135.3" fill="none" stroke="#3777bb" stroke-width="0.8"/>
<path d="M0 136.9 0.4 136.9 0.8 137 1.2 137 1.6 137.1 2 137.1 2.4 137.2 2.8 137.2 3.2 137.2 3.6 137.2 4 137.1 4.4 137 4.8 136.9 5.2 136.7 5.6 136.6 6 136.5 6.4 136.4 6.8 136.3 7.2 136.2 7.6 136.1 8 136.1 8.4 136 8.8 135.9 9.2 135.8 9.6 135.6 10 135.4 10.4 135.3 10.8 135.2 11.1 135 11.5 134.9 11.9 134.7 12.3 134.6 12.7 134.4 13.1 134.1 13.5 133.8 13.9 133.5 14.3 133.3 14.7 133 15.1 132.9 15.5 132.8 15.9 132.9 16.3 133.1 16.7 133.4 17.1 133.7 17.5 134 17.9 134.4 18.3 134.7 18.7 135 19.1 135.2 19.5 135.4 19.9 135.5 20.3 135.5 20.7 135.6 21.1 135.7 21.5 135.7 21.9 135.8 22.3 135.9 22.7 136.1 23.1 136.2 23.5 136.4 23.9 136.5 24.3 136.6 24.7 136.7 25.1 136.7 25.5 136.7 25.9 136.7 26.3 136.6 26.7 136.6 27.1 136.5 27.5 136.4 27.9 136.4 28.3 136.4 28.7 136.5 29.1 136.6 29.5 136.6 29.9 136.7 30.3 136.7 30.7 136.5 31.1 136.2 31.5 135.8 31.9 135.2 32.3 134.4 32.7 133.5 33 132.3 33.4 131.1 33.8 129.7 34.2 128.3 34.6 127.1 35 126 35.4 125.3 35.8 125.3 36.2 125.9 36.6 127.1 37 128.6 37.4 130.1 37.8 131.9 38.2 133.9 38.6 136.1 39 138.1 39.4 140.1 39.8 142.3 40.2 144.7 40.6 146.9 41 149 41.4 150.6 41.8 151.6 42.2 151.9 42.6 151 43 149.1 43.4 146.3 43.8 143 44.2 139.7 44.6 136.6 45 133.5 45.4 130.2 45.8 127.1 46.2 124.6 46.6 122.3 47 120.4 47.4 119.1 47.8 118.9 48.2 119.7 48.6 121.3 49 123.2 49.4 125 49.8 126.8 50.2 128.6 50.6 130.5 51 132.1 51.4 133.4 51.8 134.4 52.2 135.1 52.6 135.6 53 136.1 53.4 136.5 53.8 137 54.2 137.5 54.6 138 54.9 138.4 55.3 138.7 55.7 138.9 56.1 138.9 56.5 138.8 56.9 138.6 57.3 138.4 57.7 138.1 58.1 137.8 58.5 137.5 58.9 137.3 59.3 137.1 59.7 137 60.1 136.8 60.5 136.6 60.9 136.4 61.3 136.3 61.7 136.1 62.1 135.9 62.5 135.7 62.9 135.5 63.3 135.3 63.7 135.1 64.1 134.9 64.5 134.7 64.9 134.5 65.3 134.5 65.7 134.5 66.1 134.6 66.5 134.7 66.9 134.9 67.3 135.2 67.7 135.4 68.1 135.6 68.5 135.8 68.9 135.9 69.3 135.9 69.7 135.9 70.1 135.8 70.5 135.8 70.9 135.7 71.3 135.7 71.7 135.7 72.1 135.9 72.5 136.1 72.9 136.3 73.3 136.5 73.7 136.8 74.1 137 74.5 137.1 74.9 137.1 75.3 137.1 75.7 136.9 76.1 136.7 76.4 136.5 76.8 136.2 77.2 136 77.6 135.7 78 135.5 78.4 135.3 78.8 135.1 79.2 134.8 79.6 134.6 80 134.4 80.4 134.2 80.8 134.2 81.2 134.2 81.6 134.4 82 134.7 82.4 135 82.8 135.4 83.2 135.7 83.6 136 84 136.2 84.4 136.3 84.8 136.4 85.2 136.3 85.6 136.2 86 136.1 86.4 135.9 86.8 135.8 87.2 135.7 87.6 135.7 88 135.6 88.4 135.6 88.8 135.5 89.2 135.5 89.6 135.5 90 135.4 90.4 135.4 90.8 135.3 91.2 135.3 91.6 135.2 92 135.2 92.4 135.1 92.8 135.1 93.2 135.1 93.6 135.1 94 135 94.4 135 94.8 135 95.2 135 95.6 135 96 135 96.4 135.1 96.8 135.1 97.2 135.2 97.6 135.3 98 135.3 98.3 135.4 98.7 135.5 99.1 135.6 99.5 135.7 99.9 135.8 100.3 135.9 100.7 136 101.1 136 101.5 136.1 101.9 136.2 102.3 136.2 102.7 136.3 103.1 136.3 103.5 136.2 103.9 136.2 104.3 136.2 104.7 136.1 105.1 136.1 105.5 136 105.9 135.9 106.3 135.8 106.7 135.7 107.1 135.5 107.5 135.4 107.9 135.2 108.3 135.1 108.7 135 109.1 134.9 109.5 134.8 109.9 134.7 110.3 134.6 110.7 134.5 111.1 134.4 111.5 134.3 111.9 134.3 112.3 134.3 112.7 134.2 113.1 134.2 113.5 134.2 113.9 134.3 114.3 134.3 114.7 134.4 115.1 134.4 115.5 134.5 115.9 134.6 116.3 134.7 116.7 134.8 117.1 135 117.5 135.1 117.9 135.3 118.3 135.4 118.7 135.6 119.1 135.7 119.5 135.8 119.9 135.9 120.2 136 120.6 136.1 121 136.2 121.4 136.3 121.8 136.4 122.2 136.6 122.6 136.8 123 137 123.4 137.2 123.8 137.3 124.2 137.4 124.6 137.4 125 137.3 125.4 137.1 125.8 136.8 126.2 136.4 126.6 136.1 127 135.7 127.4 135.5 127.8 135.3 128.2 135.3 128.6 135.4 129 135.5 129.4 135.7 129.8 135.9 130.2 136.1 130.6 136.3 131 136.5" fill="none" stroke="#3777bb" stroke-width="0.8"/>
<path d="M0 134.6 0.4 134.7 0.8 134.8 1.2 134.9 1.6 135 2 135.1 2.4 135.2 2.8 135.4 3.2 135.5 3.6 135.7 4 135.9 4.4 136.1 4.8 136.4 5.2 136.5 5.6 136.7 6 136.8 6.4 136.9 6.8 137 7.2 137 7.6 137 8 137 8.4 136.9 8.8 136.8 9.2 136.7 9.6 136.5 10 136.4 10.4 136.2 10.8 135.9 11.1 135.7 11.5 135.5 11.9 135.3 12.3 135.2 12.7 135 13.1 134.9 13.5 134.8 13.9 134.7 14.3 134.6 14.7 134.6 15.1 134.5 15.5 134.6 15.9 134.6 16.3 134.8 16.7 135 17.1 135.2 17.5 135.4 17.9 135.6 18.3 135.8 18.7 136 19.1 136.1 19.5 136.2 19.9 136.3 20.3 136.4 20.7 136.4 21.1 136.4 21.5 136.4 21.9 136.4 22.3 136.3 22.7 136.1 23.1 135.8 23.5 135.6 23.9 135.4 24.3 135.2 24.7 135.1 25.1 135.1 25.5 135.2 25.9 135.5 26.3 135.8 26.7 136.1 27.1 136.5 27.5 136.8 27.9 137.1 28.3 137.3 28.7 137.4 29.1 137.6 29.5 137.7 29.9 137.7 30.3 137.7 30.7 137.6 31.1 137.3 31.5 136.9 31.9 136.3 32.3 135.4 32.7 134.3 33 132.9 33.4 131.4 33.8 129.9 34.2 128.3 34.6 126.9 35 125.9 35.4 125.3 35.8 125.4 36.2 126.4 36.6 128 37 129.7 37.4 131.3 37.8 133.1 38.2 134.9 38.6 136.8 39 138.5 39.4 140.1 39.8 141.9 40.2 143.8 40.6 145.7 41 147.4 41.4 148.9 41.8 149.8 42.2 150.1 42.6 149.4 43 147.8 43.4 145.4 43.8 142.7 44.2 139.9 44.6 137.3 45 134.4 45.4 131.2 45.8 128.4 46.2 125.9 46.6 123.5 47 121.6 47.4 120.3 47.8 120.3 48.2 121.5 48.6 123.5 49 125.7 49.4 127.7 49.8 129.6 50.2 131.6 50.6 133.6 51 135.5 51.4 137 51.8 138.1 52.2 138.8 52.6 139.3 53 139.6 53.4 139.7 53.8 139.7 54.2 139.6 54.6 139.4 54.9 139.2 55.3 138.8 55.7 138.4 56.1 138.1 56.5 137.7 56.9 137.4 57.3 137 57.7 136.8 58.1 136.6 58.5 136.5 58.9 136.4 59.3 136.3 59.7 136.3 60.1 136.2 60.5 136.2 60.9 136.2 61.3 136.2 61.7 136.2 62.1 136.2 62.5 136.3 62.9 136.4 63.3 136.5 63.7 136.6 64.1 136.7 64.5 136.8 64.9 136.8 65.3 136.9 65.7 137 66.1 137.1 66.5 137.3 66.9 137.5 67.3 137.7 67.7 137.8 68.1 138 68.5 138 68.9 138 69.3 138 69.7 138 70.1 137.9 70.5 137.8 70.9 137.6 71.3 137.5 71.7 137.4 72.1 137.2 72.5 137.1 72.9 136.9 73.3 136.7 73.7 136.5 74.1 136.3 74.5 136.1 74.9 135.9 75.3 135.7 75.7 135.4 76.1 135.2 76.4 135 76.8 134.8 77.2 134.6 77.6 134.4 78 134.3 78.4 134.2 78.8 134.1 79.2 134.1 79.6 134 80 134 80.4 134.1 80.8 134.1 81.2 134.2 81.6 134.3 82 134.4 82.4 134.6 82.8 134.7 83.2 134.9 83.6 135 84 135.2 84.4 135.4 84.8 135.6 85.2 135.8 85.6 136 86 136.2 86.4 136.4 86.8 136.5 87.2 136.6 87.6 136.7 88 136.7 88.4 136.7 88.8 136.7 89.2 136.6 89.6 136.5 90 136.5 90.4 136.4 90.8 136.4 91.2 136.3 91.6 136.3 92 136.2 92.4 136.1 92.8 136.1 93.2 136 93.6 136 94 135.9 94.4 135.8 94.8 135.7 95.2 135.6 95.6 135.6 96 135.5 96.4 135.5 96.8 135.5 97.2 135.5 97.6 135.5 98 135.6 98.3 135.6 98.7 135.7 99.1 135.8 99.5 135.9 99.9 136 100.3 136.1 100.7 136.2 101.1 136.4 101.5 136.5 101.9 136.6 102.3 136.7 102.7 136.7 103.1 136.7 103.5 136.6 103.9 136.5 104.3 136.4 104.7 136.2 105.1 136 105.5 135.8 105.9 135.6 106.3 135.5 106.7 135.3 107.1 135.1 107.5 134.9 107.9 134.7 108.3 134.6 108.7 134.5 109.1 134.5 109.5 134.6 109.9 134.7 110.3 134.8 110.7 135.1 111.1 135.3 111.5 135.6 111.9 135.8 112.3 136.1 112.7 136.4 113.1 136.7 113.5 137 113.9 137.3 114.3 137.6 114.7 137.8 115.1 138 115.5 138.2 115.9 138.3 116.3 138.4 116.7 138.4 117.1 138.3 117.5 138.3 117.9 138.2 118.3 138.1 118.7 138 119.1 137.8 119.5 137.7 119.9 137.5 120.2 137.3 120.6 137.1 121 137 121.4 136.8 121.8 136.6 122.2 136.3 122.6 136.1 123 135.9 123.4 135.7 123.8 135.5 124.2 135.4 124.6 135.3 125 135.3 125.4 135.4 125.8 135.5 126.2 135.7 126.6 135.8 127 136 127.4 136.1 127.8 136.1 128.2 136.1 128.6 136 129 135.8 129.4 135.6 129.8 135.4 130.2 135.2 130.6 135 131 134.9" fill="none" stroke="#3777bb" stroke-width="0.8"/>
<path d="M0 138.9 0.4 138.9 0.8 138.8 1.2 138.8 1.6 138.8 2 138.7 2.4 138.8 2.8 138.8 3.2 138.8 3.6 138.9 4 139 4.4 139.2 4.8 139.3 5.2 139.4 5.6 139.4 6 139.4 6.4 139.4 6.8 139.2 7.2 139.1 7.6 138.9 8 138.6 8.4 138.4 8.8 138.1 9.2 137.8 9.6 137.5 10 137.2 10.4 136.8 10.8 136.5 11.1 136.2 11.5 135.9 11.9 135.6 12.3 135.3 12.7 134.9 13.1 134.6 13.5 134.2 13.9 133.9 14.3 133.6 14.7 133.3 15.1 133.1 15.5 133 15.9 133 16.3 133.1 16.7 133.3 17.1 133.6 17.5 133.9 17.9 134.1 18.3 134.4 18.7 134.5 19.1 134.6 19.5 134.6 19.9 134.5 20.3 134.4 20.7 134.4 21.1 134.3 21.5 134.4 21.9 134.5 22.3 134.7 22.7 135.1 23.1 135.6 23.5 136 23.9 136.5 24.3 136.9 24.7 137.2 25.1 137.4 25.5 137.4 25.9 137.3 26.3 137.1 26.7 137 27.1 136.8 27.5 136.6 27.9 136.5 28.3 136.6 28.7 136.8 29.1 137 29.5 137.3 29.9 137.6 30.3 137.7 30.7 137.8 31.1 137.7 31.5 137.5 31.9 137.1 32.3 136.5 32.7 135.8 33 135.1 33.4 134.1 33.8 133 34.2 131.6 34.6 130.1 35 128.6 35.4 127.2 35.8 126 36.2 125.2 36.6 124.8 37 125.3 37.4 126.5 37.8 128.1 38.2 129.8 38.6 131.4 39 133.4 39.4 135.5 39.8 137.6 40.2 139.5 40.6 141.5 41 143.8 41.4 146.2 41.8 148.5 42.2 150.4 42.6 152 43 152.9 43.4 153 43.8 151.8 44.2 149.6 44.6 146.8 45 143.5 45.4 140.2 45.8 137.2 46.2 133.7 46.6 130.2 47 127.1 47.4 124.4 47.8 121.8 48.2 119.7 48.6 118.5 49 118.6 49.4 119.8 49.8 121.7 50.2 123.8 50.6 125.7 51 127.8 51.4 129.9 51.8 132.1 52.2 134.1 52.6 135.8 53 136.9 53.4 137.8 53.8 138.5 54.2 139 54.6 139.3 54.9 139.6 55.3 139.7 55.7 139.9 56.1 139.8 56.5 139.7 56.9 139.5 57.3 139.1 57.7 138.8 58.1 138.4 58.5 138.1 58.9 137.9 59.3 137.8 59.7 137.8 60.1 137.9 60.5 138 60.9 138.1 61.3 138.3 61.7 138.4 62.1 138.5 62.5 138.6 62.9 138.5 63.3 138.4 63.7 138.3 64.1 138.2 64.5 138 64.9 137.9 65.3 137.8 65.7 137.7 66.1 137.8 66.5 137.8 66.9 137.9 67.3 138 67.7 138 68.1 138 68.5 138 68.9 137.9 69.3 137.7 69.7 137.4 70.1 137.2 70.5 136.9 70.9 136.7 71.3 136.5 71.7 136.3 72.1 136.2 72.5 136 72.9 135.9 73.3 135.8 73.7 135.8 74.1 135.7 74.5 135.7 74.9 135.7 75.3 135.8 75.7 136 76.1 136.3 76.4 136.6 76.8 136.8 77.2 137 77.6 137.2 78 137.2 78.4 137.1 78.8 136.9 79.2 136.7 79.6 136.4 80 136.1 80.4 135.9 80.8 135.7 81.2 135.7 81.6 135.7 82 135.8 82.4 135.9 82.8 136 83.2 136.2 83.6 136.3 84 136.5 84.4 136.6 84.8 136.7 85.2 136.9 85.6 137 86 137.1 86.4 137.2 86.8 137.2 87.2 137.3 87.6 137.3 88 137.3 88.4 137.2 88.8 137.2 89.2 137.1 89.6 137 90 136.9 90.4 136.9 90.8 136.8 91.2 136.7 91.6 136.7 92 136.6 92.4 136.5 92.8 136.5 93.2 136.5 93.6 136.5 94 136.6 94.4 136.7 94.8 136.9 95.2 137.1 95.6 137.3 96 137.4 96.4 137.6 96.8 137.7 97.2 137.8 97.6 138 98 138.1 98.3 138.2 98.7 138.2 99.1 138.2 99.5 138.2 99.9 138.1 100.3 137.8 100.7 137.4 101.1 137 101.5 136.5 101.9 136.1 102.3 135.8 102.7 135.6 103.1 135.5 103.5 135.6 103.9 135.8 104.3 136.1 104.7 136.5 105.1 136.8 105.5 137.1 105.9 137.3 106.3 137.4 106.7 137.4 107.1 137.4 107.5 137.3 107.9 137.3 108.3 137.2 108.7 137.1 109.1 137.1 109.5 137 109.9 137 110.3 136.9 110.7 136.8 111.1 136.8 111.5 136.7 111.9 136.7 112.3 136.7 112.7 136.8 113.1 137 113.5 137.1 113.9 137.3 114.3 137.5 114.7 137.6 115.1 137.7 115.5 137.7 115.9 137.5 116.3 137.3 116.7 137.1 117.1 136.7 117.5 136.4 117.9 136.1 118.3 135.9 118.7 135.7 119.1 135.7 119.5 135.7 119.9 135.7 120.2 135.8 120.6 135.8 121 135.9 121.4 135.8 121.8 135.7 122.2 135.6 122.6 135.4 123 135.2 123.4 135 123.8 134.8 124.2 134.7 124.6 134.6 125 134.6 125.4 134.6 125.8 134.6 126.2 134.7 126.6 134.8 127 135 127.4 135.1 127.8 135.3 128.2 135.5 128.6 135.7 129 135.9 129.4 136.1 129.8 136.3 130.2 136.5 130.6 136.8 131 137" fill="none" stroke="#3777bb" stroke-width="0.8"/>
<path d="M0 135.9 0.4 136.1 0.8 136.3 1.2 136.6 1.6 136.9 2 137.1 2.4 137.3 2.8 137.5 3.2 137.5 3.6 137.5 4 137.3 4.4 137.1 4.8 136.8 5.2 136.5 5.6 136.2 6 136 6.4 135.9 6.8 135.8 7.2 135.7 7.6 135.7 8 135.7 8.4 135.7 8.8 135.7 9.2 135.7 9.6 135.7 10 135.7 10.4 135.7 10.8 135.6 11.1 135.6 11.5 135.6 11.9 135.6 12.3 135.6 12.7 135.5 13.1 135.3 13.5 135.1 13.9 134.9 14.3 134.7 14.7 134.5 15.1 134.4 15.5 134.3 15.9 134.2 16.3 134.2 16.7 134.2 17.1 134.2 17.5 134.3 17.9 134.4 18.3 134.5 18.7 134.6 19.1 134.7 19.5 134.8 19.9 135 20.3 135.2 20.7 135.3 21.1 135.5 21.5 135.6 21.9 135.7 22.3 135.7 22.7 135.8 23.1 135.8 23.5 135.8 23.9 135.7 24.3 135.8 24.7 135.8 25.1 135.9 25.5 136.1 25.9 136.3 26.3 136.5 26.7 136.8 27.1 137 27.5 137.2 27.9 137.4 28.3 137.5 28.7 137.5 29.1 137.5 29.5 137.5 29.9 137.4 30.3 137.3 30.7 137.1 31.1 136.8 31.5 136.4 31.9 135.8 32.3 135.1 32.7 134.3 33 133.3 33.4 132.2 33.8 130.7 34.2 129.2 34.6 127.7 35 126.5 35.4 125.7 35.8 125.3 36.2 125.6 36.6 126.8 37 128.6 37.4 130.5 37.8 132.2 38.2 133.8 38.6 135.5 39 137.2 39.4 138.7 39.8 140.1 40.2 141.6 40.6 143.4 41 145.3 41.4 147.1 41.8 148.6 42.2 149.8 42.6 150.4 43 150.2 43.4 149 43.8 147 44.2 144.5 44.6 141.8 45 139.1 45.4 136.2 45.8 133 46.2 129.8 46.6 126.9 47 124.3 47.4 121.9 47.8 120.1 48.2 119.5 48.6 120.2 49 121.9 49.4 124.1 49.8 126.2 50.2 127.9 50.6 129.7 51 131.5 51.4 133.1 51.8 134.5 52.2 135.5 52.6 136.3 53 136.8 53.4 137.3 53.8 137.7 54.2 138.1 54.6 138.4 54.9 138.8 55.3 139 55.7 139.1 56.1 139 56.5 138.8 56.9 138.5 57.3 138.2 57.7 137.8 58.1 137.5 58.5 137.2 58.9 137 59.3 136.8 59.7 136.6 60.1 136.5 60.5 136.4 60.9 136.2 61.3 136.1 61.7 136 62.1 135.9 62.5 135.8 62.9 135.8 63.3 135.7 63.7 135.6 64.1 135.5 64.5 135.4 64.9 135.4 65.3 135.4 65.7 135.5 66.1 135.7 66.5 136 66.9 136.4 67.3 136.7 67.7 137.1 68.1 137.3 68.5 137.5 68.9 137.6 69.3 137.5 69.7 137.4 70.1 137.1 70.5 136.9 70.9 136.6 71.3 136.5 71.7 136.4 72.1 136.5 72.5 136.7 72.9 136.9 73.3 137.2 73.7 137.4 74.1 137.7 74.5 137.9 74.9 138 75.3 138.1 75.7 138.1 76.1 138.2 76.4 138.2 76.8 138.2 77.2 138.1 77.6 138.1 78 138 78.4 137.9 78.8 137.8 79.2 137.6 79.6 137.5 80 137.3 80.4 137.2 80.8 137.1 81.2 136.9 81.6 136.8 82 136.7 82.4 136.5 82.8 136.4 83.2 136.2 83.6 136.1 84 136 84.4 135.9 84.8 135.8 85.2 135.7 85.6 135.6 86 135.6 86.4 135.5 86.8 135.5 87.2 135.4 87.6 135.3 88 135.2 88.4 135.2 88.8 135.1 89.2 135 89.6 134.9 90 134.8 90.4 134.7 90.8 134.7 91.2 134.6 91.6 134.6 92 134.6 92.4 134.6 92.8 134.6 93.2 134.6 93.6 134.6 94 134.6 94.4 134.7 94.8 134.8 95.2 134.9 95.6 135.1 96 135.2 96.4 135.3 96.8 135.3 97.2 135.3 97.6 135.2 98 135 98.3 134.9 98.7 134.8 99.1 134.7 99.5 134.7 99.9 134.8 100.3 135 100.7 135.3 101.1 135.6 101.5 136 101.9 136.3 102.3 136.5 102.7 136.7 103.1 136.7 103.5 136.6 103.9 136.4 104.3 136.1 104.7 135.9 105.1 135.6 105.5 135.3 105.9 135.2 106.3 135.2 106.7 135.2 107.1 135.3 107.5 135.5 107.9 135.7 108.3 135.8 108.7 136 109.1 136.1 109.5 136.2 109.9 136.3 110.3 136.3 110.7 136.4 111.1 136.4 111.5 136.4 111.9 136.4 112.3 136.4 112.7 136.3 113.1 136.2 113.5 136 113.9 135.9 114.3 135.7 114.7 135.6 115.1 135.5 115.5 135.4 115.9 135.5 116.3 135.6 116.7 135.8 117.1 135.9 117.5 136.1 117.9 136.2 118.3 136.3 118.7 136.3 119.1 136.3 119.5 136.2 119.9 136.1 120.2 136 120.6 135.8 121 135.7 121.4 135.7 121.8 135.7 122.2 135.8 122.6 135.9 123 136 123.4 136.1 123.8 136.3 124.2 136.4 124.6 136.5 125 136.5 125.4 136.6 125.8 136.7 126.2 136.7 126.6 136.8 127 136.8 127.4 136.7 127.8 136.6 128.2 136.3 128.6 136 129 135.7 129.4 135.2 129.8 134.8 130.2 134.4 130.6 133.9 131 133.5" fill="none" stroke="#3777bb" stroke-width="0.8"/>
<path d="M0 137.3 0.4 137.5 0.8 137.6 1.2 137.8 1.6 138 2 138.2 2.4 138.3 2.8 138.5 3.2 138.7 3.6 138.8 4 139 4.4 139.1 4.8 139.2 5.2 139.3 5.6 139.3 6 139.3 6.4 139.1 6.8 138.8 7.2 138.5 7.6 138 8 137.6 8.4 137.1 8.8 136.6 9.2 136.2 9.6 135.9 10 135.7 10.4 135.5 10.8 135.4 11.1 135.3 11.5 135.2 11.9 135.1 12.3 134.9 12.7 134.7 13.1 134.3 13.5 134 13.9 133.6 14.3 133.2 14.7 132.9 15.1 132.7 15.5 132.6 15.9 132.6 16.3 132.8 16.7 133.1 17.1 133.4 17.5 133.8 17.9 134.2 18.3 134.5 18.7 134.8 19.1 135.1 19.5 135.2 19.9 135.4 20.3 135.5 20.7 135.5 21.1 135.6 21.5 135.7 21.9 135.7 22.3 135.8 22.7 135.9 23.1 135.9 23.5 136 23.9 136.1 24.3 136.1 24.7 136.1 25.1 136.1 25.5 136.1 25.9 136 26.3 136 26.7 135.9 27.1 135.9 27.5 135.9 27.9 136 28.3 136.2 28.7 136.5 29.1 137 29.5 137.5 29.9 138 30.3 138.4 30.7 138.6 31.1 138.6 31.5 138.2 31.9 137.6 32.3 136.7 32.7 135.6 33 134.4 33.4 133.1 33.8 131.7 34.2 130.1 34.6 128.6 35 127.3 35.4 126.1 35.8 125.3 36.2 125 36.6 125.3 37 126.2 37.4 127.5 37.8 129 38.2 130.7 38.6 132.6 39 134.8 39.4 137 39.8 139.1 40.2 141.3 40.6 143.8 41 146.4 41.4 148.8 41.8 150.9 42.2 152.4 42.6 153.3 43 153.2 43.4 151.8 43.8 149.3 44.2 146.2 44.6 142.8 45 139.5 45.4 136.5 45.8 133.3 46.2 130.2 46.6 127.6 47 125.5 47.4 123.6 47.8 122.1 48.2 121.5 48.6 121.8 49 123.1 49.4 124.8 49.8 126.6 50.2 128.3 50.6 130.1 51 132 51.4 133.8 51.8 135.4 52.2 136.5 52.6 137.3 53 137.9 53.4 138.3 53.8 138.6 54.2 138.8 54.6 139 54.9 139.1 55.3 139.1 55.7 139 56.1 138.8 56.5 138.5 56.9 138.1 57.3 137.7 57.7 137.3 58.1 137 58.5 136.7 58.9 136.5 59.3 136.3 59.7 136.2 60.1 136 60.5 135.8 60.9 135.7 61.3 135.6 61.7 135.6 62.1 135.7 62.5 135.8 62.9 136.2 63.3 136.6 63.7 137.1 64.1 137.5 64.5 138 64.9 138.4 65.3 138.6 65.7 138.7 66.1 138.6 66.5 138.5 66.9 138.2 67.3 138 67.7 137.7 68.1 137.5 68.5 137.4 68.9 137.4 69.3 137.4 69.7 137.6 70.1 137.7 70.5 137.9 70.9 138.1 71.3 138.2 71.7 138.2 72.1 138.1 72.5 137.9 72.9 137.7 73.3 137.4 73.7 137.1 74.1 136.9 74.5 136.7 74.9 136.6 75.3 136.6 75.7 136.6 76.1 136.6 76.4 136.7 76.8 136.8 77.2 136.9 77.6 137 78 137.1 78.4 137.1 78.8 137.2 79.2 137.3 79.6 137.4 80 137.4 80.4 137.5 80.8 137.5 81.2 137.5 81.6 137.4 82 137.3 82.4 137.2 82.8 137.1 83.2 137 83.6 136.9 84 136.8 84.4 136.8 84.8 136.8 85.2 136.9 85.6 137 86 137.2 86.4 137.3 86.8 137.3 87.2 137.3 87.6 137.1 88 136.8 88.4 136.5 88.8 136.1 89.2 135.7 89.6 135.3 90 135 90.4 134.8 90.8 134.7 91.2 134.7 91.6 134.8 92 135 92.4 135.2 92.8 135.3 93.2 135.4 93.6 135.5 94 135.4 94.4 135.2 94.8 135 95.2 134.8 95.6 134.6 96 134.4 96.4 134.3 96.8 134.2 97.2 134.2 97.6 134.3 98 134.5 98.3 134.6 98.7 134.8 99.1 134.9 99.5 135 99.9 135.1 100.3 135.1 100.7 135.1 101.1 135.1 101.5 135.1 101.9 135 102.3 135 102.7 135 103.1 135 103.5 135 103.9 135 104.3 135 104.7 134.9 105.1 135 105.5 135 105.9 135.2 106.3 135.4 106.7 135.7 107.1 136.1 107.5 136.5 107.9 136.9 108.3 137.3 108.7 137.5 109.1 137.7 109.5 137.7 109.9 137.5 110.3 137.3 110.7 137 111.1 136.7 111.5 136.4 111.9 136.1 112.3 135.9 112.7 135.9 113.1 135.9 113.5 136 113.9 136.1 114.3 136.2 114.7 136.3 115.1 136.3 115.5 136.2 115.9 136 116.3 135.8 116.7 135.4 117.1 135.1 117.5 134.8 117.9 134.5 118.3 134.3 118.7 134.2 119.1 134.1 119.5 134.2 119.9 134.3 120.2 134.4 120.6 134.5 121 134.7 121.4 134.8 121.8 134.8 122.2 134.8 122.6 134.8 123 134.9 123.4 134.9 123.8 134.9 124.2 134.9 124.6 134.9 125 134.9 125.4 134.9 125.8 135 126.2 135 126.6 135.1 127 135.1 127.4 135.1 127.8 135.2 128.2 135.2 128.6 135.2 129 135.2 129.4 135.2 129.8 135.2 130.2 135.2 130.6 135.2 131 135.2" fill="none" stroke="#3777bb" stroke-width="0.8"/>
<path d="M0 137.5 0.4 137.4 0.8 137.3 1.2 137.3 1.6 137.2 2 137.2 2.4 137.1 2.8 137.1 3.2 137.1 3.6 137.2 4 137.3 4.4 137.4 4.8 137.5 5.2 137.6 5.6 137.7 6 137.7 6.4 137.5 6.8 137.4 7.2 137.1 7.6 136.8 8 136.5 8.4 136.1 8.8 135.8 9.2 135.4 9.6 135.1 10 134.8 10.4 134.4 10.8 134 11.1 133.7 11.5 133.4 11.9 133.2 12.3 133.1 12.7 133 13.1 133.1 13.5 133.3 13.9 133.5 14.3 133.7 14.7 133.9 15.1 134.1 15.5 134.2 15.9 134.1 16.3 134 16.7 133.8 17.1 133.6 17.5 133.4 17.9 133.3 18.3 133.3 18.7 133.4 19.1 133.7 19.5 134.2 19.9 134.7 20.3 135.2 20.7 135.8 21.1 136.4 21.5 136.8 21.9 137.2 22.3 137.4 22.7 137.7 23.1 137.8 23.5 138 23.9 138.1 24.3 138.2 24.7 138.3 25.1 138.3 25.5 138.3 25.9 138.3 26.3 138.3 26.7 138.2 27.1 138.1 27.5 138 27.9 138 28.3 137.9 28.7 137.8 29.1 137.7 29.5 137.6 29.9 137.4 30.3 137.2 30.7 136.9 31.1 136.4 31.5 135.9 31.9 135.4 32.3 134.7 32.7 134 33 133 33.4 131.8 33.8 130.4 34.2 128.9 34.6 127.4 35 125.9 35.4 124.8 35.8 124.2 36.2 124.3 36.6 125.3 37 126.7 37.4 128.3 37.8 130.1 38.2 132.3 38.6 134.7 39 137.1 39.4 139.3 39.8 141.7 40.2 144.2 40.6 146.6 41 148.9 41.4 150.8 41.8 152.2 42.2 152.9 42.6 152.8 43 151.5 43.4 149.3 43.8 146.6 44.2 143.6 44.6 140.8 45 138.2 45.4 135.3 45.8 132.3 46.2 129.8 46.6 127.5 47 125.4 47.4 123.6 47.8 122.7 48.2 122.9 48.6 124.1 49 125.9 49.4 127.7 49.8 129.3 50.2 131.1 50.6 132.9 51 134.6 51.4 136.1 51.8 137.3 52.2 138 52.6 138.5 53 138.8 53.4 139 53.8 139.2 54.2 139.3 54.6 139.3 54.9 139.3 55.3 139.2 55.7 139 56.1 138.8 56.5 138.4 56.9 138.1 57.3 137.7 57.7 137.3 58.1 137 58.5 136.8 58.9 136.7 59.3 136.7 59.7 136.7 60.1 136.9 60.5 137.1 60.9 137.3 61.3 137.5 61.7 137.7 62.1 137.8 62.5 137.9 62.9 138 63.3 138 63.7 137.9 64.1 137.9 64.5 137.8 64.9 137.7 65.3 137.6 65.7 137.6 66.1 137.6 66.5 137.6 66.9 137.7 67.3 137.7 67.7 137.7 68.1 137.8 68.5 137.8 68.9 137.8 69.3 137.8 69.7 137.9 70.1 137.9 70.5 137.9 70.9 137.9 71.3 137.9 71.7 137.9 72.1 137.8 72.5 137.7 72.9 137.6 73.3 137.5 73.7 137.4 74.1 137.3 74.5 137.2 74.9 137 75.3 136.9 75.7 136.8 76.1 136.7 76.4 136.6 76.8 136.5 77.2 136.4 77.6 136.3 78 136.3 78.4 136.3 78.8 136.4 79.2 136.5 79.6 136.6 80 136.7 80.4 136.8 80.8 136.9 81.2 137.1 81.6 137.1 82 137.2 82.4 137.2 82.8 137.3 83.2 137.3 83.6 137.4 84 137.5 84.4 137.7 84.8 137.9 85.2 138.1 85.6 138.4 86 138.6 86.4 138.8 86.8 138.9 87.2 139 87.6 139 88 139 88.4 138.8 88.8 138.7 89.2 138.5 89.6 138.3 90 138.1 90.4 137.9 90.8 137.7 91.2 137.5 91.6 137.4 92 137.2 92.4 137.1 92.8 136.9 93.2 136.8 93.6 136.7 94 136.5 94.4 136.4 94.8 136.2 95.2 136.1 95.6 136 96 135.9 96.4 135.8 96.8 135.8 97.2 135.9 97.6 136 98 136.1 98.3 136.3 98.7 136.5 99.1 136.6 99.5 136.7 99.9 136.8 100.3 136.9 100.7 137 101.1 137 101.5 137 101.9 137.1 102.3 137.1 102.7 137.1 103.1 137.2 103.5 137.2 103.9 137.2 104.3 137.2 104.7 137.2 105.1 137.2 105.5 137.3 105.9 137.4 106.3 137.6 106.7 137.9 107.1 138.2 107.5 138.6 107.9 139 108.3 139.3 108.7 139.5 109.1 139.6 109.5 139.4 109.9 139.1 110.3 138.7 110.7 138.2 111.1 137.6 111.5 137.1 111.9 136.7 112.3 136.4 112.7 136.3 113.1 136.3 113.5 136.4 113.9 136.6 114.3 136.7 114.7 136.9 115.1 137 115.5 137 115.9 136.9 116.3 136.7 116.7 136.6 117.1 136.4 117.5 136.2 117.9 136 118.3 135.9 118.7 135.9 119.1 135.8 119.5 135.8 119.9 135.8 120.2 135.9 120.6 135.9 121 136 121.4 136.1 121.8 136.2 122.2 136.3 122.6 136.5 123 136.6 123.4 136.8 123.8 137 124.2 137.1 124.6 137.2 125 137.2 125.4 137.1 125.8 137.1 126.2 136.9 126.6 136.8 127 136.7 127.4 136.6 127.8 136.5 128.2 136.5 128.6 136.6 129 136.6 129.4 136.7 129.8 136.7 130.2 136.8 130.6 136.9 131 136.9" fill="none" stroke="#3777bb" stroke-width="0.8"/>
<path d="M0 138.5 0.4 138.2 0.8 137.9 1.2 137.5 1.6 137.2 2 136.9 2.4 136.6 2.8 136.3 3.2 136 3.6 135.8 4 135.7 4.4 135.5 4.8 135.3 5.2 135.2 5.6 135.1 6 135 6.4 134.8 6.8 134.7 7.2 134.6 7.6 134.6 8 134.5 8.4 134.5 8.8 134.5 9.2 134.6 9.6 134.6 10 134.7 10.4 134.9 10.8 135.1 11.1 135.3 11.5 135.5 11.9 135.6 12.3 135.7 12.7 135.7 13.1 135.6 13.5 135.4 13.9 135.1 14.3 134.9 14.7 134.6 15.1 134.3 15.5 134.1 15.9 133.9 16.3 133.7 16.7 133.5 17.1 133.3 17.5 133.2 17.9 133.1 18.3 133.2 18.7 133.3 19.1 133.6 19.5 134.1 19.9 134.6 20.3 135.2 20.7 135.8 21.1 136.3 21.5 136.8 21.9 137.1 22.3 137.2 22.7 137.3 23.1 137.3 23.5 137.3 23.9 137.2 24.3 137.1 24.7 137.1 25.1 137.1 25.5 137.1 25.9 137.1 26.3 137.1 26.7 137 27.1 137.1 27.5 137.1 27.9 137.1 28.3 137.2 28.7 137.4 29.1 137.6 29.5 137.9 29.9 138.1 30.3 138.1 30.7 138.1 31.1 137.8 31.5 137.3 31.9 136.5 32.3 135.6 32.7 134.4 33 133 33.4 131.4 33.8 129.7 34.2 128 34.6 126.5 35 125.1 35.4 124.2 35.8 123.8 36.2 124.2 36.6 125.3 37 126.8 37.4 128.5 37.8 130.2 38.2 132.4 38.6 134.7 39 136.9 39.4 139.1 39.8 141.3 40.2 143.6 40.6 145.9 41 148 41.4 149.6 41.8 150.7 42.2 151.1 42.6 150.7 43 149.1 43.4 146.6 43.8 143.7 44.2 140.7 44.6 137.8 45 135 45.4 132 45.8 129.1 46.2 126.6 46.6 124.4 47 122.4 47.4 120.9 47.8 120.3 48.2 120.8 48.6 122.3 49 124.3 49.4 126.3 49.8 128.2 50.2 130.2 50.6 132.3 51 134.3 51.4 136 51.8 137.4 52.2 138.3 52.6 139 53 139.4 53.4 139.6 53.8 139.6 54.2 139.6 54.6 139.5 54.9 139.3 55.3 139 55.7 138.6 56.1 138.1 56.5 137.6 56.9 137.1 57.3 136.5 57.7 136 58.1 135.5 58.5 135.2 58.9 135 59.3 135 59.7 135.1 60.1 135.4 60.5 135.7 60.9 136.1 61.3 136.6 61.7 136.9 62.1 137.2 62.5 137.4 62.9 137.5 63.3 137.5 63.7 137.5 64.1 137.4 64.5 137.3 64.9 137.2 65.3 137.1 65.7 137.1 66.1 137.2 66.5 137.3 66.9 137.5 67.3 137.6 67.7 137.8 68.1 137.9 68.5 137.9 68.9 137.9 69.3 137.8 69.7 137.7 70.1 137.6 70.5 137.4 70.9 137.2 71.3 137.1 71.7 137 72.1 137 72.5 137.1 72.9 137.1 73.3 137.2 73.7 137.3 74.1 137.3 74.5 137.3 74.9 137.2 75.3 137 75.7 136.8 76.1 136.5 76.4 136.2 76.8 135.9 77.2 135.6 77.6 135.3 78 135.1 78.4 134.8 78.8 134.6 79.2 134.3 79.6 134.1 80 134 80.4 133.9 80.8 133.9 81.2 134 81.6 134.1 82 134.4 82.4 134.7 82.8 135.1 83.2 135.5 83.6 135.8 84 136.2 84.4 136.5 84.8 136.7 85.2 137 85.6 137.2 86 137.4 86.4 137.6 86.8 137.7 87.2 137.8 87.6 137.8 88 137.8 88.4 137.8 88.8 137.7 89.2 137.5 89.6 137.4 90 137.3 90.4 137.2 90.8 137.1 91.2 137 91.6 136.9 92 136.8 92.4 136.7 92.8 136.6 93.2 136.6 93.6 136.6 94 136.7 94.4 136.9 94.8 137.1 95.2 137.3 95.6 137.5 96 137.6 96.4 137.8 96.8 137.8 97.2 137.7 97.6 137.6 98 137.4 98.3 137.1 98.7 136.9 99.1 136.7 99.5 136.6 99.9 136.6 100.3 136.6 100.7 136.7 101.1 136.9 101.5 137 101.9 137.2 102.3 137.3 102.7 137.4 103.1 137.4 103.5 137.4 103.9 137.4 104.3 137.3 104.7 137.2 105.1 137.1 105.5 137 105.9 136.9 106.3 136.8 106.7 136.6 107.1 136.5 107.5 136.3 107.9 136.1 108.3 136 108.7 135.8 109.1 135.7 109.5 135.7 109.9 135.6 110.3 135.6 110.7 135.7 111.1 135.7 111.5 135.7 111.9 135.7 112.3 135.7 112.7 135.7 113.1 135.7 113.5 135.7 113.9 135.7 114.3 135.7 114.7 135.7 115.1 135.7 115.5 135.7 115.9 135.7 116.3 135.8 116.7 135.9 117.1 136 117.5 136 117.9 136.1 118.3 136.2 118.7 136.2 119.1 136.2 119.5 136.2 119.9 136.1 120.2 136.1 120.6 136 121 135.9 121.4 135.9 121.8 135.8 122.2 135.8 122.6 135.7 123 135.7 123.4 135.6 123.8 135.6 124.2 135.5 124.6 135.5 125 135.4 125.4 135.4 125.8 135.3 126.2 135.3 126.6 135.3 127 135.3 127.4 135.3 127.8 135.2 128.2 135.2 128.6 135.2 129 135.1 129.4 135.1 129.8 135.1 130.2 135 130.6 135 131 135" fill="none" stroke="#3777bb" stroke-width="0.8"/>
<path d="M0 136.2 0.4 136.3 0.8 136.4 1.2 136.4 1.6 136.6 2 136.7 2.4 136.8 2.8 137 3.2 137.2 3.6 137.4 4 137.7 4.4 137.9 4.8 138.2 5.2 138.4 5.6 138.6 6 138.7 6.4 138.7 6.8 138.7 7.2 138.6 7.6 138.5 8 138.3 8.4 138 8.8 137.7 9.2 137.4 9.6 137.1 10 136.7 10.4 136.3 10.8 135.9 11.1 135.5 11.5 135.1 11.9 134.8 12.3 134.6 12.7 134.4 13.1 134.2 13.5 134.2 13.9 134.1 14.3 134.2 14.7 134.2 15.1 134.3 15.5 134.3 15.9 134.4 16.3 134.4 16.7 134.5 17.1 134.6 17.5 134.7 17.9 134.8 18.3 135 18.7 135.2 19.1 135.4 19.5 135.8 19.9 136.1 20.3 136.4 20.7 136.8 21.1 137 21.5 137.2 21.9 137.3 22.3 137.2 22.7 137 23.1 136.7 23.5 136.4 23.9 136.1 24.3 135.9 24.7 135.7 25.1 135.7 25.5 135.8 25.9 136 26.3 136.2 26.7 136.5 27.1 136.7 27.5 137 27.9 137.2 28.3 137.3 28.7 137.5 29.1 137.6 29.5 137.7 29.9 137.7 30.3 137.7 30.7 137.6 31.1 137.4 31.5 137.1 31.9 136.6 32.3 136.1 32.7 135.4 33 134.5 33.4 133.5 33.8 132.2 34.2 130.6 34.6 128.8 35 127.1 35.4 125.6 35.8 124.4 36.2 123.7 36.6 123.8 37 124.9 37.4 126.5 37.8 128.4 38.2 130.2 38.6 132.3 39 134.6 39.4 136.8 39.8 138.8 40.2 140.7 40.6 142.7 41 144.6 41.4 146.4 41.8 147.9 42.2 149 42.6 149.6 43 149.6 43.4 148.6 43.8 146.8 44.2 144.5 44.6 141.8 45 139.1 45.4 136.6 45.8 133.8 46.2 130.6 46.6 127.7 47 125.2 47.4 122.7 47.8 120.7 48.2 119.4 48.6 119.5 49 120.8 49.4 122.9 49.8 125.1 50.2 127 50.6 129 51 130.9 51.4 132.8 51.8 134.6 52.2 136 52.6 137 53 137.7 53.4 138.2 53.8 138.6 54.2 138.9 54.6 139.1 54.9 139.2 55.3 139.3 55.7 139.2 56.1 139 56.5 138.6 56.9 138.2 57.3 137.7 57.7 137.2 58.1 136.7 58.5 136.3 58.9 136.1 59.3 136.1 59.7 136.1 60.1 136.2 60.5 136.5 60.9 136.7 61.3 137 61.7 137.2 62.1 137.4 62.5 137.6 62.9 137.7 63.3 137.7 63.7 137.6 64.1 137.6 64.5 137.5 64.9 137.4 65.3 137.3 65.7 137.2 66.1 137.2 66.5 137.2 66.9 137.1 67.3 137.1 67.7 137.1 68.1 137 68.5 136.9 68.9 136.8 69.3 136.6 69.7 136.4 70.1 136.2 70.5 136.1 70.9 135.9 71.3 135.7 71.7 135.6 72.1 135.5 72.5 135.5 72.9 135.5 73.3 135.5 73.7 135.5 74.1 135.5 74.5 135.5 74.9 135.6 75.3 135.6 75.7 135.6 76.1 135.6 76.4 135.6 76.8 135.6 77.2 135.6 77.6 135.7 78 135.7 78.4 135.8 78.8 135.9 79.2 136.1 79.6 136.2 80 136.3 80.4 136.5 80.8 136.5 81.2 136.6 81.6 136.6 82 136.6 82.4 136.5 82.8 136.5 83.2 136.4 83.6 136.3 84 136.3 84.4 136.3 84.8 136.3 85.2 136.3 85.6 136.4 86 136.4 86.4 136.4 86.8 136.4 87.2 136.3 87.6 136.1 88 135.9 88.4 135.5 88.8 135.2 89.2 134.8 89.6 134.4 90 134.1 90.4 133.8 90.8 133.6 91.2 133.4 91.6 133.4 92 133.3 92.4 133.3 92.8 133.3 93.2 133.3 93.6 133.3 94 133.3 94.4 133.4 94.8 133.5 95.2 133.6 95.6 133.8 96 133.9 96.4 134.1 96.8 134.3 97.2 134.5 97.6 134.6 98 134.7 98.3 134.8 98.7 135 99.1 135.1 99.5 135.3 99.9 135.5 100.3 135.7 100.7 136 101.1 136.2 101.5 136.4 101.9 136.6 102.3 136.8 102.7 136.8 103.1 136.8 103.5 136.8 103.9 136.7 104.3 136.6 104.7 136.4 105.1 136.3 105.5 136.1 105.9 136 106.3 135.8 106.7 135.7 107.1 135.6 107.5 135.5 107.9 135.4 108.3 135.3 108.7 135.3 109.1 135.3 109.5 135.4 109.9 135.5 110.3 135.6 110.7 135.8 111.1 136 111.5 136.1 111.9 136.3 112.3 136.5 112.7 136.7 113.1 136.8 113.5 136.9 113.9 137 114.3 137.1 114.7 137.2 115.1 137.3 115.5 137.4 115.9 137.6 116.3 137.8 116.7 138 117.1 138.2 117.5 138.4 117.9 138.5 118.3 138.5 118.7 138.5 119.1 138.4 119.5 138.3 119.9 138.2 120.2 138 120.6 137.8 121 137.6 121.4 137.4 121.8 137.2 122.2 136.9 122.6 136.6 123 136.2 123.4 135.9 123.8 135.7 124.2 135.5 124.6 135.4 125 135.3 125.4 135.4 125.8 135.5 126.2 135.6 126.6 135.8 127 136 127.4 136.1 127.8 136.3 128.2 136.4 128.6 136.5 129 136.5 129.4 136.6 129.8 136.7 130.2 136.8 130.6 136.8 131 136.9" fill="none" stroke="#3777bb" stroke-width="0.8"/>
<path d="M0 136.8 0.4 136.8 0.8 136.8 1.2 136.8 1.6 136.8 2 136.8 2.4 136.8 2.8 136.9 3.2 136.9 3.6 136.9 4 136.9 4.4 136.9 4.8 136.9 5.2 136.8 5.6 136.8 6 136.8 6.4 136.8 6.8 136.7 7.2 136.7 7.6 136.6 8 136.6 8.4 136.5 8.8 136.4 9.2 136.3 9.6 136.2 10 136.1 10.4 136 10.8 135.9 11.1 135.7 11.5 135.6 11.9 135.4 12.3 135.3 12.7 135.1 13.1 134.9 13.5 134.7 13.9 134.6 14.3 134.4 14.7 134.3 15.1 134.2 15.5 134.1 15.9 134.1 16.3 134.1 16.7 134.2 17.1 134.4 17.5 134.5 17.9 134.7 18.3 135 18.7 135.2 19.1 135.5 19.5 135.8 19.9 136 20.3 136.3 20.7 136.5 21.1 136.8 21.5 137 21.9 137.2 22.3 137.3 22.7 137.4 23.1 137.6 23.5 137.6 23.9 137.7 24.3 137.8 24.7 137.8 25.1 137.8 25.5 137.9 25.9 137.9 26.3 137.9 26.7 137.9 27.1 137.9 27.5 137.9 27.9 137.9 28.3 137.9 28.7 138 29.1 138 29.5 138.1 29.9 138.1 30.3 138 30.7 137.9 31.1 137.6 31.5 137.2 31.9 136.7 32.3 136.1 32.7 135.4 33 134.6 33.4 133.6 33.8 132.4 34.2 131 34.6 129.5 35 128.1 35.4 126.9 35.8 125.9 36.2 125.4 36.6 125.6 37 126.5 37.4 127.8 37.8 129.3 38.2 130.9 38.6 132.8 39 135 39.4 137.1 39.8 139.1 40.2 141.2 40.6 143.6 41 146 41.4 148.4 41.8 150.4 42.2 152 42.6 153 43 153.2 43.4 152.1 43.8 149.9 44.2 147 44.6 143.8 45 140.6 45.4 137.7 45.8 134.5 46.2 131.1 46.6 128.4 47 126.3 47.4 124.3 47.8 122.7 48.2 121.6 48.6 121.2 49 121.8 49.4 123.1 49.8 124.8 50.2 126.6 50.6 128.3 51 130.2 51.4 132.3 51.8 134.2 52.2 135.7 52.6 136.7 53 137.5 53.4 138 53.8 138.4 54.2 138.7 54.6 138.8 54.9 138.8 55.3 138.5 55.7 137.9 56.1 137.1 56.5 136.2 56.9 135.4 57.3 134.7 57.7 133.8 58.1 133 58.5 132.4 58.9 132.1 59.3 132.2 59.7 132.5 60.1 133 60.5 133.6 60.9 134.4 61.3 135.3 61.7 136.4 62.1 137.9 62.5 139.6 62.9 141.4 63.3 143 63.7 144.3 64.1 145.6 64.5 146.8 64.9 148 65.3 148.9 65.7 149.4 66.1 149.4 66.5 148.9 66.9 147.9 67.3 146.6 67.7 145.1 68.1 143.7 68.5 142.4 68.9 141.3 69.3 140 69.7 138.8 70.1 137.8 70.5 137.1 70.9 136.6 71.3 136.3 71.7 136.1 72.1 135.9 72.5 135.8 72.9 135.8 73.3 135.8 73.7 135.8 74.1 135.7 74.5 135.7 74.9 135.7 75.3 135.7 75.7 135.6 76.1 135.6 76.4 135.6 76.8 135.6 77.2 135.6 77.6 135.6 78 135.6 78.4 135.6 78.8 135.6 79.2 135.6 79.6 135.7 80 135.7 80.4 135.8 80.8 135.8 81.2 135.9 81.6 135.9 82 136 82.4 136.1 82.8 136.1 83.2 136.2 83.6 136.2 84 136.3 84.4 136.3 84.8 136.4 85.2 136.4 85.6 136.5 86 136.5 86.4 136.5 86.8 136.6 87.2 136.6 87.6 136.7 88 136.7 88.4 136.8 88.8 136.8 89.2 136.8 89.6 136.8 90 136.9 90.4 136.9 90.8 136.8 91.2 136.8 91.6 136.8 92 136.7 92.4 136.6 92.8 136.5 93.2 136.4 93.6 136.3 94 136.2 94.4 136.1 94.8 135.9 95.2 135.8 95.6 135.7 96 135.6 96.4 135.6 96.8 135.5 97.2 135.5 97.6 135.4 98 135.4 98.3 135.4 98.7 135.4 99.1 135.4 99.5 135.4 99.9 135.4 100.3 135.4 100.7 135.5 101.1 135.5 101.5 135.5 101.9 135.6 102.3 135.6 102.7 135.7 103.1 135.7 103.5 135.8 103.9 135.9 104.3 136 104.7 136.1 105.1 136.2 105.5 136.3 105.9 136.4 106.3 136.5 106.7 136.6 107.1 136.7 107.5 136.8 107.9 136.8 108.3 136.8 108.7 136.9 109.1 136.9 109.5 136.8 109.9 136.8 110.3 136.8 110.7 136.7 111.1 136.7 111.5 136.6 111.9 136.6 112.3 136.5 112.7 136.5 113.1 136.4 113.5 136.4 113.9 136.4 114.3 136.4 114.7 136.4 115.1 136.4 115.5 136.4 115.9 136.4 116.3 136.4 116.7 136.5 117.1 136.5 117.5 136.5 117.9 136.5 118.3 136.5 118.7 136.5 119.1 136.5 119.5 136.5 119.9 136.5 120.2 136.4 120.6 136.4 121 136.3 121.4 136.2 121.8 136.2 122.2 136.1 122.6 136 123 135.9 123.4 135.8 123.8 135.8 124.2 135.7 124.6 135.6 125 135.6 125.4 135.5 125.8 135.5 126.2 135.5 126.6 135.4 127 135.4 127.4 135.4 127.8 135.4 128.2 135.4 128.6 135.4 129 135.4 129.4 135.3 129.8 135.3 130.2 135.3 130.6 135.3 131 135.3" fill="none" stroke="#4a8fd0" stroke-width="0.7"/>
<path d="M0 134.6 0.4 134.6 0.8 134.6 1.2 134.7 1.6 134.7 2 134.8 2.4 134.9 2.8 135 3.2 135.1 3.6 135.4 4 135.6 4.4 135.8 4.8 136.1 5.2 136.3 5.6 136.5 6 136.7 6.4 136.8 6.8 136.9 7.2 137 7.6 137.1 8 137.1 8.4 137.1 8.8 137 9.2 136.7 9.6 136.5 10 136.1 10.4 135.7 10.8 135.3 11.1 134.9 11.5 134.6 11.9 134.2 12.3 133.9 12.7 133.7 13.1 133.5 13.5 133.2 13.9 133 14.3 132.7 14.7 132.5 15.1 132.2 15.5 131.9 15.9 131.7 16.3 131.6 16.7 131.5 17.1 131.6 17.5 131.8 17.9 132.1 18.3 132.6 18.7 133.1 19.1 133.7 19.5 134.3 19.9 134.9 20.3 135.3 20.7 135.7 21.1 136 21.5 136.2 21.9 136.3 22.3 136.4 22.7 136.4 23.1 136.5 23.5 136.6 23.9 136.8 24.3 137 24.7 137.2 25.1 137.4 25.5 137.5 25.9 137.6 26.3 137.6 26.7 137.4 27.1 137.2 27.5 136.9 27.9 136.6 28.3 136.3 28.7 136 29.1 135.8 29.5 135.7 29.9 135.6 30.3 135.5 30.7 135.6 31.1 135.6 31.5 135.7 31.9 135.7 32.3 135.8 32.7 135.8 33 135.9 33.4 135.9 33.8 136 34.2 136.1 34.6 136.1 35 136.2 35.4 136.2 35.8 136.2 36.2 136.1 36.6 136 37 136 37.4 135.9 37.8 136 38.2 136 38.6 136.2 39 136.4 39.4 136.5 39.8 136.7 40.2 136.9 40.6 137 41 137.1 41.4 137.1 41.8 137.2 42.2 137.2 42.6 137.3 43 137.3 43.4 137.3 43.8 137.3 44.2 137.2 44.6 137.1 45 136.9 45.4 136.7 45.8 136.6 46.2 136.5 46.6 136.5 47 136.5 47.4 136.6 47.8 136.7 48.2 136.9 48.6 137 49 137 49.4 137 49.8 136.9 50.2 136.8 50.6 136.6 51 136.4 51.4 136.3 51.8 136.1 52.2 135.9 52.6 135.8 53 135.7 53.4 135.7 53.8 135.6 54.2 135.6 54.6 135.7 54.9 135.8 55.3 135.9 55.7 136.1 56.1 136.4 56.5 136.6 56.9 136.9 57.3 137.1 57.7 137.3 58.1 137.4 58.5 137.5 58.9 137.4 59.3 137.3 59.7 137.1 60.1 136.9 60.5 136.7 60.9 136.6 61.3 136.6 61.7 136.6 62.1 136.7 62.5 136.8 62.9 136.9 63.3 137 63.7 137.1 64.1 137.1 64.5 137.1 64.9 137.1 65.3 137.1 65.7 137.1 66.1 137.1 66.5 136.9 66.9 136.8 67.3 136.5 67.7 136.2 68.1 135.8 68.5 135.4 68.9 135 69.3 134.6 69.7 134.3 70.1 134 70.5 133.8 70.9 133.7 71.3 133.7 71.7 133.6 72.1 133.6 72.5 133.6 72.9 133.6 73.3 133.7 73.7 133.8 74.1 134 74.5 134.2 74.9 134.5 75.3 134.8 75.7 135.1 76.1 135.4 76.4 135.6 76.8 135.8 77.2 136.1 77.6 136.3 78 136.5 78.4 136.7 78.8 136.9 79.2 137 79.6 137.2 80 137.3 80.4 137.3 80.8 137.4 81.2 137.4 81.6 137.4 82 137.5 82.4 137.5 82.8 137.5 83.2 137.4 83.6 137.4 84 137.4 84.4 137.4 84.8 137.5 85.2 137.5 85.6 137.5 86 137.6 86.4 137.6 86.8 137.6 87.2 137.6 87.6 137.5 88 137.4 88.4 137.3 88.8 137.1 89.2 136.9 89.6 136.8 90 136.6 90.4 136.5 90.8 136.4 91.2 136.3 91.6 136.2 92 136 92.4 135.9 92.8 135.6 93.2 135.3 93.6 135 94 134.5 94.4 134.1 94.8 133.6 95.2 133.1 95.6 132.8 96 132.5 96.4 132.3 96.8 132.3 97.2 132.4 97.6 132.6 98 132.8 98.3 133.1 98.7 133.3 99.1 133.5 99.5 133.7 99.9 133.8 100.3 134 100.7 134.1 101.1 134.3 101.5 134.5 101.9 134.8 102.3 135.2 102.7 135.6 103.1 136 103.5 136.4 103.9 136.8 104.3 137.1 104.7 137.3 105.1 137.4 105.5 137.4 105.9 137.4 106.3 137.4 106.7 137.3 107.1 137.2 107.5 137.1 107.9 137.1 108.3 137 108.7 137 109.1 136.9 109.5 136.9 109.9 136.9 110.3 136.9 110.7 136.9 111.1 136.9 111.5 137 111.9 137.1 112.3 137.3 112.7 137.4 113.1 137.5 113.5 137.6 113.9 137.7 114.3 137.8 114.7 137.9 115.1 137.9 115.5 137.9 115.9 138 116.3 138 116.7 138.1 117.1 138.1 117.5 138.1 117.9 138.1 118.3 138.1 118.7 138.1 119.1 138 119.5 137.9 119.9 137.8 120.2 137.7 120.6 137.6 121 137.5 121.4 137.4 121.8 137.3 122.2 137.2 122.6 137 123 136.9 123.4 136.8 123.8 136.7 124.2 136.6 124.6 136.5 125 136.5 125.4 136.4 125.8 136.3 126.2 136.2 126.6 136.1 127 136 127.4 135.9 127.8 135.8 128.2 135.8 128.6 135.7 129 135.7 129.4 135.6 129.8 135.6 130.2 135.5 130.6 135.5 131 135.4" fill="none" stroke="#e0453f" stroke-width="0.8"/>
<path d="M0 136.1 0.4 136.2 0.8 136.4 1.2 136.6 1.6 136.8 2 136.9 2.4 137.1 2.8 137.2 3.2 137.2 3.6 137.1 4 137 4.4 136.8 4.8 136.6 5.2 136.5 5.6 136.4 6 136.5 6.4 136.7 6.8 137 7.2 137.4 7.6 137.8 8 138.1 8.4 138.3 8.8 138.3 9.2 138.2 9.6 137.9 10 137.6 10.4 137.1 10.8 136.7 11.1 136.3 11.5 135.9 11.9 135.6 12.3 135.3 12.7 135.1 13.1 134.9 13.5 134.7 13.9 134.5 14.3 134.3 14.7 134.1 15.1 134 15.5 133.9 15.9 133.8 16.3 133.8 16.7 133.9 17.1 134 17.5 134.1 17.9 134.3 18.3 134.4 18.7 134.5 19.1 134.7 19.5 134.9 19.9 135.1 20.3 135.4 20.7 135.7 21.1 136 21.5 136.3 21.9 136.6 22.3 136.8 22.7 136.9 23.1 137 23.5 137.1 23.9 137.2 24.3 137.2 24.7 137.2 25.1 137.2 25.5 137.1 25.9 137 26.3 136.9 26.7 136.8 27.1 136.6 27.5 136.4 27.9 136.2 28.3 136 28.7 135.8 29.1 135.7 29.5 135.6 29.9 135.6 30.3 135.6 30.7 135.7 31.1 135.8 31.5 135.8 31.9 135.9 32.3 135.9 32.7 135.9 33 135.8 33.4 135.7 33.8 135.7 34.2 135.6 34.6 135.6 35 135.7 35.4 135.7 35.8 135.9 36.2 136 36.6 136.1 37 136.2 37.4 136.2 37.8 136.3 38.2 136.3 38.6 136.3 39 136.3 39.4 136.2 39.8 136.2 40.2 136.3 40.6 136.3 41 136.4 41.4 136.5 41.8 136.7 42.2 136.9 42.6 137.1 43 137.3 43.4 137.6 43.8 137.9 44.2 138.2 44.6 138.6 45 139 45.4 139.4 45.8 139.7 46.2 139.8 46.6 139.8 47 139.6 47.4 139.3 47.8 138.8 48.2 138.2 48.6 137.6 49 137 49.4 136.4 49.8 135.9 50.2 135.5 50.6 135.1 51 134.8 51.4 134.5 51.8 134.2 52.2 134 52.6 133.9 53 133.8 53.4 133.8 53.8 133.8 54.2 133.9 54.6 134.1 54.9 134.3 55.3 134.6 55.7 134.9 56.1 135.2 56.5 135.5 56.9 135.9 57.3 136.2 57.7 136.5 58.1 136.8 58.5 137 58.9 137.1 59.3 137.2 59.7 137.3 60.1 137.3 60.5 137.3 60.9 137.3 61.3 137.2 61.7 137.1 62.1 137 62.5 136.8 62.9 136.6 63.3 136.5 63.7 136.4 64.1 136.3 64.5 136.3 64.9 136.4 65.3 136.5 65.7 136.6 66.1 136.7 66.5 136.6 66.9 136.5 67.3 136.3 67.7 135.9 68.1 135.6 68.5 135.1 68.9 134.7 69.3 134.3 69.7 133.9 70.1 133.6 70.5 133.4 70.9 133.2 71.3 133.1 71.7 133 72.1 132.9 72.5 132.9 72.9 132.8 73.3 132.7 73.7 132.5 74.1 132.4 74.5 132.4 74.9 132.4 75.3 132.5 75.7 132.8 76.1 133.1 76.4 133.5 76.8 134 77.2 134.4 77.6 134.9 78 135.4 78.4 135.8 78.8 136.2 79.2 136.5 79.6 136.9 80 137.2 80.4 137.4 80.8 137.6 81.2 137.7 81.6 137.7 82 137.6 82.4 137.4 82.8 137.1 83.2 136.8 83.6 136.6 84 136.4 84.4 136.3 84.8 136.3 85.2 136.4 85.6 136.5 86 136.7 86.4 136.9 86.8 137.1 87.2 137.2 87.6 137.2 88 137.3 88.4 137.2 88.8 137.2 89.2 137.1 89.6 137.1 90 137 90.4 136.9 90.8 136.8 91.2 136.6 91.6 136.4 92 136.2 92.4 135.9 92.8 135.6 93.2 135.3 93.6 135 94 134.7 94.4 134.4 94.8 134.1 95.2 133.8 95.6 133.5 96 133.2 96.4 133 96.8 132.8 97.2 132.7 97.6 132.6 98 132.5 98.3 132.6 98.7 132.7 99.1 132.9 99.5 133.2 99.9 133.6 100.3 134 100.7 134.5 101.1 134.9 101.5 135.4 101.9 135.9 102.3 136.3 102.7 136.7 103.1 137 103.5 137.3 103.9 137.6 104.3 137.8 104.7 137.9 105.1 138 105.5 138.1 105.9 138.1 106.3 138.1 106.7 138.1 107.1 138.1 107.5 138.1 107.9 138.1 108.3 138.2 108.7 138.3 109.1 138.5 109.5 138.6 109.9 138.7 110.3 138.8 110.7 138.8 111.1 138.7 111.5 138.5 111.9 138.3 112.3 138.1 112.7 137.8 113.1 137.6 113.5 137.4 113.9 137.3 114.3 137.2 114.7 137.1 115.1 137.1 115.5 137 115.9 137 116.3 136.9 116.7 136.9 117.1 136.8 117.5 136.8 117.9 136.8 118.3 136.8 118.7 136.9 119.1 136.9 119.5 136.9 119.9 136.9 120.2 136.9 120.6 136.9 121 136.8 121.4 136.8 121.8 136.8 122.2 136.9 122.6 137 123 137.1 123.4 137.2 123.8 137.3 124.2 137.4 124.6 137.5 125 137.5 125.4 137.4 125.8 137.4 126.2 137.2 126.6 137.1 127 137 127.4 136.8 127.8 136.7 128.2 136.6 128.6 136.5 129 136.5 129.4 136.5 129.8 136.5 130.2 136.5 130.6 136.5 131 136.5" fill="none" stroke="#e0453f" stroke-width="0.8"/>
</g>
<path d="M103.2 62 103.2 75.5 76 75.5" fill="none" stroke="#000" stroke-width="0.7"/>
<text x="107" y="71.6">70 μV</text>
<text x="80" y="85.6">2 ms</text>
<text x="30" y="104.6">Stimulus artifacts</text>
<line x1="26.5" y1="95.5" x2="22.5" y2="91" stroke="#000" stroke-width="0.6"/>
<path d="M20.6 88.8 L24.6 90.6 L22.4 92.7Z" fill="#000"/>
<line x1="8" y1="169.4" x2="20" y2="169.4" stroke="#3777bb" stroke-width="0.8"/>
<text x="24" y="172.6">Success</text>
<line x1="77" y1="169.4" x2="88.5" y2="169.4" stroke="#e0453f" stroke-width="0.8"/>
<text x="92" y="172.6">Failure</text>
<rect x="177.6" y="17.4" width="61.4" height="48.6" fill="none" stroke="#000" stroke-width="0.8"/>
<line x1="198.5" y1="18.9" x2="198.5" y2="66" stroke="#000" stroke-width="1" stroke-dasharray="1 2.4"/>
<line x1="198.1" y1="66" x2="198.1" y2="64.8" stroke="#000" stroke-width="0.5"/>
<line x1="198.1" y1="17.4" x2="198.1" y2="18.6" stroke="#000" stroke-width="0.5"/>
<line x1="218.5" y1="66" x2="218.5" y2="64.8" stroke="#000" stroke-width="0.5"/>
<line x1="218.5" y1="17.4" x2="218.5" y2="18.6" stroke="#000" stroke-width="0.5"/>
<line x1="177.6" y1="59.2" x2="178.8" y2="59.2" stroke="#000" stroke-width="0.5"/>
<line x1="239" y1="59.2" x2="237.8" y2="59.2" stroke="#000" stroke-width="0.5"/>
<text x="175.3" y="62.7" text-anchor="end">2</text>
<line x1="177.6" y1="49.3" x2="178.8" y2="49.3" stroke="#000" stroke-width="0.5"/>
<line x1="239" y1="49.3" x2="237.8" y2="49.3" stroke="#000" stroke-width="0.5"/>
<text x="175.3" y="52.8" text-anchor="end">4</text>
<line x1="177.6" y1="39.4" x2="178.8" y2="39.4" stroke="#000" stroke-width="0.5"/>
<line x1="239" y1="39.4" x2="237.8" y2="39.4" stroke="#000" stroke-width="0.5"/>
<text x="175.3" y="42.9" text-anchor="end">6</text>
<line x1="177.6" y1="29.4" x2="178.8" y2="29.4" stroke="#000" stroke-width="0.5"/>
<line x1="239" y1="29.4" x2="237.8" y2="29.4" stroke="#000" stroke-width="0.5"/>
<text x="175.3" y="32.9" text-anchor="end">8</text>
<line x1="177.6" y1="19.5" x2="178.8" y2="19.5" stroke="#000" stroke-width="0.5"/>
<line x1="239" y1="19.5" x2="237.8" y2="19.5" stroke="#000" stroke-width="0.5"/>
<text x="175.3" y="23" text-anchor="end">10</text>
<circle cx="209.3" cy="24.8" r="0.9" fill="#000"/>
<circle cx="208.5" cy="29.7" r="0.9" fill="#000"/>
<circle cx="208.7" cy="34.7" r="0.9" fill="#000"/>
<circle cx="208.9" cy="39.7" r="0.9" fill="#000"/>
<circle cx="209.5" cy="54.6" r="0.9" fill="#000"/>
<circle cx="208.7" cy="59.5" r="0.9" fill="#000"/>
<circle cx="208.9" cy="64.5" r="0.9" fill="#000"/>
<text x="177.8" y="77.7" text-anchor="middle">−5</text>
<text x="198.7" y="77.7" text-anchor="middle">0</text>
<text x="219.1" y="77.7" text-anchor="middle">5</text>
<text x="239.6" y="77.7" text-anchor="middle">10</text>
<text x="208" y="90" text-anchor="middle">Time (ms)</text>
<text transform="translate(157.8 41) rotate(-90)" text-anchor="middle">Trial</text>
<line x1="177.2" y1="113" x2="177.2" y2="156.6" stroke="#222" stroke-width="0.8"/>
<line x1="177.2" y1="156.6" x2="239" y2="156.6" stroke="#222" stroke-width="0.8"/>
<rect x="187.2" y="149.3" width="9.4" height="7.3" fill="#999" stroke="#222" stroke-width="0.6"/>
<rect x="196.6" y="149.3" width="9.4" height="7.3" fill="#999" stroke="#222" stroke-width="0.6"/>
<rect x="206.1" y="147.8" width="9.4" height="8.8" fill="#999" stroke="#222" stroke-width="0.6"/>
<rect x="215.5" y="147.8" width="9.4" height="8.8" fill="#999" stroke="#222" stroke-width="0.6"/>
<rect x="225" y="121.6" width="9.4" height="35" fill="#999" stroke="#222" stroke-width="0.6"/>
<text x="174.6" y="160.1" text-anchor="end">0</text>
<text x="174.6" y="145.5" text-anchor="end">10</text>
<line x1="177.2" y1="142" x2="178.4" y2="142" stroke="#333" stroke-width="0.5"/>
<text x="174.6" y="130.9" text-anchor="end">20</text>
<line x1="177.2" y1="127.4" x2="178.4" y2="127.4" stroke="#333" stroke-width="0.5"/>
<text x="174.6" y="116.3" text-anchor="end">30</text>
<line x1="177.2" y1="112.8" x2="178.4" y2="112.8" stroke="#333" stroke-width="0.5"/>
<text x="189.3" y="168.7" text-anchor="middle">50</text>
<text x="234.6" y="168.7" text-anchor="middle">100</text>
<text x="183" y="112.4">46 neurons</text>
<text transform="translate(157.8 133.5) rotate(-90)" text-anchor="middle">Count</text>
<text x="208.5" y="181" text-anchor="middle">Resp. rate (%)</text>
<rect x="269.4" y="32" width="143" height="142.2" fill="#000"/>
<text x="279.6" y="26" style="font-size:9.8px">Electrode activity (unsorted)</text>
<text x="417.4" y="26" style="font-size:9.8px">Spikes</text>
<defs><filter id="bl" x="-5%" y="-5%" width="110%" height="110%"><feGaussianBlur stdDeviation="0.45"/></filter></defs>
<text x="355.4" y="99.4" style="fill:#e02020;stroke:none;font-size:8.2px">Stim. elec.</text>
<g filter="url(#bl)">
<path d="M354.3 54.5h1.7v1.7h-1.7zM351 56.1h1.3v1.3h-1.3zM321.4 58h1.7v1.7h-1.7zM323.1 57.6h1.3v1.3h-1.3zM357.3 57.9h2.2v2.2h-2.2zM325.9 59.6h1.3v1.3h-1.3zM327.8 59.4h1.7v1.7h-1.7zM335.6 59.3h2.2v2.2h-2.2zM355.6 59.1h1.3v1.3h-1.3zM316.7 61.2h1.7v1.7h-1.7zM322.8 61h1.7v1.7h-1.7zM338.4 60.8h2.2v2.2h-2.2zM355.4 60.8h1.7v1.7h-1.7zM358.8 61.1h1.3v1.3h-1.3zM363.3 60.9h1.7v1.7h-1.7zM327.5 62.3h1.7v1.7h-1.7zM332.6 62.4h1.3v1.3h-1.3zM337.3 62.7h1.3v1.3h-1.3zM348.1 62.7h1.3v1.3h-1.3zM319.9 64h1.3v1.3h-1.3zM335.6 63.9h1.3v1.3h-1.3zM332.6 65.5h1.3v1.3h-1.3zM335.5 65.5h1.7v1.7h-1.7zM346.2 65.5h1.7v1.7h-1.7zM313.5 67h1.7v1.7h-1.7zM315.3 67.1h1.7v1.7h-1.7zM321.5 67.3h1.7v1.7h-1.7zM330.9 66.9h1.3v1.3h-1.3zM334 67.1h1.3v1.3h-1.3zM349.5 67.4h1.7v1.7h-1.7zM351.3 67.3h1.3v1.3h-1.3zM359 67h1.3v1.3h-1.3zM363.3 67.1h1.7v1.7h-1.7zM364.8 66.9h1.3v1.3h-1.3zM306 68.6h1.3v1.3h-1.3zM324.7 68.8h1.7v1.7h-1.7zM338.5 68.4h1.3v1.3h-1.3zM347.6 68.9h1.3v1.3h-1.3zM355.4 68.7h2.2v2.2h-2.2zM307.3 70.3h2.2v2.2h-2.2zM316.7 70.2h1.7v1.7h-1.7zM327.7 70.1h1.7v1.7h-1.7zM335.2 70.4h1.3v1.3h-1.3zM361.8 69.9h1.7v1.7h-1.7zM312.2 72h1.7v1.7h-1.7zM321.6 71.7h1.7v1.7h-1.7zM323.2 71.9h1.3v1.3h-1.3zM335.7 71.6h1.7v1.7h-1.7zM347.8 71.5h2.2v2.2h-2.2zM350.8 71.9h1.3v1.3h-1.3zM353.9 72h1.3v1.3h-1.3zM366.6 71.7h1.7v1.7h-1.7zM310.8 73.5h1.3v1.3h-1.3zM321.3 73.2h1.3v1.3h-1.3zM322.9 73.2h1.7v1.7h-1.7zM326.1 73.6h1.7v1.7h-1.7zM329.3 73.3h2.2v2.2h-2.2zM346.1 73.2h1.7v1.7h-1.7zM363.3 73.3h1.7v1.7h-1.7zM371 73.4h1.3v1.3h-1.3zM313.9 74.8h1.7v1.7h-1.7zM331 74.9h1.3v1.3h-1.3zM332.1 74.6h1.3v1.3h-1.3zM350.9 75h1.7v1.7h-1.7zM360.1 74.7h1.3v1.3h-1.3zM366.3 74.7h1.3v1.3h-1.3zM368.1 74.7h1.3v1.3h-1.3zM374.3 74.6h1.3v1.3h-1.3zM329.3 76.6h1.3v1.3h-1.3zM332.4 76.4h1.7v1.7h-1.7zM335.4 76.6h1.3v1.3h-1.3zM349.5 76.4h1.7v1.7h-1.7zM352.4 76.4h1.3v1.3h-1.3zM365.1 76.6h1.7v1.7h-1.7zM372.7 76.5h2.2v2.2h-2.2zM305.8 77.8h1.7v1.7h-1.7zM307.8 77.7h2.2v2.2h-2.2zM309 77.7h1.3v1.3h-1.3zM312.2 77.9h1.3v1.3h-1.3zM316.9 78.2h1.7v1.7h-1.7zM321.7 78.2h1.7v1.7h-1.7zM355.8 77.9h1.3v1.3h-1.3zM374.1 77.7h1.3v1.3h-1.3zM375.8 77.8h1.7v1.7h-1.7zM382.1 77.8h1.3v1.3h-1.3zM296.9 79.4h1.7v1.7h-1.7zM300 79.3h1.3v1.3h-1.3zM303 79.4h1.7v1.7h-1.7zM310.6 79.2h1.7v1.7h-1.7zM313.7 79.3h2.2v2.2h-2.2zM315.5 79.3h1.7v1.7h-1.7zM320.3 79.4h1.7v1.7h-1.7zM324.4 79.4h1.7v1.7h-1.7zM326.4 79.3h1.3v1.3h-1.3zM341.6 79.6h1.3v1.3h-1.3zM346.4 79.7h1.3v1.3h-1.3zM365.2 79.6h1.3v1.3h-1.3zM366.4 79.3h1.3v1.3h-1.3zM369.8 79.3h2.2v2.2h-2.2zM379.1 79.6h1.3v1.3h-1.3zM304.4 81.1h1.3v1.3h-1.3zM311 81h1.3v1.3h-1.3zM315.5 80.9h2.2v2.2h-2.2zM318.6 81h1.3v1.3h-1.3zM320.3 81.2h1.3v1.3h-1.3zM321.5 80.9h1.7v1.7h-1.7zM345 81.1h1.7v1.7h-1.7zM352.3 81.2h2.2v2.2h-2.2zM357.4 80.8h2.2v2.2h-2.2zM368.3 81.2h1.7v1.7h-1.7zM373 80.9h1.3v1.3h-1.3zM383.7 81.3h1.7v1.7h-1.7zM293.8 82.9h1.3v1.3h-1.3zM295 82.4h1.7v1.7h-1.7zM299.8 82.4h1.3v1.3h-1.3zM306.2 82.3h1.7v1.7h-1.7zM312.2 82.6h1.7v1.7h-1.7zM313.7 82.8h1.3v1.3h-1.3zM326.3 82.4h1.3v1.3h-1.3zM331 82.3h1.3v1.3h-1.3zM334.2 82.7h1.3v1.3h-1.3zM341.8 82.7h1.7v1.7h-1.7zM360.6 82.8h1.3v1.3h-1.3zM371.2 82.9h2.2v2.2h-2.2zM373 82.6h1.3v1.3h-1.3zM301.7 84.1h1.3v1.3h-1.3zM327.6 83.9h1.3v1.3h-1.3zM337 83.9h1.7v1.7h-1.7zM344.8 84h2.2v2.2h-2.2zM357 84.2h1.7v1.7h-1.7zM358.9 84.3h1.7v1.7h-1.7zM382.3 83.9h1.7v1.7h-1.7zM296.7 85.8h2.2v2.2h-2.2zM298.4 85.8h1.3v1.3h-1.3zM303.1 85.9h1.3v1.3h-1.3zM310.5 85.6h1.7v1.7h-1.7zM316.8 85.8h1.3v1.3h-1.3zM326.4 85.4h1.7v1.7h-1.7zM346.3 85.6h1.7v1.7h-1.7zM355.5 85.8h1.3v1.3h-1.3zM358.7 85.9h2.2v2.2h-2.2zM364.9 85.8h1.3v1.3h-1.3zM374.3 85.8h1.7v1.7h-1.7zM382.2 85.8h1.3v1.3h-1.3zM383.3 85.8h1.7v1.7h-1.7zM293.7 87.4h1.7v1.7h-1.7zM295 87.1h1.7v1.7h-1.7zM298.6 87.1h1.7v1.7h-1.7zM307.6 87.5h1.3v1.3h-1.3zM312 87.2h1.3v1.3h-1.3zM315.1 87.2h2.2v2.2h-2.2zM319.9 87.1h1.3v1.3h-1.3zM321.8 87.4h2.2v2.2h-2.2zM338.6 87.2h1.3v1.3h-1.3zM349.2 87.5h1.3v1.3h-1.3zM357.5 87.1h1.7v1.7h-1.7zM361.7 87.1h1.3v1.3h-1.3zM372.5 87.1h1.7v1.7h-1.7zM383.8 87.1h1.7v1.7h-1.7zM384.8 87.5h1.3v1.3h-1.3zM386.4 87.4h1.7v1.7h-1.7zM296.6 88.5h1.7v1.7h-1.7zM329.2 89h1.7v1.7h-1.7zM333.8 88.8h1.3v1.3h-1.3zM341.9 88.9h1.3v1.3h-1.3zM343 89h1.3v1.3h-1.3zM346.2 88.9h2.2v2.2h-2.2zM348.2 88.7h2.2v2.2h-2.2zM351.2 88.9h2.2v2.2h-2.2zM352.6 88.7h1.7v1.7h-1.7zM366.6 89.1h1.3v1.3h-1.3zM368.2 88.9h1.7v1.7h-1.7zM369.6 88.9h1.7v1.7h-1.7zM372.6 88.6h2.2v2.2h-2.2zM388.2 88.8h1.3v1.3h-1.3zM298.4 90.5h1.7v1.7h-1.7zM309 90.1h1.3v1.3h-1.3zM310.9 90.1h1.3v1.3h-1.3zM312.4 90.3h1.7v1.7h-1.7zM315.4 90.2h1.3v1.3h-1.3zM349.5 90.3h1.3v1.3h-1.3zM357.3 90.1h1.3v1.3h-1.3zM368.3 90.1h1.3v1.3h-1.3zM373 90.3h1.3v1.3h-1.3zM375.6 90.2h1.3v1.3h-1.3zM386.6 90.4h2.2v2.2h-2.2zM302.7 91.6h1.7v1.7h-1.7zM306.2 91.8h1.7v1.7h-1.7zM327.8 91.9h1.7v1.7h-1.7zM330.8 91.8h2.2v2.2h-2.2zM337 91.6h1.7v1.7h-1.7zM343.3 91.8h1.3v1.3h-1.3zM350.8 92.2h1.3v1.3h-1.3zM359 91.7h1.3v1.3h-1.3zM361.6 91.7h1.3v1.3h-1.3zM371.1 91.8h1.3v1.3h-1.3zM380.2 91.9h2.2v2.2h-2.2zM385.2 91.7h1.7v1.7h-1.7zM293.8 93.2h2.2v2.2h-2.2zM299.6 93.4h1.7v1.7h-1.7zM304.4 93.2h1.3v1.3h-1.3zM311 93.2h1.7v1.7h-1.7zM313.6 93.2h1.7v1.7h-1.7zM315.6 93.6h1.7v1.7h-1.7zM320.2 93.7h2.2v2.2h-2.2zM324.8 93.2h2.2v2.2h-2.2zM329.6 93.3h1.3v1.3h-1.3zM343.5 93.6h1.7v1.7h-1.7zM347.6 93.6h1.3v1.3h-1.3zM298.3 95.3h1.3v1.3h-1.3zM302.8 95.2h1.7v1.7h-1.7zM307.6 95.3h1.3v1.3h-1.3zM310.4 95.2h1.3v1.3h-1.3zM315.3 95.2h1.7v1.7h-1.7zM318.2 95.3h1.3v1.3h-1.3zM324.7 95.1h1.3v1.3h-1.3zM326.4 95.1h1.7v1.7h-1.7zM330.9 94.9h1.3v1.3h-1.3zM335.5 94.7h1.7v1.7h-1.7zM340.3 95.2h1.3v1.3h-1.3zM349.6 95h1.7v1.7h-1.7zM351.3 95.2h2.2v2.2h-2.2zM366.2 95.2h1.7v1.7h-1.7zM374 95.2h1.3v1.3h-1.3zM376 95.2h2.2v2.2h-2.2zM299.6 96.7h1.7v1.7h-1.7zM310.8 96.4h1.3v1.3h-1.3zM324.7 96.7h1.3v1.3h-1.3zM337.2 96.3h1.7v1.7h-1.7zM341.5 96.4h1.3v1.3h-1.3zM349.5 96.8h1.3v1.3h-1.3zM350.9 96.8h1.7v1.7h-1.7zM352.8 96.8h1.3v1.3h-1.3zM367.8 96.3h1.7v1.7h-1.7zM369.5 96.8h1.7v1.7h-1.7zM380.4 96.3h1.3v1.3h-1.3zM389.8 96.5h1.3v1.3h-1.3zM307.8 98.3h1.3v1.3h-1.3zM309.1 98.1h1.7v1.7h-1.7zM312 97.9h1.7v1.7h-1.7zM314 98.1h2.2v2.2h-2.2zM319.7 98.1h1.3v1.3h-1.3zM321.5 98h1.3v1.3h-1.3zM324.9 97.9h1.7v1.7h-1.7zM349.3 98.2h1.3v1.3h-1.3zM352.5 98.4h2.2v2.2h-2.2zM354 97.9h2.2v2.2h-2.2zM374.5 98.3h2.2v2.2h-2.2zM292.2 99.6h1.7v1.7h-1.7zM293.4 99.9h1.7v1.7h-1.7zM318.4 99.7h1.3v1.3h-1.3zM320 99.8h1.7v1.7h-1.7zM324.6 99.4h1.3v1.3h-1.3zM341.9 99.6h1.7v1.7h-1.7zM343.4 99.9h1.7v1.7h-1.7zM347.9 99.9h1.3v1.3h-1.3zM351 99.8h1.3v1.3h-1.3zM352.7 99.9h2.2v2.2h-2.2zM357.4 99.9h1.7v1.7h-1.7zM369.3 99.7h2.2v2.2h-2.2zM380.5 99.7h1.3v1.3h-1.3zM382.3 99.6h1.3v1.3h-1.3zM306.2 101.4h1.3v1.3h-1.3zM332.7 101.5h1.3v1.3h-1.3zM337.3 101.2h1.3v1.3h-1.3zM343.3 101.1h1.7v1.7h-1.7zM358.9 101.2h1.3v1.3h-1.3zM362 101.4h2.2v2.2h-2.2zM377.6 101h1.3v1.3h-1.3zM381.8 101h1.7v1.7h-1.7zM383.6 101.2h1.7v1.7h-1.7zM312.5 103h2.2v2.2h-2.2zM315.1 102.7h1.3v1.3h-1.3zM337.1 103h1.3v1.3h-1.3zM338.4 102.5h1.3v1.3h-1.3zM339.9 102.9h1.3v1.3h-1.3zM372.8 102.9h1.3v1.3h-1.3zM376 103h1.3v1.3h-1.3zM385.1 102.5h1.3v1.3h-1.3zM386.9 103h1.3v1.3h-1.3zM390 102.9h1.7v1.7h-1.7zM317 104.4h1.3v1.3h-1.3zM326.3 104.4h1.3v1.3h-1.3zM332.5 104.1h1.3v1.3h-1.3zM343.2 104h1.7v1.7h-1.7zM346.6 104.6h1.3v1.3h-1.3zM358.9 104.5h1.3v1.3h-1.3zM361.7 104.5h1.3v1.3h-1.3zM305.9 106.1h1.7v1.7h-1.7zM317 105.8h1.7v1.7h-1.7zM335.6 105.8h1.3v1.3h-1.3zM338.6 105.6h2.2v2.2h-2.2zM358.5 106.1h1.3v1.3h-1.3zM368.1 105.7h1.3v1.3h-1.3zM372.9 105.9h1.7v1.7h-1.7zM377.1 105.9h1.7v1.7h-1.7zM378.6 106.1h1.3v1.3h-1.3zM381.8 105.8h1.3v1.3h-1.3zM393 106h1.3v1.3h-1.3zM303 107.2h2.2v2.2h-2.2zM304.6 107.1h1.7v1.7h-1.7zM309 107.3h1.7v1.7h-1.7zM312.3 107.5h1.7v1.7h-1.7zM318.2 107.6h1.3v1.3h-1.3zM321.7 107.3h1.3v1.3h-1.3zM324.6 107.4h2.2v2.2h-2.2zM333.7 107.7h1.7v1.7h-1.7zM338.8 107.1h2.2v2.2h-2.2zM343 107.2h1.3v1.3h-1.3zM345.1 107.2h1.3v1.3h-1.3zM352.4 107.6h1.7v1.7h-1.7zM363.5 107.2h2.2v2.2h-2.2zM385 107.4h2.2v2.2h-2.2zM386.8 107.2h1.3v1.3h-1.3zM290.5 109h1.7v1.7h-1.7zM293.6 108.9h1.3v1.3h-1.3zM297 109.1h1.7v1.7h-1.7zM309.3 108.8h1.3v1.3h-1.3zM315.6 109h1.3v1.3h-1.3zM320.2 108.9h1.7v1.7h-1.7zM321.4 109.1h1.7v1.7h-1.7zM329.2 109.2h1.3v1.3h-1.3zM346.2 109.1h1.3v1.3h-1.3zM348 108.8h1.7v1.7h-1.7zM357.3 108.9h2.2v2.2h-2.2zM368 108.9h1.7v1.7h-1.7zM383.6 108.7h1.3v1.3h-1.3zM388.4 108.8h1.3v1.3h-1.3zM307.5 110.2h1.7v1.7h-1.7zM313.5 110.3h1.3v1.3h-1.3zM319.8 110.4h2.2v2.2h-2.2zM324.5 110.7h1.3v1.3h-1.3zM329.6 110.7h1.7v1.7h-1.7zM332.2 110.6h1.3v1.3h-1.3zM336.9 110.5h1.7v1.7h-1.7zM345.1 110.5h1.7v1.7h-1.7zM363.7 110.2h1.3v1.3h-1.3zM371.2 110.7h1.3v1.3h-1.3zM383.4 110.5h1.3v1.3h-1.3zM394.2 110.2h1.3v1.3h-1.3zM288.9 112.1h1.7v1.7h-1.7zM296.7 112.3h1.3v1.3h-1.3zM304.8 112.3h1.3v1.3h-1.3zM326.1 112.3h1.3v1.3h-1.3zM327.5 111.8h1.3v1.3h-1.3zM330.8 111.8h1.7v1.7h-1.7zM333.8 112.1h1.3v1.3h-1.3zM348.2 111.9h1.3v1.3h-1.3zM354.3 112.2h1.3v1.3h-1.3zM364.8 111.8h1.3v1.3h-1.3zM369.7 112.3h1.3v1.3h-1.3zM371.3 112.1h1.7v1.7h-1.7zM377.6 112.1h1.7v1.7h-1.7zM380.3 112h1.7v1.7h-1.7zM317.2 113.4h1.7v1.7h-1.7zM326.3 113.6h1.3v1.3h-1.3zM338.7 113.7h2.2v2.2h-2.2zM340 113.6h1.3v1.3h-1.3zM349.7 113.8h1.3v1.3h-1.3zM363.6 113.9h2.2v2.2h-2.2zM365.2 113.7h1.3v1.3h-1.3zM369.5 113.5h1.3v1.3h-1.3zM383.4 113.7h1.3v1.3h-1.3zM295.2 115h1.3v1.3h-1.3zM301.7 115.2h1.7v1.7h-1.7zM315.3 115.2h2.2v2.2h-2.2zM324.6 114.9h1.3v1.3h-1.3zM331.1 115.4h1.3v1.3h-1.3zM351 115.4h1.3v1.3h-1.3zM360 115.1h1.3v1.3h-1.3zM368.3 115.2h1.7v1.7h-1.7zM377.6 115.3h2.2v2.2h-2.2zM391.5 114.9h1.7v1.7h-1.7zM289.1 116.8h1.7v1.7h-1.7zM306.2 116.7h2.2v2.2h-2.2zM319.9 116.6h2.2v2.2h-2.2zM327.9 117h1.7v1.7h-1.7zM329.3 116.5h1.3v1.3h-1.3zM330.6 116.8h1.3v1.3h-1.3zM338.5 116.6h1.7v1.7h-1.7zM345 116.8h1.3v1.3h-1.3zM350.8 116.5h1.7v1.7h-1.7zM357.4 116.8h1.7v1.7h-1.7zM366.3 116.4h1.7v1.7h-1.7zM369.3 116.6h1.7v1.7h-1.7zM377.3 116.9h1.7v1.7h-1.7zM385.3 116.6h1.7v1.7h-1.7zM293.9 118.3h1.3v1.3h-1.3zM298.5 118h1.7v1.7h-1.7zM301.3 118h1.3v1.3h-1.3zM303.1 118.5h1.7v1.7h-1.7zM320.1 118.2h1.7v1.7h-1.7zM339.9 118.1h1.7v1.7h-1.7zM349.3 118h1.3v1.3h-1.3zM350.8 118.3h1.3v1.3h-1.3zM369.3 118.2h1.7v1.7h-1.7zM371.4 118h2.2v2.2h-2.2zM377.1 118.2h2.2v2.2h-2.2zM383.5 118.4h1.3v1.3h-1.3zM295.1 119.9h1.7v1.7h-1.7zM313.5 119.6h2.2v2.2h-2.2zM319.8 119.9h1.3v1.3h-1.3zM321.8 119.7h1.7v1.7h-1.7zM340.2 120h1.7v1.7h-1.7zM341.5 119.8h1.7v1.7h-1.7zM347.8 119.6h2.2v2.2h-2.2zM369.6 119.7h1.3v1.3h-1.3zM388.3 119.7h1.3v1.3h-1.3zM298.2 121.5h2.2v2.2h-2.2zM306 121.5h1.7v1.7h-1.7zM307.4 121.3h1.3v1.3h-1.3zM352.7 121.3h1.3v1.3h-1.3zM354.3 121.1h1.7v1.7h-1.7zM366.5 121.6h2.2v2.2h-2.2zM369.8 121.3h1.7v1.7h-1.7zM374.5 121.2h1.3v1.3h-1.3zM385.3 121.5h1.3v1.3h-1.3zM296.5 123h1.7v1.7h-1.7zM304.3 122.8h1.7v1.7h-1.7zM324.8 123.1h2.2v2.2h-2.2zM326.5 123h1.7v1.7h-1.7zM341.5 122.8h2.2v2.2h-2.2zM343.4 123.1h1.3v1.3h-1.3zM348 122.8h1.7v1.7h-1.7zM351.2 122.9h1.3v1.3h-1.3zM355.9 123h1.3v1.3h-1.3zM363.6 123.2h2.2v2.2h-2.2zM374.1 123h1.3v1.3h-1.3zM375.7 122.9h1.7v1.7h-1.7zM383.4 123h1.3v1.3h-1.3zM307.3 124.5h1.3v1.3h-1.3zM319.8 124.3h1.7v1.7h-1.7zM323.3 124.5h1.3v1.3h-1.3zM350.8 124.5h1.7v1.7h-1.7zM352.6 124.4h1.3v1.3h-1.3zM357.4 124.7h1.7v1.7h-1.7zM365 124.2h1.7v1.7h-1.7zM369.9 124.2h1.7v1.7h-1.7zM380.5 124.4h1.7v1.7h-1.7zM381.9 124.3h2.2v2.2h-2.2zM293.4 126h2.2v2.2h-2.2zM309.3 126.2h1.3v1.3h-1.3zM318.2 125.8h2.2v2.2h-2.2zM320.2 125.8h1.3v1.3h-1.3zM323.3 126.1h1.7v1.7h-1.7zM344.9 125.9h1.7v1.7h-1.7zM346.3 125.9h1.3v1.3h-1.3zM348 126h1.7v1.7h-1.7zM358.5 125.7h1.3v1.3h-1.3zM375.9 125.7h1.7v1.7h-1.7zM377.3 126.3h1.3v1.3h-1.3zM298.1 127.4h1.3v1.3h-1.3zM301.5 127.4h1.3v1.3h-1.3zM345 127.6h1.7v1.7h-1.7zM366.6 127.3h2.2v2.2h-2.2zM301.3 129.1h1.3v1.3h-1.3zM308.9 129.2h1.3v1.3h-1.3zM310.8 129h1.3v1.3h-1.3zM313.7 129h2.2v2.2h-2.2zM315.4 129.1h1.3v1.3h-1.3zM321.5 129.2h1.7v1.7h-1.7zM329.1 128.8h2.2v2.2h-2.2zM361.8 129h1.3v1.3h-1.3zM372.7 129.4h1.3v1.3h-1.3zM380.5 128.9h1.7v1.7h-1.7zM347.7 130.6h1.3v1.3h-1.3zM358.6 130.5h1.3v1.3h-1.3zM374.1 130.4h1.3v1.3h-1.3zM295.4 132.1h1.3v1.3h-1.3zM301.2 132.3h1.7v1.7h-1.7zM321.6 132h2.2v2.2h-2.2zM328 132.4h1.7v1.7h-1.7zM340 132.4h1.7v1.7h-1.7zM344.9 132.4h1.3v1.3h-1.3zM350.8 132.2h1.3v1.3h-1.3zM364.8 132h1.7v1.7h-1.7zM374.3 132.3h1.7v1.7h-1.7zM379.1 132.4h1.3v1.3h-1.3zM381.8 132.4h1.7v1.7h-1.7zM304.3 133.8h1.3v1.3h-1.3zM313.6 133.6h1.7v1.7h-1.7zM315.1 133.5h1.7v1.7h-1.7zM317 134h1.7v1.7h-1.7zM320.3 133.5h1.3v1.3h-1.3zM342 134h1.7v1.7h-1.7zM347.9 133.5h2.2v2.2h-2.2zM357.1 133.8h2.2v2.2h-2.2zM369.7 133.7h1.3v1.3h-1.3zM371.2 133.8h1.7v1.7h-1.7zM302.7 135.3h1.3v1.3h-1.3zM318.4 135.6h2.2v2.2h-2.2zM340.4 135.3h1.3v1.3h-1.3zM344.8 135.2h1.7v1.7h-1.7zM347.9 135.3h2.2v2.2h-2.2zM349.7 135h1.7v1.7h-1.7zM360.5 135.2h1.3v1.3h-1.3zM367.9 135.4h1.7v1.7h-1.7zM375.7 135.6h1.3v1.3h-1.3zM306.1 136.9h2.2v2.2h-2.2zM318.6 137h1.3v1.3h-1.3zM379.1 136.7h1.3v1.3h-1.3zM309.1 138.5h1.7v1.7h-1.7zM310.7 138.3h1.7v1.7h-1.7zM312.3 138.5h1.3v1.3h-1.3zM315.6 138.4h2.2v2.2h-2.2zM323.3 138.1h1.3v1.3h-1.3zM341.6 138.4h1.7v1.7h-1.7zM354 138.2h1.7v1.7h-1.7zM312.1 140h1.7v1.7h-1.7zM323 140.1h1.3v1.3h-1.3zM360.4 140h1.3v1.3h-1.3zM374.3 140.2h1.7v1.7h-1.7zM306 141.7h1.3v1.3h-1.3zM316.9 141.7h1.3v1.3h-1.3zM321.8 141.3h1.3v1.3h-1.3zM309.3 143.3h1.3v1.3h-1.3zM350.7 142.8h2.2v2.2h-2.2zM360.4 143.3h1.3v1.3h-1.3zM363.4 142.9h1.3v1.3h-1.3zM366.2 143.2h1.7v1.7h-1.7zM309.2 144.4h1.3v1.3h-1.3zM315.3 144.5h1.3v1.3h-1.3zM340.2 144.3h1.7v1.7h-1.7zM357.5 144.7h2.2v2.2h-2.2zM363.1 144.5h1.7v1.7h-1.7zM307.9 146.4h1.7v1.7h-1.7zM310.6 146.2h1.3v1.3h-1.3zM315.2 145.9h1.7v1.7h-1.7zM346.4 146.3h1.7v1.7h-1.7zM349.3 146.1h1.7v1.7h-1.7zM353.8 146.1h1.7v1.7h-1.7zM356.9 146.1h1.7v1.7h-1.7zM312.4 147.8h1.3v1.3h-1.3zM316.7 147.7h1.7v1.7h-1.7zM339.9 147.5h1.7v1.7h-1.7zM341.9 147.5h1.3v1.3h-1.3zM350.7 147.5h2.2v2.2h-2.2zM343.2 149.1h1.3v1.3h-1.3zM346.4 149.2h1.3v1.3h-1.3zM354.1 149.4h1.7v1.7h-1.7zM349.5 151h2.2v2.2h-2.2zM351.3 150.8h1.3v1.3h-1.3zM343.4 152.2h1.7v1.7h-1.7zM344.7 152.4h1.7v1.7h-1.7z" fill="#4058b4"/>
<path d="M338.8 54.6h1.7v1.7h-1.7zM349.6 56.1h1.3v1.3h-1.3zM355.5 56.2h1.7v1.7h-1.7zM327.9 57.8h1.7v1.7h-1.7zM332.2 57.6h1.3v1.3h-1.3zM321.5 59.1h1.3v1.3h-1.3zM352.3 59.2h1.7v1.7h-1.7zM359 59.3h1.3v1.3h-1.3zM324.6 61.2h1.7v1.7h-1.7zM328 61.1h1.3v1.3h-1.3zM335.6 61h1.3v1.3h-1.3zM316.8 62.2h1.3v1.3h-1.3zM318.4 62.3h1.7v1.7h-1.7zM330.6 62.7h2.2v2.2h-2.2zM349.6 62.6h1.7v1.7h-1.7zM352.3 62.7h2.2v2.2h-2.2zM314 64.2h1.3v1.3h-1.3zM326 63.8h1.3v1.3h-1.3zM329.1 64.2h1.3v1.3h-1.3zM332.1 63.7h1.7v1.7h-1.7zM338.5 64.3h1.7v1.7h-1.7zM354.2 63.9h1.3v1.3h-1.3zM357.3 64.1h2.2v2.2h-2.2zM360.5 64h1.7v1.7h-1.7zM361.8 64.2h1.3v1.3h-1.3zM312.1 65.8h1.7v1.7h-1.7zM318.5 65.6h2.2v2.2h-2.2zM319.9 65.8h2.2v2.2h-2.2zM323.3 65.5h2.2v2.2h-2.2zM326.4 65.8h1.3v1.3h-1.3zM327.8 65.4h2.2v2.2h-2.2zM329.5 65.3h1.3v1.3h-1.3zM338.9 65.4h1.3v1.3h-1.3zM352.4 65.5h1.3v1.3h-1.3zM357.4 65.5h1.3v1.3h-1.3zM363.6 65.6h1.3v1.3h-1.3zM307.3 67.2h1.3v1.3h-1.3zM309.3 66.9h1.7v1.7h-1.7zM317 67.4h1.7v1.7h-1.7zM332.7 67.2h1.7v1.7h-1.7zM337 67.4h1.3v1.3h-1.3zM355.6 67h1.7v1.7h-1.7zM313.6 68.6h1.3v1.3h-1.3zM332.4 68.7h1.3v1.3h-1.3zM367.9 68.8h1.7v1.7h-1.7zM315.1 70.2h1.3v1.3h-1.3zM323.3 70.2h1.7v1.7h-1.7zM329.5 70.5h1.7v1.7h-1.7zM330.9 70.4h1.3v1.3h-1.3zM337.3 70h1.7v1.7h-1.7zM368.1 69.9h1.7v1.7h-1.7zM306.2 71.6h1.3v1.3h-1.3zM316.9 71.6h1.3v1.3h-1.3zM331 71.5h1.7v1.7h-1.7zM355.7 71.6h2.2v2.2h-2.2zM368.3 71.9h1.3v1.3h-1.3zM317.2 73.4h1.3v1.3h-1.3zM351.1 73.6h1.7v1.7h-1.7zM356.9 73.2h2.2v2.2h-2.2zM307.4 75h1.7v1.7h-1.7zM320.1 75.1h1.7v1.7h-1.7zM327.7 74.6h1.3v1.3h-1.3zM362 75.1h2.2v2.2h-2.2zM296.8 76.7h1.3v1.3h-1.3zM301.4 76.5h1.3v1.3h-1.3zM313.8 76.4h1.3v1.3h-1.3zM326 76.6h1.3v1.3h-1.3zM334.1 76.5h2.2v2.2h-2.2zM355.4 76.6h1.7v1.7h-1.7zM360.1 76.4h1.3v1.3h-1.3zM377.6 76.4h1.7v1.7h-1.7zM315.1 77.9h1.7v1.7h-1.7zM378.8 78.1h1.7v1.7h-1.7zM295.4 79.3h1.7v1.7h-1.7zM298.2 79.5h1.3v1.3h-1.3zM312.5 79.7h1.7v1.7h-1.7zM316.8 79.7h1.3v1.3h-1.3zM322.9 79.6h1.7v1.7h-1.7zM328 79.5h1.7v1.7h-1.7zM333.8 79.7h1.3v1.3h-1.3zM372.9 79.6h1.3v1.3h-1.3zM380.4 79.3h2.2v2.2h-2.2zM298.3 81.3h1.3v1.3h-1.3zM299.9 80.8h1.7v1.7h-1.7zM303.2 81.2h1.7v1.7h-1.7zM324.8 80.8h1.3v1.3h-1.3zM335.6 81.1h1.7v1.7h-1.7zM337 81h1.3v1.3h-1.3zM347.6 81.3h2.2v2.2h-2.2zM351 81h1.3v1.3h-1.3zM362 80.8h1.3v1.3h-1.3zM363.7 81.3h1.7v1.7h-1.7zM315.4 82.6h2.2v2.2h-2.2zM324.9 82.8h1.7v1.7h-1.7zM338.6 82.6h1.7v1.7h-1.7zM357.2 82.4h1.7v1.7h-1.7zM382 82.5h2.2v2.2h-2.2zM307.5 84.3h1.3v1.3h-1.3zM310.7 84.4h1.7v1.7h-1.7zM312.1 84.3h1.3v1.3h-1.3zM321.8 84h1.7v1.7h-1.7zM338.7 84.2h1.3v1.3h-1.3zM361.6 84.1h1.3v1.3h-1.3zM363.6 84.1h2.2v2.2h-2.2zM366.8 84.3h1.7v1.7h-1.7zM369.5 84.2h1.3v1.3h-1.3zM372.9 84.3h1.7v1.7h-1.7zM377.4 84.1h1.7v1.7h-1.7zM318.5 85.6h1.3v1.3h-1.3zM323.1 85.8h1.7v1.7h-1.7zM335.7 85.6h1.3v1.3h-1.3zM344.6 85.7h2.2v2.2h-2.2zM368 85.9h1.7v1.7h-1.7zM323 87.2h2.2v2.2h-2.2zM330.9 87.1h1.7v1.7h-1.7zM340.1 87.5h1.3v1.3h-1.3zM366.2 87.2h1.3v1.3h-1.3zM388.4 87.1h1.7v1.7h-1.7zM301.4 88.6h1.3v1.3h-1.3zM313.7 88.6h1.7v1.7h-1.7zM326.3 88.6h1.3v1.3h-1.3zM327.7 89.1h2.2v2.2h-2.2zM337.2 88.6h1.3v1.3h-1.3zM344.7 89.1h2.2v2.2h-2.2zM360.1 88.7h1.7v1.7h-1.7zM299.7 90.1h1.7v1.7h-1.7zM301.3 90.4h1.3v1.3h-1.3zM306.3 90.4h1.3v1.3h-1.3zM320.3 90.4h1.7v1.7h-1.7zM324.5 90.6h1.3v1.3h-1.3zM329.5 90.1h2.2v2.2h-2.2zM344.6 90.4h1.7v1.7h-1.7zM358.8 90.6h2.2v2.2h-2.2zM361.8 90.5h2.2v2.2h-2.2zM371.4 90.2h1.3v1.3h-1.3zM383.6 90.5h1.7v1.7h-1.7zM292.3 91.8h1.3v1.3h-1.3zM321.8 91.7h1.7v1.7h-1.7zM349.4 91.7h1.7v1.7h-1.7zM372.7 91.8h1.7v1.7h-1.7zM377.3 91.6h1.3v1.3h-1.3zM378.9 92.1h1.3v1.3h-1.3zM302.9 93.7h1.3v1.3h-1.3zM321.6 93.6h1.3v1.3h-1.3zM326.1 93.5h1.3v1.3h-1.3zM340.1 93.4h1.7v1.7h-1.7zM358.6 93.7h1.3v1.3h-1.3zM363.5 93.4h1.3v1.3h-1.3zM366.7 93.3h1.7v1.7h-1.7zM371.4 93.6h1.3v1.3h-1.3zM377.4 93.6h1.3v1.3h-1.3zM296.5 95.2h1.3v1.3h-1.3zM343.1 94.9h1.7v1.7h-1.7zM352.6 95h1.7v1.7h-1.7zM358.5 95.1h1.7v1.7h-1.7zM384.8 94.8h1.3v1.3h-1.3zM292.3 96.3h1.3v1.3h-1.3zM298.3 96.3h1.7v1.7h-1.7zM306.2 96.3h1.3v1.3h-1.3zM313.5 96.5h1.3v1.3h-1.3zM326 96.8h1.3v1.3h-1.3zM338.7 96.4h2.2v2.2h-2.2zM346.5 96.3h1.7v1.7h-1.7zM361.6 96.4h1.7v1.7h-1.7zM388.1 96.7h1.7v1.7h-1.7zM297 97.9h2.2v2.2h-2.2zM298.2 97.9h1.3v1.3h-1.3zM303 98.2h1.7v1.7h-1.7zM315.3 97.9h1.7v1.7h-1.7zM318.2 97.9h1.7v1.7h-1.7zM326.5 98h2.2v2.2h-2.2zM327.5 98.3h1.7v1.7h-1.7zM343.3 98.1h1.7v1.7h-1.7zM344.8 97.9h1.3v1.3h-1.3zM368.3 97.9h2.2v2.2h-2.2zM369.8 98.4h1.3v1.3h-1.3zM307.6 99.7h2.2v2.2h-2.2zM317 99.9h1.7v1.7h-1.7zM326 99.4h1.7v1.7h-1.7zM327.9 99.7h1.3v1.3h-1.3zM335.5 99.5h1.7v1.7h-1.7zM363.3 99.8h1.3v1.3h-1.3zM391.3 99.8h1.7v1.7h-1.7zM301.6 101.1h1.7v1.7h-1.7zM304.7 101.1h1.7v1.7h-1.7zM310.4 101.1h2.2v2.2h-2.2zM319.8 101.1h1.3v1.3h-1.3zM324.6 101.5h1.3v1.3h-1.3zM349.3 101.1h1.7v1.7h-1.7zM354.4 100.9h2.2v2.2h-2.2zM374.2 101.4h1.7v1.7h-1.7zM386.4 101.2h1.3v1.3h-1.3zM326.1 103h1.3v1.3h-1.3zM327.6 102.6h1.3v1.3h-1.3zM343.3 102.8h1.7v1.7h-1.7zM347.9 102.9h1.7v1.7h-1.7zM349.6 102.6h1.3v1.3h-1.3zM360.6 103h1.3v1.3h-1.3zM361.7 102.9h1.3v1.3h-1.3zM363.3 102.5h1.7v1.7h-1.7zM369.3 103h1.7v1.7h-1.7zM371.3 102.6h2.2v2.2h-2.2zM391.5 102.9h1.7v1.7h-1.7zM323 104.5h1.7v1.7h-1.7zM336.8 104h2.2v2.2h-2.2zM345.1 104.5h1.7v1.7h-1.7zM355.4 104h1.3v1.3h-1.3zM366.3 104.1h1.3v1.3h-1.3zM388.3 104.6h2.2v2.2h-2.2zM312.2 106h1.3v1.3h-1.3zM337.2 106.1h1.3v1.3h-1.3zM340.4 105.9h1.7v1.7h-1.7zM353.9 106h2.2v2.2h-2.2zM360.2 105.6h1.3v1.3h-1.3zM366.3 106.1h1.7v1.7h-1.7zM389.5 106.1h2.2v2.2h-2.2zM313.7 107.1h1.3v1.3h-1.3zM335.7 107.2h1.7v1.7h-1.7zM346.3 107.5h1.7v1.7h-1.7zM366.7 107.5h2.2v2.2h-2.2zM390 107.4h1.7v1.7h-1.7zM289.1 109.2h1.3v1.3h-1.3zM295.3 109.1h1.3v1.3h-1.3zM302.9 108.8h1.3v1.3h-1.3zM317 108.8h2.2v2.2h-2.2zM323.2 109.1h1.3v1.3h-1.3zM330.6 108.7h2.2v2.2h-2.2zM340.4 108.8h1.7v1.7h-1.7zM371 108.7h1.7v1.7h-1.7zM377.1 109h2.2v2.2h-2.2zM380.7 109.2h2.2v2.2h-2.2zM385.3 109h2.2v2.2h-2.2zM389.8 109.2h1.7v1.7h-1.7zM298.4 110.4h1.3v1.3h-1.3zM316.6 110.7h1.3v1.3h-1.3zM335.4 110.6h1.3v1.3h-1.3zM346.1 110.3h1.3v1.3h-1.3zM355.7 110.6h1.7v1.7h-1.7zM357.3 110.5h1.3v1.3h-1.3zM358.9 110.5h1.3v1.3h-1.3zM379 110.3h1.3v1.3h-1.3zM290.3 112.1h2.2v2.2h-2.2zM307.4 111.8h1.3v1.3h-1.3zM309 111.8h2.2v2.2h-2.2zM310.5 111.9h1.3v1.3h-1.3zM313.7 112.3h2.2v2.2h-2.2zM337.1 112h1.7v1.7h-1.7zM340.1 112h1.3v1.3h-1.3zM363.2 112.3h1.3v1.3h-1.3zM366.3 112.2h1.3v1.3h-1.3zM300 113.8h1.7v1.7h-1.7zM309.1 113.8h1.3v1.3h-1.3zM318.2 113.7h1.7v1.7h-1.7zM343.1 113.8h1.7v1.7h-1.7zM288.7 115.3h1.7v1.7h-1.7zM293.6 115.1h2.2v2.2h-2.2zM296.8 115.3h1.3v1.3h-1.3zM304.6 115.1h1.7v1.7h-1.7zM321.8 115.1h1.3v1.3h-1.3zM327.9 114.9h1.3v1.3h-1.3zM336.8 114.9h1.3v1.3h-1.3zM355.8 115.1h1.3v1.3h-1.3zM357 115.3h1.3v1.3h-1.3zM363.6 115.4h1.7v1.7h-1.7zM365 115.1h1.7v1.7h-1.7zM375.6 114.9h1.3v1.3h-1.3zM383.3 115.2h1.3v1.3h-1.3zM385 115.4h1.7v1.7h-1.7zM386.8 115.4h1.3v1.3h-1.3zM389.7 115.4h1.7v1.7h-1.7zM304.6 116.8h1.7v1.7h-1.7zM312.2 116.8h1.3v1.3h-1.3zM316.8 116.5h1.3v1.3h-1.3zM341.9 116.7h1.3v1.3h-1.3zM343.4 116.5h1.3v1.3h-1.3zM348.1 116.8h1.7v1.7h-1.7zM358.9 116.4h1.3v1.3h-1.3zM363.7 116.9h2.2v2.2h-2.2zM365 116.9h1.7v1.7h-1.7zM380.3 116.7h2.2v2.2h-2.2zM290.5 118.4h1.7v1.7h-1.7zM300 118.1h1.3v1.3h-1.3zM309 118h1.3v1.3h-1.3zM330.9 118.5h1.3v1.3h-1.3zM343.4 118.1h1.7v1.7h-1.7zM344.8 118.1h1.7v1.7h-1.7zM355.9 118.4h2.2v2.2h-2.2zM358.7 118.3h1.7v1.7h-1.7zM368.2 118h1.3v1.3h-1.3zM380.6 118h1.3v1.3h-1.3zM388.4 118.4h1.7v1.7h-1.7zM296.6 119.9h1.7v1.7h-1.7zM302.8 119.9h1.3v1.3h-1.3zM318.4 120h1.3v1.3h-1.3zM324.8 119.6h1.7v1.7h-1.7zM326.4 120h1.7v1.7h-1.7zM327.9 120h2.2v2.2h-2.2zM345.1 119.6h1.3v1.3h-1.3zM360.2 119.8h2.2v2.2h-2.2zM362.1 119.7h1.7v1.7h-1.7zM367.9 119.7h1.3v1.3h-1.3zM383.5 119.9h1.7v1.7h-1.7zM293.7 121.5h1.7v1.7h-1.7zM301.6 121.4h2.2v2.2h-2.2zM309 121.1h1.7v1.7h-1.7zM315.1 121.4h2.2v2.2h-2.2zM318.4 121.5h1.7v1.7h-1.7zM320.2 121.6h1.3v1.3h-1.3zM344.8 121.2h1.3v1.3h-1.3zM347.9 121.2h1.3v1.3h-1.3zM355.8 121.3h1.3v1.3h-1.3zM363.2 121.6h1.3v1.3h-1.3zM364.8 121.4h1.3v1.3h-1.3zM383.3 121.1h1.3v1.3h-1.3zM295.2 123.1h1.7v1.7h-1.7zM298.5 122.8h1.3v1.3h-1.3zM301.3 123h1.3v1.3h-1.3zM310.7 122.8h1.3v1.3h-1.3zM312 122.6h1.3v1.3h-1.3zM323 123.1h2.2v2.2h-2.2zM338.5 123h1.7v1.7h-1.7zM358.6 122.6h2.2v2.2h-2.2zM360.2 122.6h1.7v1.7h-1.7zM371.3 122.7h1.3v1.3h-1.3zM304.5 124.4h2.2v2.2h-2.2zM312.3 124.7h1.7v1.7h-1.7zM315.1 124.3h1.7v1.7h-1.7zM324.7 124.5h1.3v1.3h-1.3zM329.2 124.4h1.7v1.7h-1.7zM358.5 124.5h1.7v1.7h-1.7zM366.8 124.5h1.3v1.3h-1.3zM386.8 124.7h2.2v2.2h-2.2zM295 126.3h1.3v1.3h-1.3zM299.6 125.9h1.3v1.3h-1.3zM313.9 126.2h1.7v1.7h-1.7zM317.1 126.1h1.3v1.3h-1.3zM340 125.9h1.7v1.7h-1.7zM355.5 126.1h1.3v1.3h-1.3zM362.1 126.1h1.3v1.3h-1.3zM365.2 125.9h1.7v1.7h-1.7zM369.7 125.8h1.3v1.3h-1.3zM371.4 126.2h1.3v1.3h-1.3zM372.7 125.7h1.7v1.7h-1.7zM380.3 125.8h1.7v1.7h-1.7zM295.3 127.5h1.3v1.3h-1.3zM302.7 127.8h2.2v2.2h-2.2zM309.4 127.5h1.3v1.3h-1.3zM311 127.6h1.7v1.7h-1.7zM322.9 127.8h1.3v1.3h-1.3zM346.5 127.6h1.7v1.7h-1.7zM356.9 127.4h1.3v1.3h-1.3zM372.5 127.6h2.2v2.2h-2.2zM374 127.4h1.3v1.3h-1.3zM343 129.2h1.7v1.7h-1.7zM345 129.2h1.3v1.3h-1.3zM378.8 129.2h1.3v1.3h-1.3zM382.1 128.9h2.2v2.2h-2.2zM383.5 128.8h1.7v1.7h-1.7zM309 130.5h1.3v1.3h-1.3zM315.4 130.8h1.3v1.3h-1.3zM322.9 130.5h1.7v1.7h-1.7zM344.9 130.8h1.7v1.7h-1.7zM352.4 130.4h1.3v1.3h-1.3zM357.4 130.9h1.3v1.3h-1.3zM329.6 131.9h1.7v1.7h-1.7zM341.6 132.2h1.7v1.7h-1.7zM354.3 132h1.7v1.7h-1.7zM368.2 132.5h2.2v2.2h-2.2zM298.6 133.5h2.2v2.2h-2.2zM303.1 133.8h1.7v1.7h-1.7zM307.4 133.9h1.7v1.7h-1.7zM309.1 134h1.7v1.7h-1.7zM344.9 133.7h1.3v1.3h-1.3zM349.3 133.7h2.2v2.2h-2.2zM363.6 133.6h1.7v1.7h-1.7zM307.7 135h2.2v2.2h-2.2zM315.3 135.3h2.2v2.2h-2.2zM316.7 135h2.2v2.2h-2.2zM321.8 135.4h1.7v1.7h-1.7zM341.6 135.2h1.7v1.7h-1.7zM353.8 135.6h1.7v1.7h-1.7zM359 135.5h1.7v1.7h-1.7zM372.9 135.5h1.3v1.3h-1.3zM307.5 136.9h1.3v1.3h-1.3zM309.1 136.6h1.3v1.3h-1.3zM312 136.8h2.2v2.2h-2.2zM319.7 137.1h1.3v1.3h-1.3zM321.7 137h2.2v2.2h-2.2zM324.4 137h1.7v1.7h-1.7zM326.2 136.9h2.2v2.2h-2.2zM352.5 137.1h1.7v1.7h-1.7zM358.6 136.6h1.3v1.3h-1.3zM361.8 136.7h1.3v1.3h-1.3zM365 137h1.3v1.3h-1.3zM371 136.7h1.3v1.3h-1.3zM298.5 138.6h1.7v1.7h-1.7zM301.5 138.6h1.7v1.7h-1.7zM316.9 138.5h1.7v1.7h-1.7zM362 138.6h1.3v1.3h-1.3zM374.3 138.2h1.3v1.3h-1.3zM306.3 140.1h1.3v1.3h-1.3zM340.4 139.9h1.7v1.7h-1.7zM362.1 140.1h1.3v1.3h-1.3zM365 140.1h1.7v1.7h-1.7zM313.5 141.2h1.3v1.3h-1.3zM315.2 141.5h2.2v2.2h-2.2zM343.1 141.6h1.3v1.3h-1.3zM350.8 141.7h1.3v1.3h-1.3zM354.3 141.7h1.7v1.7h-1.7zM355.9 141.2h1.3v1.3h-1.3zM368.3 141.3h2.2v2.2h-2.2zM371 141.4h1.3v1.3h-1.3zM372.7 141.3h1.3v1.3h-1.3zM315.3 143.2h2.2v2.2h-2.2zM346.5 143.2h1.7v1.7h-1.7zM343.1 144.5h1.3v1.3h-1.3zM347.7 144.9h1.3v1.3h-1.3zM352.3 144.8h1.3v1.3h-1.3zM354 144.6h2.2v2.2h-2.2zM361.6 144.7h1.7v1.7h-1.7zM313.8 146.4h1.3v1.3h-1.3zM318.2 145.9h1.7v1.7h-1.7zM352.6 145.9h1.7v1.7h-1.7zM362 146.2h1.7v1.7h-1.7zM349.4 147.5h2.2v2.2h-2.2zM341.9 150.8h1.3v1.3h-1.3z" fill="#4d68c8"/>
<path d="M331.1 54.4h1.3v1.3h-1.3zM338.9 59.1h1.3v1.3h-1.3zM332.2 60.7h1.3v1.3h-1.3zM348 60.9h1.3v1.3h-1.3zM320.1 62.3h1.7v1.7h-1.7zM321.5 63.8h1.3v1.3h-1.3zM330.6 68.8h1.3v1.3h-1.3zM335.8 68.4h1.3v1.3h-1.3zM315.6 72h1.3v1.3h-1.3zM324.7 71.5h1.3v1.3h-1.3zM355.6 73.6h1.3v1.3h-1.3zM365 74.6h1.3v1.3h-1.3zM377.4 74.6h2.2v2.2h-2.2zM319.9 76.5h1.3v1.3h-1.3zM348.1 76.3h1.3v1.3h-1.3zM309.1 79.6h1.7v1.7h-1.7zM332.3 79.3h1.3v1.3h-1.3zM377.1 79.4h1.3v1.3h-1.3zM316.7 81.3h1.3v1.3h-1.3zM329.4 80.8h1.7v1.7h-1.7zM377.6 81.2h1.7v1.7h-1.7zM349.3 82.8h1.3v1.3h-1.3zM355.5 82.7h1.3v1.3h-1.3zM315.6 84.3h1.3v1.3h-1.3zM306.1 85.7h1.3v1.3h-1.3zM333.8 85.5h1.7v1.7h-1.7zM360.5 85.9h1.3v1.3h-1.3zM345 87h1.3v1.3h-1.3zM294.9 89h1.3v1.3h-1.3zM335.7 90.1h1.3v1.3h-1.3zM374.4 90.6h1.3v1.3h-1.3zM388.2 90.5h1.3v1.3h-1.3zM346.3 92.1h2.2v2.2h-2.2zM335.5 96.5h1.3v1.3h-1.3zM295.5 98.2h1.3v1.3h-1.3zM334.1 98.1h1.3v1.3h-1.3zM341.5 98.3h1.7v1.7h-1.7zM314.1 99.4h1.3v1.3h-1.3zM379 99.9h1.3v1.3h-1.3zM333.9 101.1h2.2v2.2h-2.2zM335.6 103h1.7v1.7h-1.7zM380.7 102.8h2.2v2.2h-2.2zM324.5 104.5h1.3v1.3h-1.3zM357.4 104.1h1.7v1.7h-1.7zM367.8 104.6h2.2v2.2h-2.2zM309.2 106h1.7v1.7h-1.7zM318.3 105.7h1.7v1.7h-1.7zM329.3 107.7h1.3v1.3h-1.3zM353.9 107.2h1.3v1.3h-1.3zM380.3 107.5h2.2v2.2h-2.2zM301.6 112.2h1.7v1.7h-1.7zM312.4 113.7h1.7v1.7h-1.7zM347.9 113.6h1.7v1.7h-1.7zM292.2 115.3h2.2v2.2h-2.2zM318.4 114.9h1.7v1.7h-1.7zM343.4 115.1h1.7v1.7h-1.7zM372.9 114.9h1.3v1.3h-1.3zM293.4 116.9h1.7v1.7h-1.7zM381.8 118.1h1.3v1.3h-1.3zM312.2 119.7h1.7v1.7h-1.7zM334 119.7h1.7v1.7h-1.7zM386.7 119.7h1.7v1.7h-1.7zM303 122.8h1.3v1.3h-1.3zM316.9 123h1.7v1.7h-1.7zM357.3 122.8h2.2v2.2h-2.2zM383.6 124.5h1.7v1.7h-1.7zM296.8 125.8h1.3v1.3h-1.3zM366.3 125.9h1.7v1.7h-1.7zM383.7 126.2h1.3v1.3h-1.3zM302.9 129.1h2.2v2.2h-2.2zM375.8 128.8h1.7v1.7h-1.7zM296.5 130.8h1.7v1.7h-1.7zM306.2 130.5h1.7v1.7h-1.7zM317.1 130.9h1.7v1.7h-1.7zM321.7 130.7h2.2v2.2h-2.2zM349.7 130.6h1.7v1.7h-1.7zM369.6 130.7h1.7v1.7h-1.7zM360 132.5h1.7v1.7h-1.7zM371.2 131.9h1.3v1.3h-1.3zM354.3 133.5h1.7v1.7h-1.7zM358.8 133.8h1.3v1.3h-1.3zM365.2 133.9h1.7v1.7h-1.7zM304.6 135.5h1.3v1.3h-1.3zM363.1 135.2h1.7v1.7h-1.7zM316.7 137h1.7v1.7h-1.7zM313.7 138.3h2.2v2.2h-2.2zM301.5 140h1.7v1.7h-1.7zM341.5 139.7h1.3v1.3h-1.3zM343 140.2h1.3v1.3h-1.3zM312.1 141.8h1.7v1.7h-1.7zM357.1 141.4h1.7v1.7h-1.7zM362.1 142.9h1.7v1.7h-1.7zM355.6 146.1h1.7v1.7h-1.7zM351.2 149.1h1.3v1.3h-1.3z" fill="#6884e0"/>
<path d="M330.9 37.6h1v1h-1zM347.9 37.6h1v1h-1zM386.7 37.6h1v1h-1zM371.2 39.2h1v1h-1zM382 40.7h1v1h-1zM383.6 46.9h1v1h-1zM329.3 48.5h1v1h-1zM278.2 51.6h1v1h-1zM352.6 51.6h1v1h-1zM329.3 53.1h1v1h-1zM323.1 54.7h1v1h-1zM335.7 55h1.3v1.3h-1.3zM350.8 54.9h1.3v1.3h-1.3zM335.6 56.5h1.3v1.3h-1.3zM336.8 56h1.7v1.7h-1.7zM341.7 56.2h1v1h-1zM361.9 56.2h1v1h-1zM333.8 57.5h1.3v1.3h-1.3zM319.9 59.5h1.7v1.7h-1.7zM331 59.2h1.7v1.7h-1.7zM332.6 59.4h1.3v1.3h-1.3zM349.6 59.5h1.7v1.7h-1.7zM365 59.3h1v1h-1zM369.6 59.3h1v1h-1zM318.4 60.7h1.7v1.7h-1.7zM333.8 61.2h1.3v1.3h-1.3zM346.4 60.9h1v1h-1zM360.5 61h1.3v1.3h-1.3zM310.7 62.4h1v1h-1zM313.8 62.6h1.7v1.7h-1.7zM315.4 62.6h1.7v1.7h-1.7zM287.5 64h1v1h-1zM323.2 64.2h1.7v1.7h-1.7zM330.7 63.9h1.3v1.3h-1.3zM334.2 63.7h1.7v1.7h-1.7zM358.6 65.7h1.7v1.7h-1.7zM362.1 65.8h1.3v1.3h-1.3zM366.7 65.5h2.2v2.2h-2.2zM371.2 65.5h1v1h-1zM310.5 67h1.3v1.3h-1.3zM312.5 66.9h1.3v1.3h-1.3zM320.1 67h1.3v1.3h-1.3zM343.3 67.1h1v1h-1zM362.1 66.9h1.7v1.7h-1.7zM307.6 68.4h1.7v1.7h-1.7zM340.2 68.4h2.2v2.2h-2.2zM350.9 68.6h1.7v1.7h-1.7zM270.4 70.2h1v1h-1zM318.5 70.3h1.7v1.7h-1.7zM319.7 69.9h1.7v1.7h-1.7zM299.9 71.7h1v1h-1zM304.4 71.9h1.7v1.7h-1.7zM327.9 71.6h1.3v1.3h-1.3zM332.4 71.8h2.2v2.2h-2.2zM344.8 71.6h1.3v1.3h-1.3zM346.6 71.6h1.3v1.3h-1.3zM357.2 71.5h1.3v1.3h-1.3zM300.1 73.3h1.3v1.3h-1.3zM301.4 73.6h1.3v1.3h-1.3zM304.8 73.4h1.7v1.7h-1.7zM318.3 73.6h1.3v1.3h-1.3zM320.1 73.5h2.2v2.2h-2.2zM333.8 73.3h1.7v1.7h-1.7zM340.1 73.5h1.7v1.7h-1.7zM354.3 73.6h2.2v2.2h-2.2zM273.5 74.8h1v1h-1zM295.2 74.8h1v1h-1zM298.6 74.7h1.3v1.3h-1.3zM341.5 74.9h1.3v1.3h-1.3zM346.1 75h1.3v1.3h-1.3zM349.5 74.9h1.7v1.7h-1.7zM357.4 74.7h1.3v1.3h-1.3zM371.2 74.7h1.3v1.3h-1.3zM299.9 76.5h1.3v1.3h-1.3zM321.6 76.2h1.7v1.7h-1.7zM323.1 76.2h1.7v1.7h-1.7zM392.9 76.4h1v1h-1zM304.7 78.2h1.3v1.3h-1.3zM344.6 78h1.3v1.3h-1.3zM351.1 77.8h1.3v1.3h-1.3zM354.4 78h1.7v1.7h-1.7zM369.7 77.7h2.2v2.2h-2.2zM372.6 78.1h1.7v1.7h-1.7zM389.8 77.9h1v1h-1zM321.5 79.7h1.7v1.7h-1.7zM354.1 79.8h1.3v1.3h-1.3zM355.5 79.4h2.2v2.2h-2.2zM368.3 79.4h1.3v1.3h-1.3zM382.1 79.2h1.3v1.3h-1.3zM296.6 80.9h1.3v1.3h-1.3zM306.2 81.1h1.7v1.7h-1.7zM326.2 81.2h1.7v1.7h-1.7zM341.5 81.3h1.7v1.7h-1.7zM343 80.8h1.7v1.7h-1.7zM353.9 80.8h1.3v1.3h-1.3zM366.7 80.9h1.7v1.7h-1.7zM375.8 81.1h2.2v2.2h-2.2zM380.5 80.8h1.3v1.3h-1.3zM296.5 82.8h1.7v1.7h-1.7zM298.6 82.3h2.2v2.2h-2.2zM304.8 82.5h1.7v1.7h-1.7zM318.5 82.7h1.3v1.3h-1.3zM374 82.6h1.3v1.3h-1.3zM377.4 82.6h1.3v1.3h-1.3zM295.3 83.9h1.7v1.7h-1.7zM296.7 84.3h1.3v1.3h-1.3zM299.7 84.3h1.7v1.7h-1.7zM320.1 84.2h1.3v1.3h-1.3zM323.3 83.9h1.7v1.7h-1.7zM335.3 84.4h1.3v1.3h-1.3zM340.2 83.9h1.7v1.7h-1.7zM290.6 85.7h1v1h-1zM297 87.1h2.2v2.2h-2.2zM308.9 87.3h1.3v1.3h-1.3zM310.5 87.5h1.7v1.7h-1.7zM317.1 87.4h1.3v1.3h-1.3zM324.4 87.4h1.3v1.3h-1.3zM327.6 87.5h1.7v1.7h-1.7zM335.4 87.1h1.3v1.3h-1.3zM368.2 87.1h1.3v1.3h-1.3zM374 87.5h1.3v1.3h-1.3zM380.3 87.3h2.2v2.2h-2.2zM299.6 88.8h1.3v1.3h-1.3zM305.8 88.8h1.3v1.3h-1.3zM316.9 89h1.3v1.3h-1.3zM323 89.1h1.3v1.3h-1.3zM335.8 88.9h1.7v1.7h-1.7zM357.2 88.9h1.3v1.3h-1.3zM361.6 88.7h1.3v1.3h-1.3zM363.3 88.6h1.3v1.3h-1.3zM383.6 89h1.7v1.7h-1.7zM318.6 90.2h1.3v1.3h-1.3zM326 90.4h2.2v2.2h-2.2zM343.4 90.6h2.2v2.2h-2.2zM346.1 90.4h1.3v1.3h-1.3zM352.4 90.3h1.3v1.3h-1.3zM296.5 92.1h1.7v1.7h-1.7zM317 92h1.7v1.7h-1.7zM390 92.1h1.7v1.7h-1.7zM305.9 93.4h1.3v1.3h-1.3zM331.1 93.7h1.7v1.7h-1.7zM332.3 93.7h1.3v1.3h-1.3zM349.4 93.4h2.2v2.2h-2.2zM352.8 93.3h1.7v1.7h-1.7zM361.6 93.4h1.3v1.3h-1.3zM380.7 93.6h1.3v1.3h-1.3zM389.6 93.6h1.3v1.3h-1.3zM291.9 95.3h1.3v1.3h-1.3zM317.1 95.2h1.3v1.3h-1.3zM341.9 95.2h1.7v1.7h-1.7zM361.6 95.1h1.3v1.3h-1.3zM364.7 95.2h1.7v1.7h-1.7zM408.4 95h1v1h-1zM289 96.5h1v1h-1zM307.5 96.3h1.7v1.7h-1.7zM318.2 96.8h2.2v2.2h-2.2zM366.3 96.4h1.3v1.3h-1.3zM383.5 96.4h1.7v1.7h-1.7zM394.4 96.5h1v1h-1zM337.3 97.9h1.7v1.7h-1.7zM377.3 98h1.3v1.3h-1.3zM391.2 97.9h1.7v1.7h-1.7zM321.4 99.5h2.2v2.2h-2.2zM330.7 99.6h1.3v1.3h-1.3zM332.6 99.5h1.7v1.7h-1.7zM367.8 99.8h1.3v1.3h-1.3zM372.6 99.4h1.7v1.7h-1.7zM375.7 99.8h1.3v1.3h-1.3zM377.5 99.6h1.3v1.3h-1.3zM383.8 99.4h1.3v1.3h-1.3zM295.2 101.2h1v1h-1zM316.9 101.1h1.3v1.3h-1.3zM322.9 101.2h2.2v2.2h-2.2zM338.6 101h1.7v1.7h-1.7zM352.7 101.2h1.3v1.3h-1.3zM367.8 101.4h1.7v1.7h-1.7zM380.7 101.3h1.3v1.3h-1.3zM389.5 101.5h1.3v1.3h-1.3zM313.7 102.5h1.3v1.3h-1.3zM322.8 102.5h1.3v1.3h-1.3zM332.3 102.9h1.7v1.7h-1.7zM341.7 103h1.7v1.7h-1.7zM344.5 102.9h1.7v1.7h-1.7zM346.5 102.8h1.7v1.7h-1.7zM350.7 102.7h1.7v1.7h-1.7zM366.3 102.6h1.7v1.7h-1.7zM368 102.5h1.3v1.3h-1.3zM394.4 102.7h1v1h-1zM303 104.3h1v1h-1zM360.6 104.3h1.3v1.3h-1.3zM364.8 104.1h1.3v1.3h-1.3zM375.7 104.2h1.7v1.7h-1.7zM380.2 104.5h1.7v1.7h-1.7zM383.5 104.6h1.7v1.7h-1.7zM397.5 104.3h1v1h-1zM290.6 105.8h1v1h-1zM332.5 105.7h2.2v2.2h-2.2zM356.9 106h1.7v1.7h-1.7zM363.6 105.7h1.3v1.3h-1.3zM380.7 105.7h1.7v1.7h-1.7zM388.2 105.6h1.7v1.7h-1.7zM319.8 107.3h1.3v1.3h-1.3zM374.3 107.1h1.3v1.3h-1.3zM376.1 107.7h1.3v1.3h-1.3zM299.9 109.2h1.3v1.3h-1.3zM326.3 109.2h1.3v1.3h-1.3zM327.5 109h1.3v1.3h-1.3zM335.7 109h2.2v2.2h-2.2zM350.9 108.9h2.2v2.2h-2.2zM363.6 109.1h1.7v1.7h-1.7zM376 109.2h2.2v2.2h-2.2zM381.9 108.8h1.3v1.3h-1.3zM386.8 108.7h1.3v1.3h-1.3zM285.9 110.5h1v1h-1zM299.7 110.7h1.3v1.3h-1.3zM301.2 110.5h1.3v1.3h-1.3zM322.9 110.4h1.3v1.3h-1.3zM341.7 110.6h1.3v1.3h-1.3zM350.9 110.4h1.3v1.3h-1.3zM353.9 110.4h1.3v1.3h-1.3zM292.2 111.9h1.7v1.7h-1.7zM295.2 112h1.3v1.3h-1.3zM305.9 112.1h1.7v1.7h-1.7zM321.3 112.1h1.3v1.3h-1.3zM338.5 112.1h1.3v1.3h-1.3zM343.2 111.9h1.3v1.3h-1.3zM346.5 112.1h1.3v1.3h-1.3zM358.9 112.3h2.2v2.2h-2.2zM362 112.2h1.7v1.7h-1.7zM374.5 111.9h1.7v1.7h-1.7zM293.5 113.8h1.3v1.3h-1.3zM298.3 113.4h1.3v1.3h-1.3zM306 113.7h1.7v1.7h-1.7zM341.8 113.7h1.3v1.3h-1.3zM360.3 113.4h1.7v1.7h-1.7zM371.1 113.4h2.2v2.2h-2.2zM372.5 113.6h2.2v2.2h-2.2zM287.5 115.1h1v1h-1zM305.9 114.9h1.7v1.7h-1.7zM307.7 115.4h1.7v1.7h-1.7zM313.8 115.3h1.3v1.3h-1.3zM326.1 115h1.3v1.3h-1.3zM349.5 115.4h1.3v1.3h-1.3zM352.8 116.6h1.3v1.3h-1.3zM354.2 116.9h1.7v1.7h-1.7zM376.1 116.9h1.3v1.3h-1.3zM378.6 116.5h1.3v1.3h-1.3zM307.5 118.5h1.7v1.7h-1.7zM315.2 118.1h1.3v1.3h-1.3zM316.9 118h1.3v1.3h-1.3zM326.3 118.5h1.3v1.3h-1.3zM338.6 118.2h1v1h-1zM364.8 118.3h1.3v1.3h-1.3zM372.6 118.2h1.7v1.7h-1.7zM374.4 118.4h1.3v1.3h-1.3zM304.6 120h1.7v1.7h-1.7zM317 119.9h1.7v1.7h-1.7zM332.3 119.6h1.7v1.7h-1.7zM355.8 120h1.3v1.3h-1.3zM378.7 119.5h1.3v1.3h-1.3zM295.1 121.5h1.7v1.7h-1.7zM302.8 121.5h1.7v1.7h-1.7zM327.8 121.1h1.7v1.7h-1.7zM358.7 121.3h1.3v1.3h-1.3zM361.9 121.4h1.7v1.7h-1.7zM379 121.1h1.3v1.3h-1.3zM388 121.2h1.3v1.3h-1.3zM328 122.9h2.2v2.2h-2.2zM337.1 122.9h1v1h-1zM346.3 122.8h1.3v1.3h-1.3zM366.4 123h1.3v1.3h-1.3zM367.9 122.7h1.3v1.3h-1.3zM389.8 122.9h1v1h-1zM316.8 124.7h1.3v1.3h-1.3zM370.9 124.5h1.3v1.3h-1.3zM307.8 125.9h1.7v1.7h-1.7zM310.9 125.7h1.7v1.7h-1.7zM312.1 126.1h1.3v1.3h-1.3zM330.9 125.8h1.3v1.3h-1.3zM349.7 125.7h1.7v1.7h-1.7zM354 126.3h2.2v2.2h-2.2zM374.3 125.9h2.2v2.2h-2.2zM378.7 126.3h1.7v1.7h-1.7zM296.9 127.4h2.2v2.2h-2.2zM314 127.4h1.3v1.3h-1.3zM327.8 127.6h1.3v1.3h-1.3zM367.8 127.7h1.7v1.7h-1.7zM346.5 129.3h1.3v1.3h-1.3zM350.9 128.9h1.7v1.7h-1.7zM385.1 129.1h1v1h-1zM302.7 130.5h1.7v1.7h-1.7zM312.5 130.5h1.3v1.3h-1.3zM318.6 130.6h1.3v1.3h-1.3zM324.4 130.4h1.3v1.3h-1.3zM341.5 130.4h1.3v1.3h-1.3zM353.8 130.8h1.3v1.3h-1.3zM375.6 130.5h1.7v1.7h-1.7zM377.2 130.6h1.3v1.3h-1.3zM302.7 132.2h1.7v1.7h-1.7zM304.6 132.4h1.3v1.3h-1.3zM305.8 132.4h1.3v1.3h-1.3zM375.5 132.5h1.7v1.7h-1.7zM383.6 132.2h1v1h-1zM301.3 133.6h1.3v1.3h-1.3zM318.2 134h1.3v1.3h-1.3zM326.2 133.7h1.3v1.3h-1.3zM346.2 133.7h1.7v1.7h-1.7zM360.1 133.7h1.3v1.3h-1.3zM374.3 133.7h1.7v1.7h-1.7zM313.8 135.2h1.3v1.3h-1.3zM323.1 135.1h1.3v1.3h-1.3zM327.8 135.3h1v1h-1zM338.7 135.1h2.2v2.2h-2.2zM343.3 135.4h1.7v1.7h-1.7zM364.7 135.4h1.3v1.3h-1.3zM379.2 135.2h1.3v1.3h-1.3zM296.8 136.8h1v1h-1zM298.1 137h1.3v1.3h-1.3zM343.4 137h1.3v1.3h-1.3zM346.1 137h1.3v1.3h-1.3zM369.4 136.8h1.7v1.7h-1.7zM304.6 138.6h1.3v1.3h-1.3zM319.8 138.3h1.3v1.3h-1.3zM324.9 138.4h1.7v1.7h-1.7zM335.5 138.4h1v1h-1zM346.2 138.4h1.7v1.7h-1.7zM358.5 138.4h1.3v1.3h-1.3zM314 140.1h1.3v1.3h-1.3zM346.5 139.8h1.3v1.3h-1.3zM347.8 139.8h1.3v1.3h-1.3zM298.3 141.5h1v1h-1zM339.9 141.5h1.7v1.7h-1.7zM341.7 141.8h2.2v2.2h-2.2zM358.8 141.5h1.7v1.7h-1.7zM392.9 141.5h1v1h-1zM302.7 143.3h1.3v1.3h-1.3zM341.9 143.2h1.3v1.3h-1.3zM306.2 144.3h1.7v1.7h-1.7zM346.2 144.4h1.7v1.7h-1.7zM349.7 144.5h1.3v1.3h-1.3zM365.1 144.4h1.7v1.7h-1.7zM287.5 146.1h1v1h-1zM363.7 146h1.3v1.3h-1.3zM374.3 146.1h1v1h-1zM343.3 147.4h1.7v1.7h-1.7zM347.6 147.4h1.7v1.7h-1.7zM363.1 147.6h1.3v1.3h-1.3zM371.2 147.7h1v1h-1zM338.6 150.8h1v1h-1zM343.4 150.7h2.2v2.2h-2.2zM357.2 152.3h1v1h-1zM301.4 153.9h1v1h-1zM389.8 155.4h1v1h-1zM273.5 157h1v1h-1zM287.5 157h1v1h-1zM361.9 160.1h1v1h-1zM357.2 161.6h1v1h-1z" fill="#2f408c"/>
</g>
<rect x="356.3" y="132.5" width="1.5" height="1.5" fill="#e8d83a"/>
<rect x="360.5" y="136.6" width="1.5" height="1.5" fill="#4fd0c0"/>
<rect x="354.3" y="139.7" width="1.5" height="1.5" fill="#e8d83a"/>
<rect x="358.4" y="143.9" width="1.5" height="1.5" fill="#e0c040"/>
<rect x="361.3" y="145.8" width="1.5" height="1.5" fill="#4fd0c0"/>
<rect x="361.5" y="148" width="1.5" height="1.5" fill="#e8d83a"/>
<rect x="362.2" y="152.2" width="1.5" height="1.5" fill="#f0d030"/>
<rect x="358.3" y="126.8" width="1.5" height="1.5" fill="#58c8b0"/>
<rect x="350.3" y="130.3" width="1.5" height="1.5" fill="#4fc0c0"/>
<path d="M326.4 160.4V90.6H397.6V160.4Z" fill="none" stroke="#fff" stroke-width="0.9" stroke-dasharray="1.4 1.4"/>
<rect x="276" y="168" width="27.5" height="1.5" fill="#e8e8e8"/>
<text x="278" y="81.4" style="fill:#ecd028;stroke:none;font-size:8.5px">Optic nerve head</text>
<line x1="331.6" y1="88.6" x2="335.4" y2="92.4" stroke="#f0d828" stroke-width="0.7"/>
<path d="M339.9 96.9 L333.9 93.2 L336.2 90.9Z" fill="#f0d828"/>
<line x1="353.5" y1="105.4" x2="349.4" y2="109.5" stroke="#e83830" stroke-width="0.7"/>
<path d="M345.2 113.6 L348.6 108 L350.9 110.3Z" fill="#e83830"/>
<rect x="344.8" y="112.8" width="1.3" height="1.3" fill="#f0a040"/>
<defs><linearGradient id="par" x1="0" y1="1" x2="0" y2="0">
<stop offset="0" stop-color="#35299a"/>
<stop offset="0.1" stop-color="#3a4cc0"/>
<stop offset="0.2" stop-color="#2f6fd8"/>
<stop offset="0.3" stop-color="#1f8fd0"/>
<stop offset="0.4" stop-color="#12a5c0"/>
<stop offset="0.5" stop-color="#2fb5a0"/>
<stop offset="0.6" stop-color="#7cbf78"/>
<stop offset="0.7" stop-color="#c0bc5c"/>
<stop offset="0.8" stop-color="#f0b840"/>
<stop offset="0.9" stop-color="#f8d030"/>
<stop offset="1" stop-color="#eee22e"/>
</linearGradient></defs>
<rect x="421" y="32" width="18.2" height="142.3" fill="url(#par)" stroke="#222" stroke-width="0.5"/>
<rect x="421" y="172.8" width="18.2" height="1.6" fill="#000"/>
<text x="443.6" y="48.1">10</text>
<line x1="439.2" y1="44.6" x2="437.8" y2="44.6" stroke="#222" stroke-width="0.5"/>
<text x="443.6" y="73.9">8</text>
<line x1="439.2" y1="70.4" x2="437.8" y2="70.4" stroke="#222" stroke-width="0.5"/>
<text x="443.6" y="99.9">6</text>
<line x1="439.2" y1="96.4" x2="437.8" y2="96.4" stroke="#222" stroke-width="0.5"/>
<text x="443.6" y="126.3">4</text>
<line x1="439.2" y1="122.8" x2="437.8" y2="122.8" stroke="#222" stroke-width="0.5"/>
<text x="443.6" y="151.9">2</text>
<line x1="439.2" y1="148.4" x2="437.8" y2="148.4" stroke="#222" stroke-width="0.5"/>
<text x="443.6" y="172.5">0</text>
<line x1="326.4" y1="160.4" x2="238" y2="209.6" stroke="#000" stroke-width="0.7" stroke-dasharray="1.3 1.7"/>
<line x1="397.6" y1="160.4" x2="381" y2="209.6" stroke="#000" stroke-width="0.7" stroke-dasharray="1.3 1.7"/>
<line x1="326.4" y1="160.4" x2="301.6" y2="174.2" stroke="#fff" stroke-width="0.8" stroke-dasharray="1.3 1.7"/>
<line x1="397.6" y1="160.4" x2="392.9" y2="174.2" stroke="#fff" stroke-width="0.8" stroke-dasharray="1.3 1.7"/>
<line x1="507.6" y1="15.4" x2="507.6" y2="63.8" stroke="#222" stroke-width="0.8"/>
<line x1="507.6" y1="63.8" x2="672.4" y2="63.8" stroke="#222" stroke-width="0.8"/>
<text x="504.8" y="67.3" text-anchor="end">2</text>
<line x1="507.6" y1="63.8" x2="508.9" y2="63.8" stroke="#333" stroke-width="0.5"/>
<text x="504.8" y="51.1" text-anchor="end">3</text>
<line x1="507.6" y1="47.6" x2="508.9" y2="47.6" stroke="#333" stroke-width="0.5"/>
<text x="504.8" y="35" text-anchor="end">4</text>
<line x1="507.6" y1="31.5" x2="508.9" y2="31.5" stroke="#333" stroke-width="0.5"/>
<text x="504.8" y="18.9" text-anchor="end">5</text>
<line x1="507.6" y1="15.4" x2="508.9" y2="15.4" stroke="#333" stroke-width="0.5"/>
<line x1="507.6" y1="63.8" x2="507.6" y2="62.5" stroke="#333" stroke-width="0.5"/>
<text x="508.1" y="75.2" text-anchor="middle">0</text>
<line x1="548.8" y1="63.8" x2="548.8" y2="62.5" stroke="#333" stroke-width="0.5"/>
<text x="549.3" y="75.2" text-anchor="middle">500</text>
<line x1="590" y1="63.8" x2="590" y2="62.5" stroke="#333" stroke-width="0.5"/>
<text x="590.5" y="75.2" text-anchor="middle">1000</text>
<line x1="631.2" y1="63.8" x2="631.2" y2="62.5" stroke="#333" stroke-width="0.5"/>
<text x="631.7" y="75.2" text-anchor="middle">1500</text>
<line x1="672.4" y1="63.8" x2="672.4" y2="62.5" stroke="#333" stroke-width="0.5"/>
<text x="674.2" y="75.2" text-anchor="middle">2000</text>
<text x="559.5" y="87.8">Distance (μm)</text>
<text transform="translate(491.5 38.5) rotate(-90)" text-anchor="middle">Latency (ms)</text>
<line x1="507.6" y1="53.4" x2="672" y2="30.2" stroke="#222" stroke-width="0.7" stroke-dasharray="1 2.6"/>
<rect x="506.1" y="49.6" width="3" height="7.8" rx="1" fill="#e83a34"/>
<rect x="588.4" y="40.4" width="3.2" height="4" rx="1" fill="#e040a0"/>
<rect x="614.6" y="35.4" width="2.8" height="5.2" rx="1" fill="#7a3cc0"/>
<rect x="616.3" y="35" width="2.6" height="5.2" rx="1" fill="#8a48d0"/>
<rect x="637.9" y="32" width="3" height="5.6" rx="1" fill="#5aa4e0"/>
<rect x="642.1" y="30.6" width="3" height="5" rx="1" fill="#8ee0a0"/>
<rect x="649.5" y="32.4" width="3" height="7.2" rx="1" fill="#6cbc1c"/>
<rect x="654.4" y="34" width="3.2" height="7.2" rx="1" fill="#c8d820"/>
<rect x="669.7" y="27" width="3" height="6.2" rx="1" fill="#f0a020"/>
<line x1="507.6" y1="104.5" x2="507.6" y2="153.2" stroke="#222" stroke-width="0.8"/>
<text x="504.8" y="156.7" text-anchor="end">0</text>
<text x="504.8" y="144.4" text-anchor="end">0.2</text>
<line x1="507.6" y1="140.9" x2="508.9" y2="140.9" stroke="#333" stroke-width="0.5"/>
<text x="504.8" y="132.1" text-anchor="end">0.4</text>
<line x1="507.6" y1="128.6" x2="508.9" y2="128.6" stroke="#333" stroke-width="0.5"/>
<text x="504.8" y="119.8" text-anchor="end">0.6</text>
<line x1="507.6" y1="116.3" x2="508.9" y2="116.3" stroke="#333" stroke-width="0.5"/>
<text x="507.3" y="163.2" text-anchor="middle">−15</text>
<text x="562.6" y="163.2" text-anchor="middle">−10</text>
<line x1="562.9" y1="153.2" x2="562.9" y2="151.9" stroke="#333" stroke-width="0.5"/>
<text x="617.9" y="163.2" text-anchor="middle">−5</text>
<line x1="618.1" y1="153.2" x2="618.1" y2="151.9" stroke="#333" stroke-width="0.5"/>
<text x="673.7" y="163.2" text-anchor="middle">0</text>
<line x1="673.4" y1="153.2" x2="673.4" y2="151.9" stroke="#333" stroke-width="0.5"/>
<text x="590" y="176.6" text-anchor="middle">Time (ms)</text>
<text transform="translate(471.5 133) rotate(-90)" text-anchor="middle">STA</text>
<text transform="translate(484 128.5) rotate(-90)" text-anchor="middle">stim impulse</text>
<line x1="507.6" y1="153.2" x2="673.4" y2="153.2" stroke="#c03a82" stroke-width="0.8"/>
<path d="M640.6 153.2 641.2 152.6 643.2 142.8 644.6 130.4 646 142.8 648 152.6 648.6 153.2" fill="none" stroke="#e04038" stroke-width="0.65" stroke-linejoin="round"/>
<path d="M625.4 153.2 626 152.6 627.7 139.1 629 123 630.3 139.1 632 152.6 632.6 153.2" fill="none" stroke="#f0a020" stroke-width="0.65" stroke-linejoin="round"/>
<path d="M627.6 153.2 628.2 152.6 629.8 142.3 631 129.5 632.2 142.3 633.8 152.6 634.4 153.2" fill="none" stroke="#8ee0a0" stroke-width="0.65" stroke-linejoin="round"/>
<path d="M627.3 153.2 627.9 152.6 629.4 141.6 630.5 128 631.6 141.6 633.1 152.6 633.7 153.2" fill="none" stroke="#c8d820" stroke-width="0.65" stroke-linejoin="round"/>
<path d="M628.8 153.2 629.4 152.6 630.9 143.1 632 131 633.1 143.1 634.6 152.6 635.2 153.2" fill="none" stroke="#6cbc1c" stroke-width="0.65" stroke-linejoin="round"/>
<path d="M630 153.2 630.6 152.6 632 141.1 633 127 634 141.1 635.4 152.6 636 153.2" fill="none" stroke="#5aa4e0" stroke-width="0.65" stroke-linejoin="round"/>
<path d="M631.7 153.2 632.3 152.6 633.6 133.9 634.6 112.6 635.6 133.9 636.9 152.6 637.5 153.2" fill="none" stroke="#7a3cc0" stroke-width="0.65" stroke-linejoin="round"/>
<path d="M633 153.2 633.6 152.6 634.8 134.3 635.6 113.5 636.4 134.3 637.6 152.6 638.2 153.2" fill="none" stroke="#4a60d0" stroke-width="0.65" stroke-linejoin="round"/>
<path d="M634.3 153.2 634.9 152.6 636.1 134 637 112.8 637.9 134 639.1 152.6 639.7 153.2" fill="none" stroke="#c03a82" stroke-width="0.65" stroke-linejoin="round"/>
<line x1="533.5" y1="114" x2="533.5" y2="129" stroke="#222" stroke-width="0.7"/>
<path d="M533.5 129.2 597.4 129.2 597.4 116.6" fill="none" stroke="#c03a82" stroke-width="0.8"/>
<line x1="544" y1="129" x2="544" y2="128" stroke="#222" stroke-width="0.5"/>
<text x="530.6" y="123.2" text-anchor="end" style="font-size:8.4px">0.5</text>
<text x="530.8" y="133.6" text-anchor="end" style="font-size:8.4px">0</text>
<text x="543.3" y="139.4" text-anchor="middle" style="font-size:8.4px">−500</text>
<text x="597.6" y="139.4" text-anchor="middle" style="font-size:8.4px">0</text>
<line x1="604" y1="137.2" x2="614.5" y2="142" stroke="#000" stroke-width="0.7"/>
<path d="M619.2 144.3 L613.2 144 L615.2 139.9Z" fill="#000"/>
<rect x="10" y="213" width="140.4" height="139.6" fill="#000"/>
<text x="22.4" y="208.2">Recruited neurons (1.4 v)</text>
<g transform="translate(10 213) scale(1.0000 1.0000)" stroke-linejoin="round">
<path d="M9.2 20.4 12 15.5 15.3 11.2 20.4 10.4 24.5 10.2 28.6 11.2 31 12.6 32.9 14.3 33.7 16.4 33 19.5 32.7 22.5 32 25 31.7 26.6 28 27.4 24.5 28.6 21.5 30 18 29.6 16.4 28.6 14 26 12.3 23.5 9.2 20.4" fill="none" stroke="#b4b8b0" stroke-width="0.6"/>
<path d="M30.6 25.5 31.6 28.6 32.6 26 33.3 29" fill="none" stroke="#b4b8b0" stroke-width="0.5"/>
<path d="M21.5 32.7 23.5 31.6 24.6 29.8" fill="none" stroke="#b4b8b0" stroke-width="0.5"/>
<path d="M119.6 0 120.2 3.5 120.6 6.1 118 8.8 114.5 11.2 110 13.4 106.3 15.3 101 17 96 18.4 93 19.8 90 21.5 87 23.8 83.8 25.5 80 24.8 78 26.1 72.5 26.2 72.3 28.7 76 28.4 79.7 28.6 82.5 30 85.8 31.7 89 34 92 36.8 94 39 96 40.9 100 42.2 104.2 42.9 108 44.2 111.4 46 115 48 118.5 50 120.5 52 121.6 54.2 121.4 58 120.6 61.3 121.4 64.5 122.6 67.4 122.8 70 122.2 73 120.6 76.2 118.8 81.5 116.5 86.4 113.6 90.6 110.4 94.6 106.3 99.4 102.2 103.8 100.4 105 98.1 105.8 95.5 105.9 93.4 106.2 92.6 108.2 92 109.9 89 111 85.8 111.9 81.7 114 77.7 116 72.5 118.6 67.4 121.1 64.4 120.9 61.3 120.1 57.2 120.9 53.1 121.1 50.8 120.4 49 119.1 47.2 120.4 45 121.1 38 121 30.7 120.7 25.5 119.8 20.4 118.7 17.2 117.6 14.3 116 13.2 110.5 12.3 104.8 11.7 96.6 11.2 88.4 10.7 81.2 10.2 74.1 9.4 71 8.2 69 7 68.7 6.1 70 4 73.5 2 77.2 0.8 79 0 80.3" fill="none" stroke="#b4b8b0" stroke-width="0.6"/>
<path d="M6.1 67.4 6.9 70.5 7.8 67.8 9.2 72" fill="none" stroke="#b4b8b0" stroke-width="0.5"/>
</g>
<circle cx="42.3" cy="256.5" r="1.7" fill="#e03030"/><circle cx="42.3" cy="256.5" r="0.7" fill="#ffd0c0"/>
<text x="45.8" y="252.9" style="fill:#e02a20;stroke:#e02a20;font-size:10px">Stim. elec.</text>
<rect x="238" y="209.6" width="143.2" height="142.2" fill="#000"/>
<text x="260" y="206.7">Recruited neurons (1.6 v)</text>
<g transform="translate(238 209.6) scale(1.0199 1.0186)" stroke-linejoin="round">
<path d="M9.2 20.4 12 15.5 15.3 11.2 20.4 10.4 24.5 10.2 28.6 11.2 31 12.6 32.9 14.3 33.7 16.4 33 19.5 32.7 22.5 32 25 31.7 26.6 28 27.4 24.5 28.6 21.5 30 18 29.6 16.4 28.6 14 26 12.3 23.5 9.2 20.4" fill="none" stroke="#b4b8b0" stroke-width="0.6"/>
<path d="M30.6 25.5 31.6 28.6 32.6 26 33.3 29" fill="none" stroke="#b4b8b0" stroke-width="0.5"/>
<path d="M21.5 32.7 23.5 31.6 24.6 29.8" fill="none" stroke="#b4b8b0" stroke-width="0.5"/>
<path d="M119.6 0 120.2 3.5 120.6 6.1 118 8.8 114.5 11.2 110 13.4 106.3 15.3 101 17 96 18.4 93 19.8 90 21.5 87 23.8 83.8 25.5 80 24.8 78 26.1 72.5 26.2 72.3 28.7 76 28.4 79.7 28.6 82.5 30 85.8 31.7 89 34 92 36.8 94 39 96 40.9 100 42.2 104.2 42.9 108 44.2 111.4 46 115 48 118.5 50 120.5 52 121.6 54.2 121.4 58 120.6 61.3 121.4 64.5 122.6 67.4 122.8 70 122.2 73 120.6 76.2 118.8 81.5 116.5 86.4 113.6 90.6 110.4 94.6 106.3 99.4 102.2 103.8 100.4 105 98.1 105.8 95.5 105.9 93.4 106.2 92.6 108.2 92 109.9 89 111 85.8 111.9 81.7 114 77.7 116 72.5 118.6 67.4 121.1 64.4 120.9 61.3 120.1 57.2 120.9 53.1 121.1 50.8 120.4 49 119.1 47.2 120.4 45 121.1 38 121 30.7 120.7 25.5 119.8 20.4 118.7 17.2 117.6 14.3 116 13.2 110.5 12.3 104.8 11.7 96.6 11.2 88.4 10.7 81.2 10.2 74.1 9.4 71 8.2 69 7 68.7 6.1 70 4 73.5 2 77.2 0.8 79 0 80.3" fill="none" stroke="#b4b8b0" stroke-width="0.6"/>
<path d="M6.1 67.4 6.9 70.5 7.8 67.8 9.2 72" fill="none" stroke="#b4b8b0" stroke-width="0.5"/>
</g>
<circle cx="271" cy="254.2" r="1.7" fill="#e05020"/><circle cx="271" cy="254.2" r="0.7" fill="#ffc090"/>
<rect x="291.8" y="290.1" width="1.7" height="1.7" rx="0.5" fill="#e8c468"/>
<rect x="298.8" y="300.6" width="1.7" height="1.7" rx="0.5" fill="#e8c468"/>
<rect x="289" y="306.5" width="1.7" height="1.7" rx="0.5" fill="#30b4a4"/>
<rect x="298.1" y="314.9" width="1.7" height="1.7" rx="0.5" fill="#ecd040"/>
<rect x="303.5" y="314.9" width="1.7" height="1.7" rx="0.5" fill="#30b4a4"/>
<rect x="303.3" y="319.5" width="1.7" height="1.7" rx="0.5" fill="#ecd040"/>
<rect x="304.8" y="321.6" width="1.7" height="1.7" rx="0.5" fill="#ecd040"/>
<rect x="304.8" y="330.8" width="1.7" height="1.7" rx="0.5" fill="#ecd040"/>
<rect x="467" y="213" width="139.4" height="138.2" fill="#000"/>
<text x="482.4" y="208.2">Recruited neurons (1.8 v)</text>
<g transform="translate(467 213) scale(0.9929 0.9900)" stroke-linejoin="round">
<path d="M9.2 20.4 12 15.5 15.3 11.2 20.4 10.4 24.5 10.2 28.6 11.2 31 12.6 32.9 14.3 33.7 16.4 33 19.5 32.7 22.5 32 25 31.7 26.6 28 27.4 24.5 28.6 21.5 30 18 29.6 16.4 28.6 14 26 12.3 23.5 9.2 20.4" fill="none" stroke="#b4b8b0" stroke-width="0.6"/>
<path d="M30.6 25.5 31.6 28.6 32.6 26 33.3 29" fill="none" stroke="#b4b8b0" stroke-width="0.5"/>
<path d="M21.5 32.7 23.5 31.6 24.6 29.8" fill="none" stroke="#b4b8b0" stroke-width="0.5"/>
<path d="M119.6 0 120.2 3.5 120.6 6.1 118 8.8 114.5 11.2 110 13.4 106.3 15.3 101 17 96 18.4 93 19.8 90 21.5 87 23.8 83.8 25.5 80 24.8 78 26.1 72.5 26.2 72.3 28.7 76 28.4 79.7 28.6 82.5 30 85.8 31.7 89 34 92 36.8 94 39 96 40.9 100 42.2 104.2 42.9 108 44.2 111.4 46 115 48 118.5 50 120.5 52 121.6 54.2 121.4 58 120.6 61.3 121.4 64.5 122.6 67.4 122.8 70 122.2 73 120.6 76.2 118.8 81.5 116.5 86.4 113.6 90.6 110.4 94.6 106.3 99.4 102.2 103.8 100.4 105 98.1 105.8 95.5 105.9 93.4 106.2 92.6 108.2 92 109.9 89 111 85.8 111.9 81.7 114 77.7 116 72.5 118.6 67.4 121.1 64.4 120.9 61.3 120.1 57.2 120.9 53.1 121.1 50.8 120.4 49 119.1 47.2 120.4 45 121.1 38 121 30.7 120.7 25.5 119.8 20.4 118.7 17.2 117.6 14.3 116 13.2 110.5 12.3 104.8 11.7 96.6 11.2 88.4 10.7 81.2 10.2 74.1 9.4 71 8.2 69 7 68.7 6.1 70 4 73.5 2 77.2 0.8 79 0 80.3" fill="none" stroke="#b4b8b0" stroke-width="0.6"/>
<path d="M6.1 67.4 6.9 70.5 7.8 67.8 9.2 72" fill="none" stroke="#b4b8b0" stroke-width="0.5"/>
</g>
<circle cx="499.1" cy="256.3" r="1.7" fill="#e05020"/><circle cx="499.1" cy="256.3" r="0.7" fill="#ffc090"/>
<rect x="503.9" y="268.3" width="1.7" height="1.7" rx="0.5" fill="#30b4a4"/>
<rect x="506.4" y="267.8" width="1.7" height="1.7" rx="0.5" fill="#f0a030"/>
<rect x="513.1" y="283.8" width="1.7" height="1.7" rx="0.5" fill="#e8c468"/>
<rect x="516.9" y="287.3" width="1.7" height="1.7" rx="0.5" fill="#e8c468"/>
<rect x="514.8" y="292" width="1.7" height="1.7" rx="0.5" fill="#ecd040"/>
<rect x="519.2" y="291.3" width="1.7" height="1.7" rx="0.5" fill="#e8c468"/>
<rect x="517.9" y="297.5" width="1.7" height="1.7" rx="0.5" fill="#e8c468"/>
<rect x="515.9" y="301.6" width="1.7" height="1.7" rx="0.5" fill="#ecd040"/>
<rect x="520.9" y="300.9" width="1.7" height="1.7" rx="0.5" fill="#e8c468"/>
<rect x="526" y="301.6" width="1.7" height="1.7" rx="0.5" fill="#ecd040"/>
<rect x="527.4" y="304" width="1.7" height="1.7" rx="0.5" fill="#e8c468"/>
<rect x="516.6" y="307.1" width="1.7" height="1.7" rx="0.5" fill="#e8c468"/>
<rect x="525.4" y="315.5" width="1.7" height="1.7" rx="0.5" fill="#a8d090"/>
<rect x="530.5" y="315.5" width="1.7" height="1.7" rx="0.5" fill="#ecd040"/>
<rect x="536.2" y="317.9" width="1.7" height="1.7" rx="0.5" fill="#ecd040"/>
<rect x="524.4" y="320" width="1.7" height="1.7" rx="0.5" fill="#ecd040"/>
<rect x="531.9" y="322" width="1.7" height="1.7" rx="0.5" fill="#e8c468"/>
<rect x="529.5" y="326.5" width="1.7" height="1.7" rx="0.5" fill="#a8d090"/>
<rect x="118.4" y="341" width="22" height="3.1" fill="#fff"/>
<rect x="348.4" y="339.8" width="22.2" height="3.1" fill="#fff"/>
<rect x="574" y="339.4" width="22" height="3.1" fill="#fff"/>
<rect x="160" y="339.9" width="17.5" height="12.9" fill="#000000"/>
<rect x="160" y="327.1" width="17.5" height="12.9" fill="#3d52ac"/>
<rect x="160" y="314.4" width="17.5" height="12.9" fill="#3b69bc"/>
<rect x="160" y="301.7" width="17.5" height="12.9" fill="#2c86c8"/>
<rect x="160" y="289" width="17.5" height="12.9" fill="#1a9fc0"/>
<rect x="160" y="276.2" width="17.5" height="12.9" fill="#38b89c"/>
<rect x="160" y="263.5" width="17.5" height="12.9" fill="#7cc07c"/>
<rect x="160" y="250.8" width="17.5" height="12.9" fill="#b6b85c"/>
<rect x="160" y="238.1" width="17.5" height="12.9" fill="#e8ae48"/>
<rect x="160" y="225.3" width="17.5" height="12.9" fill="#f6c82c"/>
<rect x="160" y="212.6" width="17.5" height="12.9" fill="#e9de2a"/>
<rect x="160" y="212.6" width="17.5" height="140" fill="none" stroke="#222" stroke-width="0.5"/>
<text x="157.6" y="208.4">Resp. %</text>
<text x="182.4" y="349.7">0</text>
<text x="182.4" y="324.3">20</text>
<line x1="177.5" y1="320.8" x2="176.2" y2="320.8" stroke="#222" stroke-width="0.5"/>
<text x="182.4" y="298.8">40</text>
<line x1="177.5" y1="295.3" x2="176.2" y2="295.3" stroke="#222" stroke-width="0.5"/>
<text x="182.4" y="273.4">60</text>
<line x1="177.5" y1="269.9" x2="176.2" y2="269.9" stroke="#222" stroke-width="0.5"/>
<text x="182.4" y="247.9">80</text>
<line x1="177.5" y1="244.4" x2="176.2" y2="244.4" stroke="#222" stroke-width="0.5"/>
<text x="182.4" y="222.5">100</text>
<line x1="177.5" y1="219" x2="176.2" y2="219" stroke="#222" stroke-width="0.5"/>
<path d="M177.1 282.6 l4.4 -2.8 v5.6z" fill="#000"/>
<text x="185.5" y="286.1">Threshold</text>
<rect x="390.4" y="338.9" width="17.6" height="13.1" fill="#000000"/>
<rect x="390.4" y="325.9" width="17.6" height="13.1" fill="#3d52ac"/>
<rect x="390.4" y="313" width="17.6" height="13.1" fill="#3b69bc"/>
<rect x="390.4" y="300.1" width="17.6" height="13.1" fill="#2c86c8"/>
<rect x="390.4" y="287.2" width="17.6" height="13.1" fill="#1a9fc0"/>
<rect x="390.4" y="274.2" width="17.6" height="13.1" fill="#38b89c"/>
<rect x="390.4" y="261.3" width="17.6" height="13.1" fill="#7cc07c"/>
<rect x="390.4" y="248.4" width="17.6" height="13.1" fill="#b6b85c"/>
<rect x="390.4" y="235.5" width="17.6" height="13.1" fill="#e8ae48"/>
<rect x="390.4" y="222.5" width="17.6" height="13.1" fill="#f6c82c"/>
<rect x="390.4" y="209.6" width="17.6" height="13.1" fill="#e9de2a"/>
<rect x="390.4" y="209.6" width="17.6" height="142.2" fill="none" stroke="#222" stroke-width="0.5"/>
<text x="388" y="206.7">Resp. %</text>
<text x="413" y="348.8">0</text>
<text x="413" y="323">20</text>
<line x1="408" y1="319.5" x2="406.7" y2="319.5" stroke="#222" stroke-width="0.5"/>
<text x="413" y="297.1">40</text>
<line x1="408" y1="293.6" x2="406.7" y2="293.6" stroke="#222" stroke-width="0.5"/>
<text x="413" y="271.3">60</text>
<line x1="408" y1="267.8" x2="406.7" y2="267.8" stroke="#222" stroke-width="0.5"/>
<text x="413" y="245.4">80</text>
<line x1="408" y1="241.9" x2="406.7" y2="241.9" stroke="#222" stroke-width="0.5"/>
<text x="413" y="219.6">100</text>
<line x1="408" y1="216.1" x2="406.7" y2="216.1" stroke="#222" stroke-width="0.5"/>
<path d="M407.6 280.7 l4.4 -2.8 v5.6z" fill="#000"/>
<rect x="615.4" y="338.6" width="16.6" height="12.7" fill="#000000"/>
<rect x="615.4" y="326.1" width="16.6" height="12.7" fill="#3d52ac"/>
<rect x="615.4" y="313.5" width="16.6" height="12.7" fill="#3b69bc"/>
<rect x="615.4" y="300.9" width="16.6" height="12.7" fill="#2c86c8"/>
<rect x="615.4" y="288.4" width="16.6" height="12.7" fill="#1a9fc0"/>
<rect x="615.4" y="275.8" width="16.6" height="12.7" fill="#38b89c"/>
<rect x="615.4" y="263.3" width="16.6" height="12.7" fill="#7cc07c"/>
<rect x="615.4" y="250.7" width="16.6" height="12.7" fill="#b6b85c"/>
<rect x="615.4" y="238.1" width="16.6" height="12.7" fill="#e8ae48"/>
<rect x="615.4" y="225.6" width="16.6" height="12.7" fill="#f6c82c"/>
<rect x="615.4" y="213" width="16.6" height="12.7" fill="#e9de2a"/>
<rect x="615.4" y="213" width="16.6" height="138.2" fill="none" stroke="#222" stroke-width="0.5"/>
<text x="613.6" y="209">Resp. %</text>
<text x="637.4" y="348.4">0</text>
<text x="637.4" y="323.3">20</text>
<line x1="632" y1="319.8" x2="630.7" y2="319.8" stroke="#222" stroke-width="0.5"/>
<text x="637.4" y="298.2">40</text>
<line x1="632" y1="294.7" x2="630.7" y2="294.7" stroke="#222" stroke-width="0.5"/>
<text x="637.4" y="273">60</text>
<line x1="632" y1="269.5" x2="630.7" y2="269.5" stroke="#222" stroke-width="0.5"/>
<text x="637.4" y="247.9">80</text>
<line x1="632" y1="244.4" x2="630.7" y2="244.4" stroke="#222" stroke-width="0.5"/>
<text x="637.4" y="222.8">100</text>
<line x1="632" y1="219.3" x2="630.7" y2="219.3" stroke="#222" stroke-width="0.5"/>
<path d="M631.6 282.1 l4.4 -2.8 v5.6z" fill="#000"/>
</svg></body></html>
